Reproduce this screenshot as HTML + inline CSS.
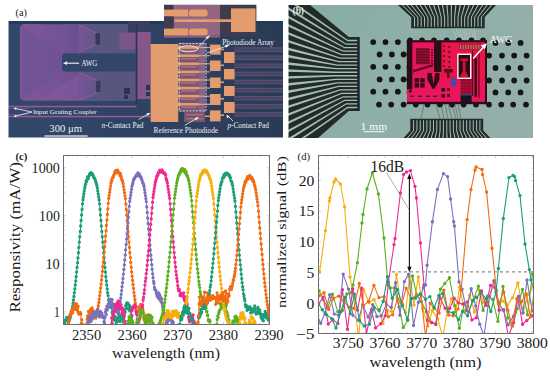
<!DOCTYPE html><html><head><meta charset="utf-8"><style>html,body{margin:0;padding:0;background:#fff;overflow:hidden;}svg{display:block;}</style></head><body><svg width="550" height="376" viewBox="0 0 550 376"><defs><clipPath id="ca"><path d="M8.5,21 H164 V4.7 H256.4 V21 H283 V137.5 H8.5 Z"/></clipPath><linearGradient id="awg" x1="0" y1="0" x2="1" y2="0"><stop offset="0" stop-color="#7e5598"/><stop offset="0.3" stop-color="#7a5497"/><stop offset="0.7" stop-color="#735293"/><stop offset="1" stop-color="#6a5090"/></linearGradient><linearGradient id="navy" x1="0" y1="0" x2="1" y2="0"><stop offset="0" stop-color="#30476b"/><stop offset="0.5" stop-color="#2f4264"/><stop offset="1" stop-color="#2b3a54"/></linearGradient></defs><defs><filter id="soft" x="-2%" y="-2%" width="104%" height="104%"><feGaussianBlur stdDeviation="0.45"/></filter></defs><g clip-path="url(#ca)"><g filter="url(#soft)"><rect x="0" y="0" width="290" height="140" fill="url(#navy)"/><rect x="8.5" y="21" width="275" height="3" fill="#243a5c"/><rect x="164" y="4.7" width="93" height="31" fill="#3d3e50"/><rect x="173.6" y="4.7" width="46.4" height="31" fill="#946682"/><rect x="62" y="24" width="74" height="77" fill="#58557f"/><defs><linearGradient id="horn" x1="0" y1="0" x2="1" y2="0"><stop offset="0" stop-color="#76549a"/><stop offset="1" stop-color="#635884"/></linearGradient></defs><path d="M20,29 Q20,24 25,24 L79,24.4 L79,52.7 L66,53.6 Q62.1,53.6 62.1,57.5 L62.1,67.7 Q62.1,71.6 66,71.6 L79,72.5 L79,100.8 L25,100.8 Q20,100.8 20,96 Z" fill="url(#awg)"/><path d="M78.5,24.4 L96.4,33 L96.4,44.7 L78.5,52.7 Z M78.5,72.5 L97,80.5 L97,92.8 L78.5,100.8 Z" fill="url(#horn)"/><path d="M22,26 L62,53.6 L62,71.6 L22,99 Z" fill="#6c5192" opacity="0.6"/><path d="M40,100 L78,100 L78,75 Z" fill="#8a5aa0" opacity="0.5"/><path d="M95.5,33 L100,33 L100,44.7 L95.5,44.7 Z" fill="#3a3556"/><path d="M96,80.5 L100.5,80.5 L100.5,92 L96,92 Z" fill="#40385c"/><path d="M79,24.4 L96.4,33 M79,52.7 L96.4,44.7 M79,72.5 L97.8,80.5 M79,100.8 L97,92.8" stroke="#a05a98" stroke-width="0.9" fill="none"/><rect x="119.5" y="32.4" width="31" height="17" fill="#7d5486"/><rect x="128" y="21" width="22" height="11.4" fill="#384162"/><rect x="137.2" y="32" width="13.4" height="67" fill="#84568a"/><rect x="135.7" y="24" width="1.6" height="80" fill="#2c3556"/><rect x="124" y="88" width="6" height="6" fill="#2c3556"/><rect x="124" y="95" width="4" height="4" fill="#2c3556"/><rect x="146" y="85" width="4" height="5" fill="#2c3556"/><rect x="146" y="92" width="4" height="4" fill="#2c3556"/><path d="M65.6,53.6 L136,53.6 L136,71.6 L65.6,71.6 Q62.1,71.6 62.1,68 L62.1,57 Q62.1,53.6 65.6,53.6 Z" fill="#31456a"/><rect x="8.5" y="105.8" width="128" height="1.5" fill="#9a5a9a"/><rect x="8.5" y="108.2" width="20" height="0.8" fill="#7a5090"/><rect x="8.5" y="114.2" width="20" height="0.8" fill="#7a5090"/><rect x="8.5" y="115.8" width="142" height="1.5" fill="#9a5a9a"/><rect x="150.6" y="44" width="27.6" height="78" fill="#e29c6e"/><rect x="179" y="43.4" width="26" height="68" fill="#7a5478"/><rect x="199" y="43.4" width="6" height="68" fill="#8c6282"/><rect x="178" y="46.3" width="21" height="2.6" fill="#e29c6e"/><rect x="181" y="49.9" width="15" height="1.3" fill="#b07a70"/><rect x="199" y="47.1" width="11" height="1" fill="#d8b0a0"/><rect x="178" y="54.4" width="21" height="2.6" fill="#e29c6e"/><rect x="181" y="58.0" width="15" height="1.3" fill="#b07a70"/><rect x="199" y="55.2" width="11" height="1" fill="#d8b0a0"/><rect x="178" y="62.5" width="21" height="2.6" fill="#e29c6e"/><rect x="181" y="66.1" width="15" height="1.3" fill="#b07a70"/><rect x="199" y="63.3" width="11" height="1" fill="#d8b0a0"/><rect x="178" y="70.6" width="21" height="2.6" fill="#e29c6e"/><rect x="181" y="74.2" width="15" height="1.3" fill="#b07a70"/><rect x="199" y="71.4" width="11" height="1" fill="#d8b0a0"/><rect x="178" y="78.7" width="21" height="2.6" fill="#e29c6e"/><rect x="181" y="82.3" width="15" height="1.3" fill="#b07a70"/><rect x="199" y="79.5" width="11" height="1" fill="#d8b0a0"/><rect x="178" y="86.8" width="21" height="2.6" fill="#e29c6e"/><rect x="181" y="90.4" width="15" height="1.3" fill="#b07a70"/><rect x="199" y="87.6" width="11" height="1" fill="#d8b0a0"/><rect x="178" y="94.9" width="21" height="2.6" fill="#e29c6e"/><rect x="181" y="98.5" width="15" height="1.3" fill="#b07a70"/><rect x="199" y="95.7" width="11" height="1" fill="#d8b0a0"/><rect x="178" y="103.0" width="21" height="2.6" fill="#e29c6e"/><rect x="181" y="106.6" width="15" height="1.3" fill="#b07a70"/><rect x="199" y="103.8" width="11" height="1" fill="#d8b0a0"/><rect x="184" y="112" width="21" height="10" fill="#7a5272"/><rect x="186" y="114" width="17" height="1.4" fill="#a87470"/><rect x="186" y="118" width="17" height="1.4" fill="#a87470"/><rect x="205" y="115.5" width="5" height="1.5" fill="#e29c6e"/><rect x="234" y="48.0" width="50" height="3.2" fill="#3c4866"/><rect x="234" y="47.4" width="50" height="0.9" fill="#6e4e72"/><rect x="234" y="50.9" width="50" height="0.9" fill="#6e4e72"/><rect x="234" y="56.1" width="50" height="3.2" fill="#3c4866"/><rect x="234" y="55.5" width="50" height="0.9" fill="#6e4e72"/><rect x="234" y="59.0" width="50" height="0.9" fill="#6e4e72"/><rect x="234" y="64.2" width="50" height="3.2" fill="#3c4866"/><rect x="234" y="63.6" width="50" height="0.9" fill="#6e4e72"/><rect x="234" y="67.1" width="50" height="0.9" fill="#6e4e72"/><rect x="234" y="72.3" width="50" height="3.2" fill="#3c4866"/><rect x="234" y="71.7" width="50" height="0.9" fill="#6e4e72"/><rect x="234" y="75.2" width="50" height="0.9" fill="#6e4e72"/><rect x="234" y="80.4" width="50" height="3.2" fill="#3c4866"/><rect x="234" y="79.8" width="50" height="0.9" fill="#6e4e72"/><rect x="234" y="83.3" width="50" height="0.9" fill="#6e4e72"/><rect x="234" y="88.5" width="50" height="3.2" fill="#3c4866"/><rect x="234" y="87.9" width="50" height="0.9" fill="#6e4e72"/><rect x="234" y="91.4" width="50" height="0.9" fill="#6e4e72"/><rect x="234" y="96.6" width="50" height="3.2" fill="#3c4866"/><rect x="234" y="96.0" width="50" height="0.9" fill="#6e4e72"/><rect x="234" y="99.5" width="50" height="0.9" fill="#6e4e72"/><rect x="234" y="104.7" width="50" height="3.2" fill="#3c4866"/><rect x="234" y="104.1" width="50" height="0.9" fill="#6e4e72"/><rect x="234" y="107.6" width="50" height="0.9" fill="#6e4e72"/><rect x="234" y="112.8" width="50" height="3.2" fill="#3c4866"/><rect x="234" y="112.2" width="50" height="0.9" fill="#6e4e72"/><rect x="234" y="115.7" width="50" height="0.9" fill="#6e4e72"/><rect x="210" y="48.6" width="14" height="1.6" fill="#e29c6e"/><rect x="210" y="44.6" width="10.6" height="10.0" fill="#e29c6e"/><rect x="210" y="64.5" width="14" height="1.6" fill="#e29c6e"/><rect x="210" y="60.5" width="10.6" height="10.5" fill="#e29c6e"/><rect x="210" y="81.5" width="14" height="1.6" fill="#e29c6e"/><rect x="210" y="77.5" width="10.6" height="10.5" fill="#e29c6e"/><rect x="210" y="98.0" width="14" height="1.6" fill="#e29c6e"/><rect x="210" y="94" width="10.6" height="11.0" fill="#e29c6e"/><rect x="210" y="114.4" width="14" height="1.6" fill="#e29c6e"/><rect x="210" y="110.4" width="10.6" height="11.0" fill="#e29c6e"/><rect x="224" y="52" width="10.6" height="11.0" fill="#e29c6e"/><rect x="224" y="69" width="10.6" height="10.4" fill="#e29c6e"/><rect x="224" y="86" width="10.6" height="10.0" fill="#e29c6e"/><rect x="224" y="102" width="10.6" height="11.0" fill="#e29c6e"/><rect x="164" y="9.6" width="24.2" height="6.9" fill="#e29c6e"/><rect x="189" y="9.6" width="18.6" height="6.9" rx="2.5" fill="#e29c6e"/><rect x="174.5" y="19.3" width="56.5" height="2.7" fill="#e29c6e"/><rect x="231" y="8.4" width="24.5" height="23.6" fill="#e29c6e"/><rect x="164" y="28.4" width="24.2" height="7.2" fill="#e29c6e"/><rect x="189" y="28.4" width="18.6" height="7.2" rx="2.5" fill="#e29c6e"/><rect x="164" y="16.5" width="9.6" height="11.9" fill="#3d3e50"/><rect x="164" y="35.6" width="56" height="2" fill="#8e5f82"/><rect x="179.2" y="43.4" width="26.8" height="67.6" fill="none" stroke="#e4e4ee" stroke-width="0.9" stroke-dasharray="2.2,1.1"/><ellipse cx="188.5" cy="48.8" rx="9.5" ry="3" fill="none" stroke="#f0f0f0" stroke-width="0.9"/></g></g><text x="81.4" y="65.5" font-size="7.6" font-family="Liberation Serif" fill="#f2f2f2" textLength="15.9" lengthAdjust="spacingAndGlyphs" >AWG</text><path d="M66,63.2 L79.1,63.2" stroke="#f2f2f2" stroke-width="1.1"/><path d="M63,63.2 L67,61.3 L67,65.1 Z" fill="#f2f2f2"/><text x="32.9" y="114.4" font-size="6.8" font-family="Liberation Serif" fill="#f2f2f2" textLength="63.8" lengthAdjust="spacingAndGlyphs" >Input Grating Coupler</text><path d="M32,112 L15.5,108.6 M32,112 L15.5,116" stroke="#f2f2f2" stroke-width="0.8" fill="none"/><path d="M13.5,108.2 L16.5,107.3 L16,110 Z M13.5,116.4 L16,114.6 L16.5,117.3 Z" fill="#f2f2f2"/><text x="49.3" y="132.4" font-size="10.2" font-family="Liberation Serif" fill="#f2f2f2" textLength="32.7" lengthAdjust="spacingAndGlyphs" >300 μm</text><rect x="44.4" y="135.4" width="43.3" height="1.2" fill="#f2f2f2"/><text x="101.6" y="128.2" font-size="7.6" font-family="Liberation Serif" fill="#f2f2f2" textLength="41.9" lengthAdjust="spacingAndGlyphs" ><tspan font-style="italic">n</tspan>-Contact Pad</text><text x="153.6" y="133" font-size="7.6" font-family="Liberation Serif" fill="#f2f2f2" textLength="64.4" lengthAdjust="spacingAndGlyphs" >Reference Photodiode</text><text x="227.4" y="128" font-size="7.6" font-family="Liberation Serif" fill="#f2f2f2" textLength="41.6" lengthAdjust="spacingAndGlyphs" ><tspan font-style="italic">p</tspan>-Contact Pad</text><text x="222.3" y="45" font-size="7.6" font-family="Liberation Serif" fill="#f2f2f2" textLength="51.7" lengthAdjust="spacingAndGlyphs" >Photodiode Array</text><path d="M199,46.5 L208,37 M207,53 L227,45.8 M138.7,119.5 L149,113.6 M184.8,125.4 L197.5,117.8 M233,121 L228,116" stroke="#f2f2f2" stroke-width="0.8" fill="none"/><path d="M210,35 L205.5,37.3 L207.8,39.2 Z M229.5,45 L224.8,45 L226,47.8 Z M150.6,112.8 L146.2,113.6 L147.8,116 Z M199,117 L194.7,118 L196.2,120.4 Z M226.5,114.5 L227,118.5 L229.5,116.6 Z" fill="#f2f2f2"/><text x="15.5" y="16.4" font-size="10.5" font-family="Liberation Serif" fill="#1a1a1a" textLength="11.4" lengthAdjust="spacingAndGlyphs">(a)</text><defs><clipPath id="cb"><rect x="288.5" y="5" width="244.5" height="133"/></clipPath><linearGradient id="bgb" x1="0" y1="0" x2="1" y2="0.3"><stop offset="0" stop-color="#86aca4"/><stop offset="0.5" stop-color="#8fafa9"/><stop offset="1" stop-color="#94aeaa"/></linearGradient><linearGradient id="chipg" x1="0" y1="0" x2="1" y2="1"><stop offset="0" stop-color="#e0184e"/><stop offset="0.6" stop-color="#e41a52"/><stop offset="1" stop-color="#c8144a"/></linearGradient></defs><g clip-path="url(#cb)"><g filter="url(#soft)"><rect x="288.5" y="5" width="244.5" height="133" fill="url(#bgb)"/><path d="M280,5 L310,5 L348.8,37 L359.5,37 L359.5,111 L348.8,111 L318,138 L280,138 Z" fill="#232a2b"/><path d="M280.00,-7.31 L347.52,39.87 L357.50,39.87 L357.50,41.17 L347.52,41.17 L280.00,-4.51Z" fill="#a2c0b0"/><path d="M280.00,2.01 L346.05,43.40 L357.50,43.40 L357.50,44.70 L346.05,44.70 L280.00,4.81Z" fill="#a2c0b0"/><path d="M280.00,11.12 L344.57,46.92 L357.50,46.92 L357.50,48.22 L344.57,48.22 L280.00,13.92Z" fill="#a2c0b0"/><path d="M280.00,20.01 L343.10,50.45 L357.50,50.45 L357.50,51.75 L343.10,51.75 L280.00,22.81Z" fill="#a2c0b0"/><path d="M280.00,28.69 L341.62,53.97 L357.50,53.97 L357.50,55.27 L341.62,55.27 L280.00,31.49Z" fill="#a2c0b0"/><path d="M280.00,37.15 L340.14,57.49 L357.50,57.49 L357.50,58.79 L340.14,58.79 L280.00,39.95Z" fill="#a2c0b0"/><path d="M280.00,45.40 L338.67,61.02 L357.50,61.02 L357.50,62.32 L338.67,62.32 L280.00,48.20Z" fill="#a2c0b0"/><path d="M280.00,53.44 L337.19,64.54 L357.50,64.54 L357.50,65.84 L337.19,65.84 L280.00,56.24Z" fill="#a2c0b0"/><path d="M280.00,61.27 L335.71,68.06 L357.50,68.06 L357.50,69.36 L335.71,69.36 L280.00,64.07Z" fill="#a2c0b0"/><path d="M280.00,68.88 L334.24,71.59 L357.50,71.59 L357.50,72.89 L334.24,72.89 L280.00,71.68Z" fill="#a2c0b0"/><path d="M280.00,76.32 L334.24,75.11 L357.50,75.11 L357.50,76.41 L334.24,76.41 L280.00,79.12Z" fill="#a2c0b0"/><path d="M280.00,83.93 L335.71,78.64 L357.50,78.64 L357.50,79.94 L335.71,79.94 L280.00,86.73Z" fill="#a2c0b0"/><path d="M280.00,91.76 L337.19,82.16 L357.50,82.16 L357.50,83.46 L337.19,83.46 L280.00,94.56Z" fill="#a2c0b0"/><path d="M280.00,99.80 L338.67,85.68 L357.50,85.68 L357.50,86.98 L338.67,86.98 L280.00,102.60Z" fill="#a2c0b0"/><path d="M280.00,108.05 L340.14,89.21 L357.50,89.21 L357.50,90.51 L340.14,90.51 L280.00,110.85Z" fill="#a2c0b0"/><path d="M280.00,116.51 L341.62,92.73 L357.50,92.73 L357.50,94.03 L341.62,94.03 L280.00,119.31Z" fill="#a2c0b0"/><path d="M280.00,125.19 L343.10,96.25 L357.50,96.25 L357.50,97.55 L343.10,97.55 L280.00,127.99Z" fill="#a2c0b0"/><path d="M280.00,134.08 L344.57,99.78 L357.50,99.78 L357.50,101.08 L344.57,101.08 L280.00,136.88Z" fill="#a2c0b0"/><path d="M280.00,143.19 L346.05,103.30 L357.50,103.30 L357.50,104.60 L346.05,104.60 L280.00,145.99Z" fill="#a2c0b0"/><path d="M280.00,152.51 L347.52,106.83 L357.50,106.83 L357.50,108.13 L347.52,108.13 L280.00,155.31Z" fill="#a2c0b0"/><rect x="357.5" y="37" width="2" height="74" fill="#1a2238"/><path d="M397.9,5 L496,5 L484.7,17.3 L484.7,28.2 L411.2,28.2 L411.2,17.3 Z" fill="#232a2b"/><path d="M401.76,5 L414.04,17.3 L414.04,26.8 L415.04,26.8 L415.04,17.3 L402.96,5 Z" fill="#a2c0b0"/><path d="M406.22,5 L417.38,17.3 L417.38,26.8 L418.38,26.8 L418.38,17.3 L407.42,5 Z" fill="#a2c0b0"/><path d="M410.68,5 L420.72,17.3 L420.72,26.8 L421.72,26.8 L421.72,17.3 L411.88,5 Z" fill="#a2c0b0"/><path d="M415.14,5 L424.06,17.3 L424.06,26.8 L425.06,26.8 L425.06,17.3 L416.34,5 Z" fill="#a2c0b0"/><path d="M419.60,5 L427.40,17.3 L427.40,26.8 L428.40,26.8 L428.40,17.3 L420.80,5 Z" fill="#a2c0b0"/><path d="M424.05,5 L430.75,17.3 L430.75,26.8 L431.75,26.8 L431.75,17.3 L425.25,5 Z" fill="#a2c0b0"/><path d="M428.51,5 L434.09,17.3 L434.09,26.8 L435.09,26.8 L435.09,17.3 L429.71,5 Z" fill="#a2c0b0"/><path d="M432.97,5 L437.43,17.3 L437.43,26.8 L438.43,26.8 L438.43,17.3 L434.17,5 Z" fill="#a2c0b0"/><path d="M437.43,5 L440.77,17.3 L440.77,26.8 L441.77,26.8 L441.77,17.3 L438.63,5 Z" fill="#a2c0b0"/><path d="M441.89,5 L444.11,17.3 L444.11,26.8 L445.11,26.8 L445.11,17.3 L443.09,5 Z" fill="#a2c0b0"/><path d="M446.35,5 L447.45,17.3 L447.45,26.8 L448.45,26.8 L448.45,17.3 L447.55,5 Z" fill="#a2c0b0"/><path d="M450.81,5 L450.79,17.3 L450.79,26.8 L451.79,26.8 L451.79,17.3 L452.01,5 Z" fill="#a2c0b0"/><path d="M455.27,5 L454.13,17.3 L454.13,26.8 L455.13,26.8 L455.13,17.3 L456.47,5 Z" fill="#a2c0b0"/><path d="M459.73,5 L457.47,17.3 L457.47,26.8 L458.47,26.8 L458.47,17.3 L460.93,5 Z" fill="#a2c0b0"/><path d="M464.19,5 L460.81,17.3 L460.81,26.8 L461.81,26.8 L461.81,17.3 L465.39,5 Z" fill="#a2c0b0"/><path d="M468.65,5 L464.15,17.3 L464.15,26.8 L465.15,26.8 L465.15,17.3 L469.85,5 Z" fill="#a2c0b0"/><path d="M473.10,5 L467.50,17.3 L467.50,26.8 L468.50,26.8 L468.50,17.3 L474.30,5 Z" fill="#a2c0b0"/><path d="M477.56,5 L470.84,17.3 L470.84,26.8 L471.84,26.8 L471.84,17.3 L478.76,5 Z" fill="#a2c0b0"/><path d="M482.02,5 L474.18,17.3 L474.18,26.8 L475.18,26.8 L475.18,17.3 L483.22,5 Z" fill="#a2c0b0"/><path d="M486.48,5 L477.52,17.3 L477.52,26.8 L478.52,26.8 L478.52,17.3 L487.68,5 Z" fill="#a2c0b0"/><path d="M490.94,5 L480.86,17.3 L480.86,26.8 L481.86,26.8 L481.86,17.3 L492.14,5 Z" fill="#a2c0b0"/><path d="M410.3,118.7 L483.2,118.7 L483.2,130.5 L492.3,140 L401.7,140 L410.3,130.5 Z" fill="#232a2b"/><path d="M413.11,120.2 L413.11,130.5 L405.22,140 L406.42,140 L414.11,130.5 L414.11,120.2 Z" fill="#a2c0b0"/><path d="M416.43,120.2 L416.43,130.5 L409.34,140 L410.54,140 L417.43,130.5 L417.43,120.2 Z" fill="#a2c0b0"/><path d="M419.74,120.2 L419.74,130.5 L413.45,140 L414.65,140 L420.74,130.5 L420.74,120.2 Z" fill="#a2c0b0"/><path d="M423.05,120.2 L423.05,130.5 L417.57,140 L418.77,140 L424.05,130.5 L424.05,120.2 Z" fill="#a2c0b0"/><path d="M426.37,120.2 L426.37,130.5 L421.69,140 L422.89,140 L427.37,130.5 L427.37,120.2 Z" fill="#a2c0b0"/><path d="M429.68,120.2 L429.68,130.5 L425.81,140 L427.01,140 L430.68,130.5 L430.68,120.2 Z" fill="#a2c0b0"/><path d="M433.00,120.2 L433.00,130.5 L429.93,140 L431.13,140 L434.00,130.5 L434.00,120.2 Z" fill="#a2c0b0"/><path d="M436.31,120.2 L436.31,130.5 L434.05,140 L435.25,140 L437.31,130.5 L437.31,120.2 Z" fill="#a2c0b0"/><path d="M439.62,120.2 L439.62,130.5 L438.16,140 L439.36,140 L440.62,130.5 L440.62,120.2 Z" fill="#a2c0b0"/><path d="M442.94,120.2 L442.94,130.5 L442.28,140 L443.48,140 L443.94,130.5 L443.94,120.2 Z" fill="#a2c0b0"/><path d="M446.25,120.2 L446.25,130.5 L446.40,140 L447.60,140 L447.25,130.5 L447.25,120.2 Z" fill="#a2c0b0"/><path d="M449.56,120.2 L449.56,130.5 L450.52,140 L451.72,140 L450.56,130.5 L450.56,120.2 Z" fill="#a2c0b0"/><path d="M452.88,120.2 L452.88,130.5 L454.64,140 L455.84,140 L453.88,130.5 L453.88,120.2 Z" fill="#a2c0b0"/><path d="M456.19,120.2 L456.19,130.5 L458.75,140 L459.95,140 L457.19,130.5 L457.19,120.2 Z" fill="#a2c0b0"/><path d="M459.50,120.2 L459.50,130.5 L462.87,140 L464.07,140 L460.50,130.5 L460.50,120.2 Z" fill="#a2c0b0"/><path d="M462.82,120.2 L462.82,130.5 L466.99,140 L468.19,140 L463.82,130.5 L463.82,120.2 Z" fill="#a2c0b0"/><path d="M466.13,120.2 L466.13,130.5 L471.11,140 L472.31,140 L467.13,130.5 L467.13,120.2 Z" fill="#a2c0b0"/><path d="M469.45,120.2 L469.45,130.5 L475.23,140 L476.43,140 L470.45,130.5 L470.45,120.2 Z" fill="#a2c0b0"/><path d="M472.76,120.2 L472.76,130.5 L479.35,140 L480.55,140 L473.76,130.5 L473.76,120.2 Z" fill="#a2c0b0"/><path d="M476.07,120.2 L476.07,130.5 L483.46,140 L484.66,140 L477.07,130.5 L477.07,120.2 Z" fill="#a2c0b0"/><path d="M479.39,120.2 L479.39,130.5 L487.58,140 L488.78,140 L480.39,130.5 L480.39,120.2 Z" fill="#a2c0b0"/><path d="M452,28.2 L458,40 M456,28.2 L461,40 M459,28.2 L463,40 M462,28.2 L466,40 M465,28.2 L468,40 M468,28.2 L471,40 M471,28.2 L474,40 M474,28.2 L476,40 " stroke="#c8d0cc" stroke-width="0.5" fill="none"/><path d="M424,104 L421,118.7 M436,104 L440,118.7 M441,104 L444,118.7 M445,104 L448,118.7 M448,104 L452,118.7 M452,104 L456,118.7 M455,104 L458,118.7 M458,104 L461,118.7 " stroke="#4a5552" stroke-width="0.5" fill="none"/><path d="M370.3,42.1a2.9,2.9 0 1,0 5.8,0a2.9,2.9 0 1,0 -5.8,0M382.6,42.1a2.9,2.9 0 1,0 5.8,0a2.9,2.9 0 1,0 -5.8,0M395.0,42.1a2.9,2.9 0 1,0 5.8,0a2.9,2.9 0 1,0 -5.8,0M376.7,54.5a2.9,2.9 0 1,0 5.8,0a2.9,2.9 0 1,0 -5.8,0M389.0,54.5a2.9,2.9 0 1,0 5.8,0a2.9,2.9 0 1,0 -5.8,0M400.7,54.5a2.9,2.9 0 1,0 5.8,0a2.9,2.9 0 1,0 -5.8,0M370.3,66.8a2.9,2.9 0 1,0 5.8,0a2.9,2.9 0 1,0 -5.8,0M382.6,66.8a2.9,2.9 0 1,0 5.8,0a2.9,2.9 0 1,0 -5.8,0M395.0,66.8a2.9,2.9 0 1,0 5.8,0a2.9,2.9 0 1,0 -5.8,0M376.7,79.4a2.9,2.9 0 1,0 5.8,0a2.9,2.9 0 1,0 -5.8,0M389.0,79.4a2.9,2.9 0 1,0 5.8,0a2.9,2.9 0 1,0 -5.8,0M400.7,79.4a2.9,2.9 0 1,0 5.8,0a2.9,2.9 0 1,0 -5.8,0M370.3,91.7a2.9,2.9 0 1,0 5.8,0a2.9,2.9 0 1,0 -5.8,0M382.6,91.7a2.9,2.9 0 1,0 5.8,0a2.9,2.9 0 1,0 -5.8,0M395.0,91.7a2.9,2.9 0 1,0 5.8,0a2.9,2.9 0 1,0 -5.8,0M480.7,42.9a2.9,2.9 0 1,0 5.8,0a2.9,2.9 0 1,0 -5.8,0M492.6,42.9a2.9,2.9 0 1,0 5.8,0a2.9,2.9 0 1,0 -5.8,0M505.3,42.9a2.9,2.9 0 1,0 5.8,0a2.9,2.9 0 1,0 -5.8,0M517.7,42.9a2.9,2.9 0 1,0 5.8,0a2.9,2.9 0 1,0 -5.8,0M486.2,55.6a2.9,2.9 0 1,0 5.8,0a2.9,2.9 0 1,0 -5.8,0M499.1,55.6a2.9,2.9 0 1,0 5.8,0a2.9,2.9 0 1,0 -5.8,0M511.3,55.6a2.9,2.9 0 1,0 5.8,0a2.9,2.9 0 1,0 -5.8,0M523.7,55.6a2.9,2.9 0 1,0 5.8,0a2.9,2.9 0 1,0 -5.8,0M480.7,68a2.9,2.9 0 1,0 5.8,0a2.9,2.9 0 1,0 -5.8,0M492.6,68a2.9,2.9 0 1,0 5.8,0a2.9,2.9 0 1,0 -5.8,0M505.3,68a2.9,2.9 0 1,0 5.8,0a2.9,2.9 0 1,0 -5.8,0M517.7,68a2.9,2.9 0 1,0 5.8,0a2.9,2.9 0 1,0 -5.8,0M486.2,80.5a2.9,2.9 0 1,0 5.8,0a2.9,2.9 0 1,0 -5.8,0M499.1,80.5a2.9,2.9 0 1,0 5.8,0a2.9,2.9 0 1,0 -5.8,0M511.3,80.5a2.9,2.9 0 1,0 5.8,0a2.9,2.9 0 1,0 -5.8,0M523.7,80.5a2.9,2.9 0 1,0 5.8,0a2.9,2.9 0 1,0 -5.8,0M480.7,92.4a2.9,2.9 0 1,0 5.8,0a2.9,2.9 0 1,0 -5.8,0M492.6,92.4a2.9,2.9 0 1,0 5.8,0a2.9,2.9 0 1,0 -5.8,0M505.3,92.4a2.9,2.9 0 1,0 5.8,0a2.9,2.9 0 1,0 -5.8,0M517.7,92.4a2.9,2.9 0 1,0 5.8,0a2.9,2.9 0 1,0 -5.8,0M376.1,104.6a2.9,2.9 0 1,0 5.8,0a2.9,2.9 0 1,0 -5.8,0M388.3,104.6a2.9,2.9 0 1,0 5.8,0a2.9,2.9 0 1,0 -5.8,0M400.7,104.6a2.9,2.9 0 1,0 5.8,0a2.9,2.9 0 1,0 -5.8,0M412.9,104.6a2.9,2.9 0 1,0 5.8,0a2.9,2.9 0 1,0 -5.8,0M424.6,104.6a2.9,2.9 0 1,0 5.8,0a2.9,2.9 0 1,0 -5.8,0M437.1,104.6a2.9,2.9 0 1,0 5.8,0a2.9,2.9 0 1,0 -5.8,0M449.1,104.6a2.9,2.9 0 1,0 5.8,0a2.9,2.9 0 1,0 -5.8,0M460.7,104.6a2.9,2.9 0 1,0 5.8,0a2.9,2.9 0 1,0 -5.8,0M473.1,104.6a2.9,2.9 0 1,0 5.8,0a2.9,2.9 0 1,0 -5.8,0M486.1,104.6a2.9,2.9 0 1,0 5.8,0a2.9,2.9 0 1,0 -5.8,0M498.4,104.6a2.9,2.9 0 1,0 5.8,0a2.9,2.9 0 1,0 -5.8,0M510.3,104.6a2.9,2.9 0 1,0 5.8,0a2.9,2.9 0 1,0 -5.8,0M523.1,104.6a2.9,2.9 0 1,0 5.8,0a2.9,2.9 0 1,0 -5.8,0M407.1,40.5a2.9,2.9 0 1,0 5.8,0a2.9,2.9 0 1,0 -5.8,0M419.1,40.5a2.9,2.9 0 1,0 5.8,0a2.9,2.9 0 1,0 -5.8,0M431.1,40.5a2.9,2.9 0 1,0 5.8,0a2.9,2.9 0 1,0 -5.8,0M443.8,40.5a2.9,2.9 0 1,0 5.8,0a2.9,2.9 0 1,0 -5.8,0M456.1,40.5a2.9,2.9 0 1,0 5.8,0a2.9,2.9 0 1,0 -5.8,0M468.6,40.5a2.9,2.9 0 1,0 5.8,0a2.9,2.9 0 1,0 -5.8,0M480.1,40.5a2.9,2.9 0 1,0 5.8,0a2.9,2.9 0 1,0 -5.8,0M406.6,54a2.9,2.9 0 1,0 5.8,0a2.9,2.9 0 1,0 -5.8,0M406.6,67a2.9,2.9 0 1,0 5.8,0a2.9,2.9 0 1,0 -5.8,0M406.6,79.5a2.9,2.9 0 1,0 5.8,0a2.9,2.9 0 1,0 -5.8,0M406.6,92a2.9,2.9 0 1,0 5.8,0a2.9,2.9 0 1,0 -5.8,0" fill="#141818"/><rect x="407" y="40.5" width="79.5" height="63.5" fill="#e8165c"/><rect x="441" y="41" width="45" height="40" fill="#e8124c"/><rect x="406.8" y="40.3" width="5.5" height="49" fill="#2a0812"/><rect x="406.8" y="40.3" width="80" height="2" fill="#2a0812"/><rect x="406.8" y="101.8" width="80" height="2.4" fill="#2a0812"/><rect x="485" y="40.3" width="2" height="63.9" fill="#2a0812"/><rect x="415.9" y="48.4" width="13.6" height="16" fill="#a01034"/><rect x="415.9" y="48.6" width="13.6" height="1.3" fill="#5a0a22"/><rect x="415.9" y="51.3" width="13.6" height="1.3" fill="#5a0a22"/><rect x="415.9" y="54.0" width="13.6" height="1.3" fill="#5a0a22"/><rect x="415.9" y="56.7" width="13.6" height="1.3" fill="#5a0a22"/><rect x="415.9" y="59.4" width="13.6" height="1.3" fill="#5a0a22"/><rect x="415.9" y="62.1" width="13.6" height="1.3" fill="#5a0a22"/><rect x="431.2" y="49.5" width="1.6" height="1.4" fill="#2a0812"/><rect x="431.2" y="52.1" width="1.6" height="1.4" fill="#2a0812"/><rect x="431.2" y="54.7" width="1.6" height="1.4" fill="#2a0812"/><rect x="431.2" y="57.3" width="1.6" height="1.4" fill="#2a0812"/><rect x="431.2" y="59.9" width="1.6" height="1.4" fill="#2a0812"/><rect x="431.2" y="62.5" width="1.6" height="1.4" fill="#2a0812"/><rect x="434" y="41.6" width="7.4" height="30.4" fill="#2a0812"/><path d="M413,70 L433,64 L433,66.5 L413,72.5 Z" fill="#5a0a22"/><path d="M427.5,72.9 L431.5,72.9 L433.6,84 L435.3,72.9 L439.4,72.9 L439.4,80 L434.5,88.7 L432.5,88.7 L427.5,80 Z" fill="#2a0812"/><rect x="414.6" y="78.1" width="4.4" height="4.3" fill="#2a0812"/><rect x="414.6" y="83.2" width="4.4" height="4.3" fill="#2a0812"/><rect x="420.2" y="78.1" width="4.4" height="4.3" fill="#2a0812"/><rect x="420.2" y="83.2" width="4.4" height="4.3" fill="#2a0812"/><rect x="410" y="95.6" width="4" height="1.3" fill="#3a1040"/><rect x="418" y="95.6" width="4" height="1.3" fill="#3a1040"/><rect x="426" y="95.6" width="4" height="1.3" fill="#3a1040"/><rect x="433" y="95.6" width="4" height="1.3" fill="#3a1040"/><rect x="409" y="90" width="2.5" height="2.5" fill="#2a0812"/><rect x="443" y="45" width="1.6" height="2" fill="#5a0a22"/><rect x="448.5" y="46" width="1.6" height="2" fill="#5a0a22"/><rect x="443" y="50" width="1.6" height="2" fill="#5a0a22"/><rect x="448.5" y="51" width="1.6" height="2" fill="#5a0a22"/><rect x="443" y="55" width="1.6" height="2" fill="#5a0a22"/><rect x="448.5" y="56" width="1.6" height="2" fill="#5a0a22"/><rect x="443" y="60" width="1.6" height="2" fill="#5a0a22"/><rect x="448.5" y="61" width="1.6" height="2" fill="#5a0a22"/><rect x="443" y="65" width="1.6" height="2" fill="#5a0a22"/><rect x="448.5" y="66" width="1.6" height="2" fill="#5a0a22"/><rect x="444" y="69" width="9" height="3.5" fill="#5a0a22"/><rect x="447" y="72" width="2.5" height="6" fill="#5a0a22"/><rect x="441.5" y="88" width="3.5" height="3.5" fill="#2a0812"/><rect x="441.5" y="94" width="3.5" height="3.5" fill="#2a0812"/><rect x="447" y="88" width="3" height="3" fill="#5a0a22"/><rect x="447" y="94" width="3" height="3" fill="#5a0a22"/><path d="M453.6,77.2 C457.5,77.2 457.5,86.8 453.6,86.8 C449.7,86.8 449.7,77.2 453.6,77.2 Z" fill="#4c48a8"/><rect x="458" y="54.5" width="12.3" height="23.5" fill="#2a0812"/><path d="M460.5,58.5 H468 V61 H465.5 V71 L468.5,77 H459.8 L462.8,71 V61 H460.5 Z" fill="#d81038"/><rect x="460.6" y="78.5" width="11" height="16" fill="#a81034"/><rect x="460.6" y="79.5" width="11" height="1" fill="#801028"/><rect x="460.6" y="82.5" width="11" height="1" fill="#801028"/><rect x="460.6" y="85.5" width="11" height="1" fill="#801028"/><rect x="460.6" y="88.5" width="11" height="1" fill="#801028"/><rect x="460.6" y="91.5" width="11" height="1" fill="#801028"/><rect x="460.6" y="94.4" width="11" height="8.2" fill="#121424"/><rect x="460.6" y="94.4" width="11" height="1" fill="#3a5a80"/><rect x="472.2" y="50" width="0.9" height="46" fill="#2a0812"/><rect x="474.5" y="58" width="2.4" height="38.8" fill="#2a0812"/><rect x="478.2" y="48" width="1.6" height="50" fill="#8a0a2a"/><rect x="459" y="42.5" width="22" height="8" fill="#b0203e"/><rect x="460.0" y="45" width="1.2" height="4" fill="#c89070" opacity="0.7"/><rect x="462.6" y="45" width="1.2" height="4" fill="#c89070" opacity="0.7"/><rect x="465.2" y="45" width="1.2" height="4" fill="#c89070" opacity="0.7"/><rect x="467.8" y="45" width="1.2" height="4" fill="#c89070" opacity="0.7"/><rect x="470.4" y="45" width="1.2" height="4" fill="#c89070" opacity="0.7"/><rect x="473.0" y="45" width="1.2" height="4" fill="#c89070" opacity="0.7"/><rect x="475.6" y="45" width="1.2" height="4" fill="#c89070" opacity="0.7"/><rect x="478.2" y="45" width="1.2" height="4" fill="#c89070" opacity="0.7"/><rect x="457.9" y="54.3" width="12.8" height="23.9" fill="none" stroke="#f8f8f8" stroke-width="1.4"/><path d="M473.2,58.5 L484,46.5" stroke="#fff" stroke-width="1.5"/><path d="M487,43.3 L480.6,45.4 L484.8,49.2 Z" fill="#fff"/></g></g><text x="489.8" y="42.7" font-size="9.5" font-family="Liberation Serif" fill="#fafafa" textLength="22.5" lengthAdjust="spacingAndGlyphs">AWG</text><text x="360.6" y="130.4" font-size="11" font-family="Liberation Serif" fill="#fafafa" textLength="26.5" lengthAdjust="spacingAndGlyphs">1 mm</text><rect x="364" y="131.2" width="20.4" height="1" fill="#fafafa"/><text x="292.5" y="14" font-size="10.5" font-weight="bold" font-family="Liberation Serif" fill="#e4eaea" textLength="11.5" lengthAdjust="spacingAndGlyphs">(b)</text><rect x="63.5" y="155.5" width="206.0" height="169.0" fill="#fff"/><path d="M68.4,155.5 v1.6 M68.4,324.5 v-1.6 M77.5,155.5 v1.6 M77.5,324.5 v-1.6 M86.6,155.5 v2.6 M86.6,324.5 v-2.6 M95.7,155.5 v1.6 M95.7,324.5 v-1.6 M104.8,155.5 v1.6 M104.8,324.5 v-1.6 M114.0,155.5 v1.6 M114.0,324.5 v-1.6 M123.1,155.5 v1.6 M123.1,324.5 v-1.6 M132.2,155.5 v2.6 M132.2,324.5 v-2.6 M141.3,155.5 v1.6 M141.3,324.5 v-1.6 M150.4,155.5 v1.6 M150.4,324.5 v-1.6 M159.6,155.5 v1.6 M159.6,324.5 v-1.6 M168.7,155.5 v1.6 M168.7,324.5 v-1.6 M177.8,155.5 v2.6 M177.8,324.5 v-2.6 M186.9,155.5 v1.6 M186.9,324.5 v-1.6 M196.0,155.5 v1.6 M196.0,324.5 v-1.6 M205.2,155.5 v1.6 M205.2,324.5 v-1.6 M214.3,155.5 v1.6 M214.3,324.5 v-1.6 M223.4,155.5 v2.6 M223.4,324.5 v-2.6 M232.5,155.5 v1.6 M232.5,324.5 v-1.6 M241.6,155.5 v1.6 M241.6,324.5 v-1.6 M250.8,155.5 v1.6 M250.8,324.5 v-1.6 M259.9,155.5 v1.6 M259.9,324.5 v-1.6 M269.0,155.5 v2.6 M269.0,324.5 v-2.6 M63.5,322.4 h1.6 M269.5,322.4 h-1.6 M63.5,319.2 h1.6 M269.5,319.2 h-1.6 M63.5,316.5 h1.6 M269.5,316.5 h-1.6 M63.5,314.0 h1.6 M269.5,314.0 h-1.6 M63.5,311.8 h2.6 M269.5,311.8 h-2.6 M63.5,297.4 h1.6 M269.5,297.4 h-1.6 M63.5,288.9 h1.6 M269.5,288.9 h-1.6 M63.5,282.9 h1.6 M269.5,282.9 h-1.6 M63.5,278.2 h1.6 M269.5,278.2 h-1.6 M63.5,274.4 h1.6 M269.5,274.4 h-1.6 M63.5,271.2 h1.6 M269.5,271.2 h-1.6 M63.5,268.5 h1.6 M269.5,268.5 h-1.6 M63.5,266.0 h1.6 M269.5,266.0 h-1.6 M63.5,263.8 h2.6 M269.5,263.8 h-2.6 M63.5,249.4 h1.6 M269.5,249.4 h-1.6 M63.5,240.9 h1.6 M269.5,240.9 h-1.6 M63.5,234.9 h1.6 M269.5,234.9 h-1.6 M63.5,230.2 h1.6 M269.5,230.2 h-1.6 M63.5,226.4 h1.6 M269.5,226.4 h-1.6 M63.5,223.2 h1.6 M269.5,223.2 h-1.6 M63.5,220.5 h1.6 M269.5,220.5 h-1.6 M63.5,218.0 h1.6 M269.5,218.0 h-1.6 M63.5,215.8 h2.6 M269.5,215.8 h-2.6 M63.5,201.4 h1.6 M269.5,201.4 h-1.6 M63.5,192.9 h1.6 M269.5,192.9 h-1.6 M63.5,186.9 h1.6 M269.5,186.9 h-1.6 M63.5,182.2 h1.6 M269.5,182.2 h-1.6 M63.5,178.4 h1.6 M269.5,178.4 h-1.6 M63.5,175.2 h1.6 M269.5,175.2 h-1.6 M63.5,172.5 h1.6 M269.5,172.5 h-1.6 M63.5,170.0 h1.6 M269.5,170.0 h-1.6 M63.5,167.8 h2.6 M269.5,167.8 h-2.6" stroke="#b0b0b0" stroke-width="0.6" fill="none"/><defs><clipPath id="cc"><rect x="63.5" y="155.5" width="206.0" height="168.4"/></clipPath></defs><g clip-path="url(#cc)"><path d="M64.0,322.8 L64.5,322.4 L64.9,324.1 L65.4,320.0 L65.8,319.9 L66.3,320.2 L66.7,317.3 L67.2,319.6 L67.6,320.5 L68.1,321.7 L68.5,317.7 L69.0,319.2 L69.4,320.2 L69.9,318.8 L70.3,317.3 L70.8,315.6 L71.2,313.7 L71.7,311.6 L72.1,309.3 L72.6,306.4 L73.0,303.2 L73.5,299.9 L73.9,296.4 L74.4,292.7 L74.8,288.9 L75.3,284.9 L75.7,280.9 L76.2,276.7 L76.6,272.1 L77.1,267.4 L77.5,262.7 L78.0,257.9 L78.4,252.7 L78.9,247.4 L79.3,242.1 L79.8,236.8 L80.2,231.4 L80.7,226.0 L81.1,220.5 L81.6,214.9 L82.0,209.4 L82.5,203.8 L82.9,200.0 L83.4,197.0 L83.8,194.0 L84.3,191.0 L84.7,188.0 L85.2,185.5 L85.6,183.9 L86.1,181.1 L86.5,181.7 L87.0,179.7 L87.4,176.9 L87.9,178.9 L88.3,178.1 L88.8,176.4 L89.2,175.7 L89.7,174.0 L90.1,173.2 L90.6,174.4 L91.0,172.7 L91.5,173.4 L91.9,173.9 L92.4,173.6 L92.8,175.2 L93.3,175.7 L93.7,177.7 L94.2,177.6 L94.6,178.7 L95.1,179.2 L95.5,181.2 L96.0,182.2 L96.4,183.9 L96.9,185.5 L97.3,188.0 L97.8,191.0 L98.2,194.0 L98.7,197.0 L99.1,200.0 L99.6,203.8 L100.0,209.4 L100.5,214.9 L100.9,220.5 L101.4,226.0 L101.8,231.4 L102.3,236.8 L102.7,242.1 L103.2,247.4 L103.6,252.7 L104.1,257.9 L104.5,262.7 L105.0,267.4 L105.4,272.1 L105.9,276.7 L106.3,280.9 L106.8,284.9 L107.2,288.9 L107.7,292.7 L108.1,295.6 L108.6,299.9 L109.0,302.7 L109.5,304.7 L109.9,306.3 L110.4,306.0 L110.8,306.6 L111.3,307.8 L111.7,307.6 L112.2,312.5 L112.6,311.5 L113.1,315.4 L113.5,313.9 L114.0,319.1 L114.4,320.1 L114.9,316.3 L115.3,319.8 L115.8,326.9 L116.2,324.6 L116.7,326.7 L117.1,321.2 L117.6,317.6 L118.0,320.9 L118.5,321.2 L118.9,316.6 L119.4,314.7 L119.8,316.5 L120.3,321.6 L120.7,320.3 L121.2,315.8 L121.6,317.6 L122.1,317.6 L122.5,318.6 L123.0,325.7 L123.4,317.5 L123.9,317.7 L124.3,314.1 L124.8,309.8 L125.2,312.1 L125.7,305.7 L126.1,308.4 L126.6,303.2 L127.0,304.9 L127.5,302.8 L127.9,303.2 L128.4,309.0 L128.8,308.2 L129.3,305.1 L129.7,310.9 L130.2,307.0 L130.6,310.3 L131.1,316.1 L131.5,316.8 L132.0,315.3 L132.4,325.4 L132.9,322.6 L133.3,326.7 L133.8,330.0 L134.2,330.0 L134.7,330.0" stroke="#1b9e77" stroke-width="1.1" fill="none"/><path d="M62.4,322.8a1.65,1.65 0 1,0 3.3,0a1.65,1.65 0 1,0 -3.3,0M62.8,322.4a1.65,1.65 0 1,0 3.3,0a1.65,1.65 0 1,0 -3.3,0M63.3,324.1a1.65,1.65 0 1,0 3.3,0a1.65,1.65 0 1,0 -3.3,0M63.7,320.0a1.65,1.65 0 1,0 3.3,0a1.65,1.65 0 1,0 -3.3,0M64.2,319.9a1.65,1.65 0 1,0 3.3,0a1.65,1.65 0 1,0 -3.3,0M64.6,320.2a1.65,1.65 0 1,0 3.3,0a1.65,1.65 0 1,0 -3.3,0M65.1,317.3a1.65,1.65 0 1,0 3.3,0a1.65,1.65 0 1,0 -3.3,0M65.5,319.6a1.65,1.65 0 1,0 3.3,0a1.65,1.65 0 1,0 -3.3,0M66.0,320.5a1.65,1.65 0 1,0 3.3,0a1.65,1.65 0 1,0 -3.3,0M66.4,321.7a1.65,1.65 0 1,0 3.3,0a1.65,1.65 0 1,0 -3.3,0M66.9,317.7a1.65,1.65 0 1,0 3.3,0a1.65,1.65 0 1,0 -3.3,0M67.3,319.2a1.65,1.65 0 1,0 3.3,0a1.65,1.65 0 1,0 -3.3,0M67.8,320.2a1.65,1.65 0 1,0 3.3,0a1.65,1.65 0 1,0 -3.3,0M68.2,318.8a1.65,1.65 0 1,0 3.3,0a1.65,1.65 0 1,0 -3.3,0M68.7,317.3a1.65,1.65 0 1,0 3.3,0a1.65,1.65 0 1,0 -3.3,0M69.1,315.6a1.65,1.65 0 1,0 3.3,0a1.65,1.65 0 1,0 -3.3,0M69.6,313.7a1.65,1.65 0 1,0 3.3,0a1.65,1.65 0 1,0 -3.3,0M70.0,311.6a1.65,1.65 0 1,0 3.3,0a1.65,1.65 0 1,0 -3.3,0M70.5,309.3a1.65,1.65 0 1,0 3.3,0a1.65,1.65 0 1,0 -3.3,0M70.9,306.4a1.65,1.65 0 1,0 3.3,0a1.65,1.65 0 1,0 -3.3,0M71.4,303.2a1.65,1.65 0 1,0 3.3,0a1.65,1.65 0 1,0 -3.3,0M71.8,299.9a1.65,1.65 0 1,0 3.3,0a1.65,1.65 0 1,0 -3.3,0M72.3,296.4a1.65,1.65 0 1,0 3.3,0a1.65,1.65 0 1,0 -3.3,0M72.7,292.7a1.65,1.65 0 1,0 3.3,0a1.65,1.65 0 1,0 -3.3,0M73.2,288.9a1.65,1.65 0 1,0 3.3,0a1.65,1.65 0 1,0 -3.3,0M73.6,284.9a1.65,1.65 0 1,0 3.3,0a1.65,1.65 0 1,0 -3.3,0M74.1,280.9a1.65,1.65 0 1,0 3.3,0a1.65,1.65 0 1,0 -3.3,0M74.5,276.7a1.65,1.65 0 1,0 3.3,0a1.65,1.65 0 1,0 -3.3,0M75.0,272.1a1.65,1.65 0 1,0 3.3,0a1.65,1.65 0 1,0 -3.3,0M75.4,267.4a1.65,1.65 0 1,0 3.3,0a1.65,1.65 0 1,0 -3.3,0M75.9,262.7a1.65,1.65 0 1,0 3.3,0a1.65,1.65 0 1,0 -3.3,0M76.3,257.9a1.65,1.65 0 1,0 3.3,0a1.65,1.65 0 1,0 -3.3,0M76.8,252.7a1.65,1.65 0 1,0 3.3,0a1.65,1.65 0 1,0 -3.3,0M77.2,247.4a1.65,1.65 0 1,0 3.3,0a1.65,1.65 0 1,0 -3.3,0M77.7,242.1a1.65,1.65 0 1,0 3.3,0a1.65,1.65 0 1,0 -3.3,0M78.1,236.8a1.65,1.65 0 1,0 3.3,0a1.65,1.65 0 1,0 -3.3,0M78.6,231.4a1.65,1.65 0 1,0 3.3,0a1.65,1.65 0 1,0 -3.3,0M79.0,226.0a1.65,1.65 0 1,0 3.3,0a1.65,1.65 0 1,0 -3.3,0M79.5,220.5a1.65,1.65 0 1,0 3.3,0a1.65,1.65 0 1,0 -3.3,0M79.9,214.9a1.65,1.65 0 1,0 3.3,0a1.65,1.65 0 1,0 -3.3,0M80.4,209.4a1.65,1.65 0 1,0 3.3,0a1.65,1.65 0 1,0 -3.3,0M80.8,203.8a1.65,1.65 0 1,0 3.3,0a1.65,1.65 0 1,0 -3.3,0M81.3,200.0a1.65,1.65 0 1,0 3.3,0a1.65,1.65 0 1,0 -3.3,0M81.7,197.0a1.65,1.65 0 1,0 3.3,0a1.65,1.65 0 1,0 -3.3,0M82.2,194.0a1.65,1.65 0 1,0 3.3,0a1.65,1.65 0 1,0 -3.3,0M82.6,191.0a1.65,1.65 0 1,0 3.3,0a1.65,1.65 0 1,0 -3.3,0M83.1,188.0a1.65,1.65 0 1,0 3.3,0a1.65,1.65 0 1,0 -3.3,0M83.5,185.5a1.65,1.65 0 1,0 3.3,0a1.65,1.65 0 1,0 -3.3,0M84.0,183.9a1.65,1.65 0 1,0 3.3,0a1.65,1.65 0 1,0 -3.3,0M84.4,181.1a1.65,1.65 0 1,0 3.3,0a1.65,1.65 0 1,0 -3.3,0M84.9,181.7a1.65,1.65 0 1,0 3.3,0a1.65,1.65 0 1,0 -3.3,0M85.3,179.7a1.65,1.65 0 1,0 3.3,0a1.65,1.65 0 1,0 -3.3,0M85.8,176.9a1.65,1.65 0 1,0 3.3,0a1.65,1.65 0 1,0 -3.3,0M86.2,178.9a1.65,1.65 0 1,0 3.3,0a1.65,1.65 0 1,0 -3.3,0M86.7,178.1a1.65,1.65 0 1,0 3.3,0a1.65,1.65 0 1,0 -3.3,0M87.1,176.4a1.65,1.65 0 1,0 3.3,0a1.65,1.65 0 1,0 -3.3,0M87.6,175.7a1.65,1.65 0 1,0 3.3,0a1.65,1.65 0 1,0 -3.3,0M88.0,174.0a1.65,1.65 0 1,0 3.3,0a1.65,1.65 0 1,0 -3.3,0M88.5,173.2a1.65,1.65 0 1,0 3.3,0a1.65,1.65 0 1,0 -3.3,0M88.9,174.4a1.65,1.65 0 1,0 3.3,0a1.65,1.65 0 1,0 -3.3,0M89.4,172.7a1.65,1.65 0 1,0 3.3,0a1.65,1.65 0 1,0 -3.3,0M89.8,173.4a1.65,1.65 0 1,0 3.3,0a1.65,1.65 0 1,0 -3.3,0M90.3,173.9a1.65,1.65 0 1,0 3.3,0a1.65,1.65 0 1,0 -3.3,0M90.7,173.6a1.65,1.65 0 1,0 3.3,0a1.65,1.65 0 1,0 -3.3,0M91.2,175.2a1.65,1.65 0 1,0 3.3,0a1.65,1.65 0 1,0 -3.3,0M91.6,175.7a1.65,1.65 0 1,0 3.3,0a1.65,1.65 0 1,0 -3.3,0M92.1,177.7a1.65,1.65 0 1,0 3.3,0a1.65,1.65 0 1,0 -3.3,0M92.5,177.6a1.65,1.65 0 1,0 3.3,0a1.65,1.65 0 1,0 -3.3,0M93.0,178.7a1.65,1.65 0 1,0 3.3,0a1.65,1.65 0 1,0 -3.3,0M93.4,179.2a1.65,1.65 0 1,0 3.3,0a1.65,1.65 0 1,0 -3.3,0M93.9,181.2a1.65,1.65 0 1,0 3.3,0a1.65,1.65 0 1,0 -3.3,0M94.3,182.2a1.65,1.65 0 1,0 3.3,0a1.65,1.65 0 1,0 -3.3,0M94.8,183.9a1.65,1.65 0 1,0 3.3,0a1.65,1.65 0 1,0 -3.3,0M95.2,185.5a1.65,1.65 0 1,0 3.3,0a1.65,1.65 0 1,0 -3.3,0M95.7,188.0a1.65,1.65 0 1,0 3.3,0a1.65,1.65 0 1,0 -3.3,0M96.1,191.0a1.65,1.65 0 1,0 3.3,0a1.65,1.65 0 1,0 -3.3,0M96.6,194.0a1.65,1.65 0 1,0 3.3,0a1.65,1.65 0 1,0 -3.3,0M97.0,197.0a1.65,1.65 0 1,0 3.3,0a1.65,1.65 0 1,0 -3.3,0M97.5,200.0a1.65,1.65 0 1,0 3.3,0a1.65,1.65 0 1,0 -3.3,0M97.9,203.8a1.65,1.65 0 1,0 3.3,0a1.65,1.65 0 1,0 -3.3,0M98.4,209.4a1.65,1.65 0 1,0 3.3,0a1.65,1.65 0 1,0 -3.3,0M98.8,214.9a1.65,1.65 0 1,0 3.3,0a1.65,1.65 0 1,0 -3.3,0M99.3,220.5a1.65,1.65 0 1,0 3.3,0a1.65,1.65 0 1,0 -3.3,0M99.7,226.0a1.65,1.65 0 1,0 3.3,0a1.65,1.65 0 1,0 -3.3,0M100.2,231.4a1.65,1.65 0 1,0 3.3,0a1.65,1.65 0 1,0 -3.3,0M100.6,236.8a1.65,1.65 0 1,0 3.3,0a1.65,1.65 0 1,0 -3.3,0M101.1,242.1a1.65,1.65 0 1,0 3.3,0a1.65,1.65 0 1,0 -3.3,0M101.5,247.4a1.65,1.65 0 1,0 3.3,0a1.65,1.65 0 1,0 -3.3,0M102.0,252.7a1.65,1.65 0 1,0 3.3,0a1.65,1.65 0 1,0 -3.3,0M102.4,257.9a1.65,1.65 0 1,0 3.3,0a1.65,1.65 0 1,0 -3.3,0M102.9,262.7a1.65,1.65 0 1,0 3.3,0a1.65,1.65 0 1,0 -3.3,0M103.3,267.4a1.65,1.65 0 1,0 3.3,0a1.65,1.65 0 1,0 -3.3,0M103.8,272.1a1.65,1.65 0 1,0 3.3,0a1.65,1.65 0 1,0 -3.3,0M104.2,276.7a1.65,1.65 0 1,0 3.3,0a1.65,1.65 0 1,0 -3.3,0M104.7,280.9a1.65,1.65 0 1,0 3.3,0a1.65,1.65 0 1,0 -3.3,0M105.1,284.9a1.65,1.65 0 1,0 3.3,0a1.65,1.65 0 1,0 -3.3,0M105.6,288.9a1.65,1.65 0 1,0 3.3,0a1.65,1.65 0 1,0 -3.3,0M106.0,292.7a1.65,1.65 0 1,0 3.3,0a1.65,1.65 0 1,0 -3.3,0M106.5,295.6a1.65,1.65 0 1,0 3.3,0a1.65,1.65 0 1,0 -3.3,0M106.9,299.9a1.65,1.65 0 1,0 3.3,0a1.65,1.65 0 1,0 -3.3,0M107.4,302.7a1.65,1.65 0 1,0 3.3,0a1.65,1.65 0 1,0 -3.3,0M107.8,304.7a1.65,1.65 0 1,0 3.3,0a1.65,1.65 0 1,0 -3.3,0M108.3,306.3a1.65,1.65 0 1,0 3.3,0a1.65,1.65 0 1,0 -3.3,0M108.7,306.0a1.65,1.65 0 1,0 3.3,0a1.65,1.65 0 1,0 -3.3,0M109.2,306.6a1.65,1.65 0 1,0 3.3,0a1.65,1.65 0 1,0 -3.3,0M109.6,307.8a1.65,1.65 0 1,0 3.3,0a1.65,1.65 0 1,0 -3.3,0M110.1,307.6a1.65,1.65 0 1,0 3.3,0a1.65,1.65 0 1,0 -3.3,0M110.5,312.5a1.65,1.65 0 1,0 3.3,0a1.65,1.65 0 1,0 -3.3,0M111.0,311.5a1.65,1.65 0 1,0 3.3,0a1.65,1.65 0 1,0 -3.3,0M111.4,315.4a1.65,1.65 0 1,0 3.3,0a1.65,1.65 0 1,0 -3.3,0M111.9,313.9a1.65,1.65 0 1,0 3.3,0a1.65,1.65 0 1,0 -3.3,0M112.3,319.1a1.65,1.65 0 1,0 3.3,0a1.65,1.65 0 1,0 -3.3,0M112.8,320.1a1.65,1.65 0 1,0 3.3,0a1.65,1.65 0 1,0 -3.3,0M113.2,316.3a1.65,1.65 0 1,0 3.3,0a1.65,1.65 0 1,0 -3.3,0M113.7,319.8a1.65,1.65 0 1,0 3.3,0a1.65,1.65 0 1,0 -3.3,0M114.1,326.9a1.65,1.65 0 1,0 3.3,0a1.65,1.65 0 1,0 -3.3,0M114.6,324.6a1.65,1.65 0 1,0 3.3,0a1.65,1.65 0 1,0 -3.3,0M115.0,326.7a1.65,1.65 0 1,0 3.3,0a1.65,1.65 0 1,0 -3.3,0M115.5,321.2a1.65,1.65 0 1,0 3.3,0a1.65,1.65 0 1,0 -3.3,0M115.9,317.6a1.65,1.65 0 1,0 3.3,0a1.65,1.65 0 1,0 -3.3,0M116.4,320.9a1.65,1.65 0 1,0 3.3,0a1.65,1.65 0 1,0 -3.3,0M116.8,321.2a1.65,1.65 0 1,0 3.3,0a1.65,1.65 0 1,0 -3.3,0M117.3,316.6a1.65,1.65 0 1,0 3.3,0a1.65,1.65 0 1,0 -3.3,0M117.7,314.7a1.65,1.65 0 1,0 3.3,0a1.65,1.65 0 1,0 -3.3,0M118.2,316.5a1.65,1.65 0 1,0 3.3,0a1.65,1.65 0 1,0 -3.3,0M118.6,321.6a1.65,1.65 0 1,0 3.3,0a1.65,1.65 0 1,0 -3.3,0M119.1,320.3a1.65,1.65 0 1,0 3.3,0a1.65,1.65 0 1,0 -3.3,0M119.5,315.8a1.65,1.65 0 1,0 3.3,0a1.65,1.65 0 1,0 -3.3,0M120.0,317.6a1.65,1.65 0 1,0 3.3,0a1.65,1.65 0 1,0 -3.3,0M120.4,317.6a1.65,1.65 0 1,0 3.3,0a1.65,1.65 0 1,0 -3.3,0M120.9,318.6a1.65,1.65 0 1,0 3.3,0a1.65,1.65 0 1,0 -3.3,0M121.3,325.7a1.65,1.65 0 1,0 3.3,0a1.65,1.65 0 1,0 -3.3,0M121.8,317.5a1.65,1.65 0 1,0 3.3,0a1.65,1.65 0 1,0 -3.3,0M122.2,317.7a1.65,1.65 0 1,0 3.3,0a1.65,1.65 0 1,0 -3.3,0M122.7,314.1a1.65,1.65 0 1,0 3.3,0a1.65,1.65 0 1,0 -3.3,0M123.1,309.8a1.65,1.65 0 1,0 3.3,0a1.65,1.65 0 1,0 -3.3,0M123.6,312.1a1.65,1.65 0 1,0 3.3,0a1.65,1.65 0 1,0 -3.3,0M124.0,305.7a1.65,1.65 0 1,0 3.3,0a1.65,1.65 0 1,0 -3.3,0M124.5,308.4a1.65,1.65 0 1,0 3.3,0a1.65,1.65 0 1,0 -3.3,0M124.9,303.2a1.65,1.65 0 1,0 3.3,0a1.65,1.65 0 1,0 -3.3,0M125.4,304.9a1.65,1.65 0 1,0 3.3,0a1.65,1.65 0 1,0 -3.3,0M125.8,302.8a1.65,1.65 0 1,0 3.3,0a1.65,1.65 0 1,0 -3.3,0M126.3,303.2a1.65,1.65 0 1,0 3.3,0a1.65,1.65 0 1,0 -3.3,0M126.7,309.0a1.65,1.65 0 1,0 3.3,0a1.65,1.65 0 1,0 -3.3,0M127.2,308.2a1.65,1.65 0 1,0 3.3,0a1.65,1.65 0 1,0 -3.3,0M127.6,305.1a1.65,1.65 0 1,0 3.3,0a1.65,1.65 0 1,0 -3.3,0M128.1,310.9a1.65,1.65 0 1,0 3.3,0a1.65,1.65 0 1,0 -3.3,0M128.5,307.0a1.65,1.65 0 1,0 3.3,0a1.65,1.65 0 1,0 -3.3,0M129.0,310.3a1.65,1.65 0 1,0 3.3,0a1.65,1.65 0 1,0 -3.3,0M129.4,316.1a1.65,1.65 0 1,0 3.3,0a1.65,1.65 0 1,0 -3.3,0M129.9,316.8a1.65,1.65 0 1,0 3.3,0a1.65,1.65 0 1,0 -3.3,0M130.3,315.3a1.65,1.65 0 1,0 3.3,0a1.65,1.65 0 1,0 -3.3,0M130.8,325.4a1.65,1.65 0 1,0 3.3,0a1.65,1.65 0 1,0 -3.3,0M131.2,322.6a1.65,1.65 0 1,0 3.3,0a1.65,1.65 0 1,0 -3.3,0M131.7,326.7a1.65,1.65 0 1,0 3.3,0a1.65,1.65 0 1,0 -3.3,0" fill="#1b9e77"/><path d="M65.5,330.0 L66.0,330.0 L66.4,330.0 L66.9,330.0 L67.3,330.0 L67.8,329.2 L68.2,328.7 L68.7,322.7 L69.1,320.1 L69.6,316.2 L70.0,314.3 L70.5,316.4 L70.9,312.0 L71.4,313.3 L71.8,310.1 L72.3,309.6 L72.7,312.6 L73.2,307.9 L73.6,307.9 L74.1,309.7 L74.5,303.8 L75.0,303.3 L75.4,309.3 L75.9,308.6 L76.3,304.3 L76.8,304.2 L77.2,309.2 L77.7,311.5 L78.1,306.5 L78.6,313.5 L79.0,314.2 L79.5,313.3 L79.9,313.4 L80.4,312.5 L80.8,313.9 L81.3,323.3 L81.7,319.6 L82.2,325.7 L82.6,324.6 L83.1,329.2 L83.5,330.0 L84.0,330.0 L84.4,330.0 L84.9,330.0 L85.3,329.9 L85.8,329.2 L86.2,328.6 L86.7,324.0 L87.1,319.1 L87.6,315.9 L88.0,318.3 L88.5,311.5 L88.9,311.4 L89.4,312.9 L89.8,314.4 L90.3,312.0 L90.7,309.1 L91.2,313.8 L91.6,308.7 L92.1,307.9 L92.5,310.5 L93.0,312.6 L93.4,311.0 L93.9,313.0 L94.3,315.4 L94.8,317.6 L95.2,316.1 L95.7,318.2 L96.1,316.6 L96.6,314.8 L97.0,312.9 L97.5,310.8 L97.9,308.6 L98.4,305.7 L98.8,302.5 L99.3,299.1 L99.7,295.6 L100.2,291.9 L100.6,288.0 L101.1,284.1 L101.5,280.0 L102.0,275.9 L102.4,271.3 L102.9,266.6 L103.3,261.9 L103.8,257.1 L104.2,252.1 L104.7,246.8 L105.1,241.5 L105.6,236.2 L106.0,230.8 L106.5,225.5 L106.9,219.9 L107.4,214.4 L107.8,208.8 L108.3,203.3 L108.7,198.3 L109.2,195.3 L109.6,192.3 L110.1,189.3 L110.5,186.3 L111.0,183.3 L111.4,181.6 L111.9,180.0 L112.3,178.0 L112.8,178.0 L113.2,177.1 L113.7,175.3 L114.1,174.6 L114.6,173.5 L115.0,171.4 L115.5,170.8 L115.9,170.4 L116.4,172.7 L116.8,171.7 L117.3,172.6 L117.7,170.1 L118.2,172.3 L118.6,172.1 L119.1,173.3 L119.5,172.8 L120.0,175.6 L120.4,173.7 L120.9,175.9 L121.3,177.7 L121.8,179.8 L122.2,180.2 L122.7,181.8 L123.1,183.6 L123.6,186.6 L124.0,189.6 L124.5,192.6 L124.9,195.6 L125.4,198.6 L125.8,203.9 L126.3,209.5 L126.7,215.0 L127.2,220.6 L127.6,226.1 L128.1,231.4 L128.5,236.8 L129.0,242.1 L129.4,247.4 L129.9,252.7 L130.3,257.6 L130.8,262.4 L131.2,267.2 L131.7,271.8 L132.1,276.3 L132.6,280.5 L133.0,284.5 L133.5,288.4 L133.9,292.3 L134.4,296.0 L134.8,299.5 L135.3,302.9 L135.7,306.1 L136.2,308.8 L136.6,311.0 L137.1,312.6 L137.5,312.1 L138.0,311.7 L138.4,311.3 L138.9,306.8 L139.3,307.9 L139.8,308.5 L140.2,307.8 L140.7,304.4 L141.1,307.3 L141.6,308.5 L142.0,307.4 L142.5,309.3 L142.9,309.5 L143.3,313.6 L143.8,317.0 L144.2,316.5 L144.7,320.6 L145.1,322.1 L145.6,320.3 L146.0,318.3 L146.5,315.2 L146.9,317.8 L147.4,316.7 L147.8,316.0 L148.3,320.0 L148.7,315.0 L149.2,321.7 L149.6,317.7 L150.1,324.3 L150.5,325.6 L151.0,326.3 L151.4,330.0 L151.9,330.0 L152.3,330.0" stroke="#f26a12" stroke-width="1.1" fill="none"/><path d="M67.0,322.7a1.65,1.65 0 1,0 3.3,0a1.65,1.65 0 1,0 -3.3,0M67.5,320.1a1.65,1.65 0 1,0 3.3,0a1.65,1.65 0 1,0 -3.3,0M67.9,316.2a1.65,1.65 0 1,0 3.3,0a1.65,1.65 0 1,0 -3.3,0M68.4,314.3a1.65,1.65 0 1,0 3.3,0a1.65,1.65 0 1,0 -3.3,0M68.8,316.4a1.65,1.65 0 1,0 3.3,0a1.65,1.65 0 1,0 -3.3,0M69.3,312.0a1.65,1.65 0 1,0 3.3,0a1.65,1.65 0 1,0 -3.3,0M69.7,313.3a1.65,1.65 0 1,0 3.3,0a1.65,1.65 0 1,0 -3.3,0M70.2,310.1a1.65,1.65 0 1,0 3.3,0a1.65,1.65 0 1,0 -3.3,0M70.6,309.6a1.65,1.65 0 1,0 3.3,0a1.65,1.65 0 1,0 -3.3,0M71.1,312.6a1.65,1.65 0 1,0 3.3,0a1.65,1.65 0 1,0 -3.3,0M71.5,307.9a1.65,1.65 0 1,0 3.3,0a1.65,1.65 0 1,0 -3.3,0M72.0,307.9a1.65,1.65 0 1,0 3.3,0a1.65,1.65 0 1,0 -3.3,0M72.4,309.7a1.65,1.65 0 1,0 3.3,0a1.65,1.65 0 1,0 -3.3,0M72.9,303.8a1.65,1.65 0 1,0 3.3,0a1.65,1.65 0 1,0 -3.3,0M73.3,303.3a1.65,1.65 0 1,0 3.3,0a1.65,1.65 0 1,0 -3.3,0M73.8,309.3a1.65,1.65 0 1,0 3.3,0a1.65,1.65 0 1,0 -3.3,0M74.2,308.6a1.65,1.65 0 1,0 3.3,0a1.65,1.65 0 1,0 -3.3,0M74.7,304.3a1.65,1.65 0 1,0 3.3,0a1.65,1.65 0 1,0 -3.3,0M75.1,304.2a1.65,1.65 0 1,0 3.3,0a1.65,1.65 0 1,0 -3.3,0M75.6,309.2a1.65,1.65 0 1,0 3.3,0a1.65,1.65 0 1,0 -3.3,0M76.0,311.5a1.65,1.65 0 1,0 3.3,0a1.65,1.65 0 1,0 -3.3,0M76.5,306.5a1.65,1.65 0 1,0 3.3,0a1.65,1.65 0 1,0 -3.3,0M76.9,313.5a1.65,1.65 0 1,0 3.3,0a1.65,1.65 0 1,0 -3.3,0M77.4,314.2a1.65,1.65 0 1,0 3.3,0a1.65,1.65 0 1,0 -3.3,0M77.8,313.3a1.65,1.65 0 1,0 3.3,0a1.65,1.65 0 1,0 -3.3,0M78.3,313.4a1.65,1.65 0 1,0 3.3,0a1.65,1.65 0 1,0 -3.3,0M78.7,312.5a1.65,1.65 0 1,0 3.3,0a1.65,1.65 0 1,0 -3.3,0M79.2,313.9a1.65,1.65 0 1,0 3.3,0a1.65,1.65 0 1,0 -3.3,0M79.6,323.3a1.65,1.65 0 1,0 3.3,0a1.65,1.65 0 1,0 -3.3,0M80.1,319.6a1.65,1.65 0 1,0 3.3,0a1.65,1.65 0 1,0 -3.3,0M80.5,325.7a1.65,1.65 0 1,0 3.3,0a1.65,1.65 0 1,0 -3.3,0M81.0,324.6a1.65,1.65 0 1,0 3.3,0a1.65,1.65 0 1,0 -3.3,0M85.0,324.0a1.65,1.65 0 1,0 3.3,0a1.65,1.65 0 1,0 -3.3,0M85.5,319.1a1.65,1.65 0 1,0 3.3,0a1.65,1.65 0 1,0 -3.3,0M85.9,315.9a1.65,1.65 0 1,0 3.3,0a1.65,1.65 0 1,0 -3.3,0M86.4,318.3a1.65,1.65 0 1,0 3.3,0a1.65,1.65 0 1,0 -3.3,0M86.8,311.5a1.65,1.65 0 1,0 3.3,0a1.65,1.65 0 1,0 -3.3,0M87.3,311.4a1.65,1.65 0 1,0 3.3,0a1.65,1.65 0 1,0 -3.3,0M87.7,312.9a1.65,1.65 0 1,0 3.3,0a1.65,1.65 0 1,0 -3.3,0M88.2,314.4a1.65,1.65 0 1,0 3.3,0a1.65,1.65 0 1,0 -3.3,0M88.6,312.0a1.65,1.65 0 1,0 3.3,0a1.65,1.65 0 1,0 -3.3,0M89.1,309.1a1.65,1.65 0 1,0 3.3,0a1.65,1.65 0 1,0 -3.3,0M89.5,313.8a1.65,1.65 0 1,0 3.3,0a1.65,1.65 0 1,0 -3.3,0M90.0,308.7a1.65,1.65 0 1,0 3.3,0a1.65,1.65 0 1,0 -3.3,0M90.4,307.9a1.65,1.65 0 1,0 3.3,0a1.65,1.65 0 1,0 -3.3,0M90.9,310.5a1.65,1.65 0 1,0 3.3,0a1.65,1.65 0 1,0 -3.3,0M91.3,312.6a1.65,1.65 0 1,0 3.3,0a1.65,1.65 0 1,0 -3.3,0M91.8,311.0a1.65,1.65 0 1,0 3.3,0a1.65,1.65 0 1,0 -3.3,0M92.2,313.0a1.65,1.65 0 1,0 3.3,0a1.65,1.65 0 1,0 -3.3,0M92.7,315.4a1.65,1.65 0 1,0 3.3,0a1.65,1.65 0 1,0 -3.3,0M93.1,317.6a1.65,1.65 0 1,0 3.3,0a1.65,1.65 0 1,0 -3.3,0M93.6,316.1a1.65,1.65 0 1,0 3.3,0a1.65,1.65 0 1,0 -3.3,0M94.0,318.2a1.65,1.65 0 1,0 3.3,0a1.65,1.65 0 1,0 -3.3,0M94.5,316.6a1.65,1.65 0 1,0 3.3,0a1.65,1.65 0 1,0 -3.3,0M94.9,314.8a1.65,1.65 0 1,0 3.3,0a1.65,1.65 0 1,0 -3.3,0M95.4,312.9a1.65,1.65 0 1,0 3.3,0a1.65,1.65 0 1,0 -3.3,0M95.8,310.8a1.65,1.65 0 1,0 3.3,0a1.65,1.65 0 1,0 -3.3,0M96.3,308.6a1.65,1.65 0 1,0 3.3,0a1.65,1.65 0 1,0 -3.3,0M96.7,305.7a1.65,1.65 0 1,0 3.3,0a1.65,1.65 0 1,0 -3.3,0M97.2,302.5a1.65,1.65 0 1,0 3.3,0a1.65,1.65 0 1,0 -3.3,0M97.6,299.1a1.65,1.65 0 1,0 3.3,0a1.65,1.65 0 1,0 -3.3,0M98.1,295.6a1.65,1.65 0 1,0 3.3,0a1.65,1.65 0 1,0 -3.3,0M98.5,291.9a1.65,1.65 0 1,0 3.3,0a1.65,1.65 0 1,0 -3.3,0M99.0,288.0a1.65,1.65 0 1,0 3.3,0a1.65,1.65 0 1,0 -3.3,0M99.4,284.1a1.65,1.65 0 1,0 3.3,0a1.65,1.65 0 1,0 -3.3,0M99.9,280.0a1.65,1.65 0 1,0 3.3,0a1.65,1.65 0 1,0 -3.3,0M100.3,275.9a1.65,1.65 0 1,0 3.3,0a1.65,1.65 0 1,0 -3.3,0M100.8,271.3a1.65,1.65 0 1,0 3.3,0a1.65,1.65 0 1,0 -3.3,0M101.2,266.6a1.65,1.65 0 1,0 3.3,0a1.65,1.65 0 1,0 -3.3,0M101.7,261.9a1.65,1.65 0 1,0 3.3,0a1.65,1.65 0 1,0 -3.3,0M102.1,257.1a1.65,1.65 0 1,0 3.3,0a1.65,1.65 0 1,0 -3.3,0M102.6,252.1a1.65,1.65 0 1,0 3.3,0a1.65,1.65 0 1,0 -3.3,0M103.0,246.8a1.65,1.65 0 1,0 3.3,0a1.65,1.65 0 1,0 -3.3,0M103.5,241.5a1.65,1.65 0 1,0 3.3,0a1.65,1.65 0 1,0 -3.3,0M103.9,236.2a1.65,1.65 0 1,0 3.3,0a1.65,1.65 0 1,0 -3.3,0M104.4,230.8a1.65,1.65 0 1,0 3.3,0a1.65,1.65 0 1,0 -3.3,0M104.8,225.5a1.65,1.65 0 1,0 3.3,0a1.65,1.65 0 1,0 -3.3,0M105.3,219.9a1.65,1.65 0 1,0 3.3,0a1.65,1.65 0 1,0 -3.3,0M105.7,214.4a1.65,1.65 0 1,0 3.3,0a1.65,1.65 0 1,0 -3.3,0M106.2,208.8a1.65,1.65 0 1,0 3.3,0a1.65,1.65 0 1,0 -3.3,0M106.6,203.3a1.65,1.65 0 1,0 3.3,0a1.65,1.65 0 1,0 -3.3,0M107.1,198.3a1.65,1.65 0 1,0 3.3,0a1.65,1.65 0 1,0 -3.3,0M107.5,195.3a1.65,1.65 0 1,0 3.3,0a1.65,1.65 0 1,0 -3.3,0M108.0,192.3a1.65,1.65 0 1,0 3.3,0a1.65,1.65 0 1,0 -3.3,0M108.4,189.3a1.65,1.65 0 1,0 3.3,0a1.65,1.65 0 1,0 -3.3,0M108.9,186.3a1.65,1.65 0 1,0 3.3,0a1.65,1.65 0 1,0 -3.3,0M109.3,183.3a1.65,1.65 0 1,0 3.3,0a1.65,1.65 0 1,0 -3.3,0M109.8,181.6a1.65,1.65 0 1,0 3.3,0a1.65,1.65 0 1,0 -3.3,0M110.2,180.0a1.65,1.65 0 1,0 3.3,0a1.65,1.65 0 1,0 -3.3,0M110.7,178.0a1.65,1.65 0 1,0 3.3,0a1.65,1.65 0 1,0 -3.3,0M111.1,178.0a1.65,1.65 0 1,0 3.3,0a1.65,1.65 0 1,0 -3.3,0M111.6,177.1a1.65,1.65 0 1,0 3.3,0a1.65,1.65 0 1,0 -3.3,0M112.0,175.3a1.65,1.65 0 1,0 3.3,0a1.65,1.65 0 1,0 -3.3,0M112.5,174.6a1.65,1.65 0 1,0 3.3,0a1.65,1.65 0 1,0 -3.3,0M112.9,173.5a1.65,1.65 0 1,0 3.3,0a1.65,1.65 0 1,0 -3.3,0M113.4,171.4a1.65,1.65 0 1,0 3.3,0a1.65,1.65 0 1,0 -3.3,0M113.8,170.8a1.65,1.65 0 1,0 3.3,0a1.65,1.65 0 1,0 -3.3,0M114.3,170.4a1.65,1.65 0 1,0 3.3,0a1.65,1.65 0 1,0 -3.3,0M114.7,172.7a1.65,1.65 0 1,0 3.3,0a1.65,1.65 0 1,0 -3.3,0M115.2,171.7a1.65,1.65 0 1,0 3.3,0a1.65,1.65 0 1,0 -3.3,0M115.6,172.6a1.65,1.65 0 1,0 3.3,0a1.65,1.65 0 1,0 -3.3,0M116.1,170.1a1.65,1.65 0 1,0 3.3,0a1.65,1.65 0 1,0 -3.3,0M116.5,172.3a1.65,1.65 0 1,0 3.3,0a1.65,1.65 0 1,0 -3.3,0M117.0,172.1a1.65,1.65 0 1,0 3.3,0a1.65,1.65 0 1,0 -3.3,0M117.4,173.3a1.65,1.65 0 1,0 3.3,0a1.65,1.65 0 1,0 -3.3,0M117.9,172.8a1.65,1.65 0 1,0 3.3,0a1.65,1.65 0 1,0 -3.3,0M118.3,175.6a1.65,1.65 0 1,0 3.3,0a1.65,1.65 0 1,0 -3.3,0M118.8,173.7a1.65,1.65 0 1,0 3.3,0a1.65,1.65 0 1,0 -3.3,0M119.2,175.9a1.65,1.65 0 1,0 3.3,0a1.65,1.65 0 1,0 -3.3,0M119.7,177.7a1.65,1.65 0 1,0 3.3,0a1.65,1.65 0 1,0 -3.3,0M120.1,179.8a1.65,1.65 0 1,0 3.3,0a1.65,1.65 0 1,0 -3.3,0M120.6,180.2a1.65,1.65 0 1,0 3.3,0a1.65,1.65 0 1,0 -3.3,0M121.0,181.8a1.65,1.65 0 1,0 3.3,0a1.65,1.65 0 1,0 -3.3,0M121.5,183.6a1.65,1.65 0 1,0 3.3,0a1.65,1.65 0 1,0 -3.3,0M121.9,186.6a1.65,1.65 0 1,0 3.3,0a1.65,1.65 0 1,0 -3.3,0M122.4,189.6a1.65,1.65 0 1,0 3.3,0a1.65,1.65 0 1,0 -3.3,0M122.8,192.6a1.65,1.65 0 1,0 3.3,0a1.65,1.65 0 1,0 -3.3,0M123.3,195.6a1.65,1.65 0 1,0 3.3,0a1.65,1.65 0 1,0 -3.3,0M123.7,198.6a1.65,1.65 0 1,0 3.3,0a1.65,1.65 0 1,0 -3.3,0M124.2,203.9a1.65,1.65 0 1,0 3.3,0a1.65,1.65 0 1,0 -3.3,0M124.6,209.5a1.65,1.65 0 1,0 3.3,0a1.65,1.65 0 1,0 -3.3,0M125.1,215.0a1.65,1.65 0 1,0 3.3,0a1.65,1.65 0 1,0 -3.3,0M125.5,220.6a1.65,1.65 0 1,0 3.3,0a1.65,1.65 0 1,0 -3.3,0M126.0,226.1a1.65,1.65 0 1,0 3.3,0a1.65,1.65 0 1,0 -3.3,0M126.4,231.4a1.65,1.65 0 1,0 3.3,0a1.65,1.65 0 1,0 -3.3,0M126.9,236.8a1.65,1.65 0 1,0 3.3,0a1.65,1.65 0 1,0 -3.3,0M127.3,242.1a1.65,1.65 0 1,0 3.3,0a1.65,1.65 0 1,0 -3.3,0M127.8,247.4a1.65,1.65 0 1,0 3.3,0a1.65,1.65 0 1,0 -3.3,0M128.2,252.7a1.65,1.65 0 1,0 3.3,0a1.65,1.65 0 1,0 -3.3,0M128.7,257.6a1.65,1.65 0 1,0 3.3,0a1.65,1.65 0 1,0 -3.3,0M129.1,262.4a1.65,1.65 0 1,0 3.3,0a1.65,1.65 0 1,0 -3.3,0M129.6,267.2a1.65,1.65 0 1,0 3.3,0a1.65,1.65 0 1,0 -3.3,0M130.0,271.8a1.65,1.65 0 1,0 3.3,0a1.65,1.65 0 1,0 -3.3,0M130.5,276.3a1.65,1.65 0 1,0 3.3,0a1.65,1.65 0 1,0 -3.3,0M130.9,280.5a1.65,1.65 0 1,0 3.3,0a1.65,1.65 0 1,0 -3.3,0M131.4,284.5a1.65,1.65 0 1,0 3.3,0a1.65,1.65 0 1,0 -3.3,0M131.8,288.4a1.65,1.65 0 1,0 3.3,0a1.65,1.65 0 1,0 -3.3,0M132.3,292.3a1.65,1.65 0 1,0 3.3,0a1.65,1.65 0 1,0 -3.3,0M132.7,296.0a1.65,1.65 0 1,0 3.3,0a1.65,1.65 0 1,0 -3.3,0M133.2,299.5a1.65,1.65 0 1,0 3.3,0a1.65,1.65 0 1,0 -3.3,0M133.6,302.9a1.65,1.65 0 1,0 3.3,0a1.65,1.65 0 1,0 -3.3,0M134.1,306.1a1.65,1.65 0 1,0 3.3,0a1.65,1.65 0 1,0 -3.3,0M134.5,308.8a1.65,1.65 0 1,0 3.3,0a1.65,1.65 0 1,0 -3.3,0M135.0,311.0a1.65,1.65 0 1,0 3.3,0a1.65,1.65 0 1,0 -3.3,0M135.4,312.6a1.65,1.65 0 1,0 3.3,0a1.65,1.65 0 1,0 -3.3,0M135.9,312.1a1.65,1.65 0 1,0 3.3,0a1.65,1.65 0 1,0 -3.3,0M136.3,311.7a1.65,1.65 0 1,0 3.3,0a1.65,1.65 0 1,0 -3.3,0M136.8,311.3a1.65,1.65 0 1,0 3.3,0a1.65,1.65 0 1,0 -3.3,0M137.2,306.8a1.65,1.65 0 1,0 3.3,0a1.65,1.65 0 1,0 -3.3,0M137.7,307.9a1.65,1.65 0 1,0 3.3,0a1.65,1.65 0 1,0 -3.3,0M138.1,308.5a1.65,1.65 0 1,0 3.3,0a1.65,1.65 0 1,0 -3.3,0M138.6,307.8a1.65,1.65 0 1,0 3.3,0a1.65,1.65 0 1,0 -3.3,0M139.0,304.4a1.65,1.65 0 1,0 3.3,0a1.65,1.65 0 1,0 -3.3,0M139.5,307.3a1.65,1.65 0 1,0 3.3,0a1.65,1.65 0 1,0 -3.3,0M139.9,308.5a1.65,1.65 0 1,0 3.3,0a1.65,1.65 0 1,0 -3.3,0M140.4,307.4a1.65,1.65 0 1,0 3.3,0a1.65,1.65 0 1,0 -3.3,0M140.8,309.3a1.65,1.65 0 1,0 3.3,0a1.65,1.65 0 1,0 -3.3,0M141.2,309.5a1.65,1.65 0 1,0 3.3,0a1.65,1.65 0 1,0 -3.3,0M141.7,313.6a1.65,1.65 0 1,0 3.3,0a1.65,1.65 0 1,0 -3.3,0M142.1,317.0a1.65,1.65 0 1,0 3.3,0a1.65,1.65 0 1,0 -3.3,0M142.6,316.5a1.65,1.65 0 1,0 3.3,0a1.65,1.65 0 1,0 -3.3,0M143.0,320.6a1.65,1.65 0 1,0 3.3,0a1.65,1.65 0 1,0 -3.3,0M143.5,322.1a1.65,1.65 0 1,0 3.3,0a1.65,1.65 0 1,0 -3.3,0M143.9,320.3a1.65,1.65 0 1,0 3.3,0a1.65,1.65 0 1,0 -3.3,0M144.4,318.3a1.65,1.65 0 1,0 3.3,0a1.65,1.65 0 1,0 -3.3,0M144.8,315.2a1.65,1.65 0 1,0 3.3,0a1.65,1.65 0 1,0 -3.3,0M145.3,317.8a1.65,1.65 0 1,0 3.3,0a1.65,1.65 0 1,0 -3.3,0M145.7,316.7a1.65,1.65 0 1,0 3.3,0a1.65,1.65 0 1,0 -3.3,0M146.2,316.0a1.65,1.65 0 1,0 3.3,0a1.65,1.65 0 1,0 -3.3,0M146.6,320.0a1.65,1.65 0 1,0 3.3,0a1.65,1.65 0 1,0 -3.3,0M147.1,315.0a1.65,1.65 0 1,0 3.3,0a1.65,1.65 0 1,0 -3.3,0M147.5,321.7a1.65,1.65 0 1,0 3.3,0a1.65,1.65 0 1,0 -3.3,0M148.0,317.7a1.65,1.65 0 1,0 3.3,0a1.65,1.65 0 1,0 -3.3,0M148.4,324.3a1.65,1.65 0 1,0 3.3,0a1.65,1.65 0 1,0 -3.3,0M148.9,325.6a1.65,1.65 0 1,0 3.3,0a1.65,1.65 0 1,0 -3.3,0M149.3,326.3a1.65,1.65 0 1,0 3.3,0a1.65,1.65 0 1,0 -3.3,0" fill="#f26a12"/><path d="M82.9,330.0 L83.3,330.0 L83.8,330.0 L84.2,330.0 L84.7,330.0 L85.2,330.0 L85.6,330.0 L86.1,329.8 L86.5,330.0 L87.0,327.2 L87.4,326.9 L87.9,328.1 L88.3,321.7 L88.8,318.7 L89.2,320.0 L89.7,322.0 L90.1,317.3 L90.6,316.2 L91.0,321.3 L91.5,318.6 L91.9,316.2 L92.4,319.1 L92.8,314.1 L93.3,316.2 L93.7,312.0 L94.2,313.5 L94.6,316.1 L95.1,316.7 L95.5,316.2 L96.0,312.0 L96.4,313.5 L96.9,311.3 L97.3,309.8 L97.8,312.7 L98.2,315.5 L98.7,315.7 L99.1,314.8 L99.6,317.0 L100.0,311.9 L100.5,311.4 L100.9,314.1 L101.4,313.1 L101.8,313.1 L102.3,315.3 L102.7,317.6 L103.2,317.3 L103.6,316.6 L104.1,321.6 L104.5,323.6 L105.0,317.4 L105.4,312.1 L105.9,309.7 L106.3,314.6 L106.8,306.3 L107.2,310.1 L107.7,307.7 L108.1,304.4 L108.6,307.3 L109.0,300.4 L109.5,300.7 L109.9,302.8 L110.4,299.1 L110.8,305.3 L111.3,300.7 L111.7,300.1 L112.2,299.7 L112.6,304.7 L113.1,303.9 L113.5,306.1 L114.0,307.2 L114.4,309.2 L114.9,311.2 L115.3,310.4 L115.8,308.2 L116.2,311.0 L116.7,310.1 L117.1,310.0 L117.6,312.8 L118.0,313.8 L118.5,312.5 L118.9,310.4 L119.4,307.7 L119.8,304.7 L120.3,301.4 L120.7,298.0 L121.2,294.3 L121.6,290.6 L122.1,286.7 L122.5,282.7 L123.0,278.6 L123.4,274.1 L123.9,269.5 L124.3,264.8 L124.8,260.0 L125.2,255.0 L125.7,249.8 L126.1,244.5 L126.6,239.1 L127.0,233.8 L127.5,228.4 L127.9,222.9 L128.4,217.4 L128.8,211.8 L129.3,206.3 L129.7,201.3 L130.2,198.3 L130.6,195.3 L131.1,192.3 L131.5,189.3 L132.0,186.3 L132.4,184.6 L132.9,183.0 L133.3,180.5 L133.8,179.2 L134.2,178.2 L134.7,178.4 L135.1,177.1 L135.6,176.6 L136.0,176.3 L136.5,174.8 L136.9,175.7 L137.4,175.7 L137.8,172.9 L138.3,175.5 L138.7,175.2 L139.2,173.7 L139.6,175.0 L140.0,176.0 L140.5,177.6 L140.9,176.8 L141.4,178.1 L141.8,179.9 L142.3,180.9 L142.7,182.9 L143.2,183.2 L143.6,184.8 L144.1,186.6 L144.5,189.6 L145.0,192.6 L145.4,195.6 L145.9,198.6 L146.3,201.6 L146.8,206.9 L147.2,212.4 L147.7,218.0 L148.1,223.5 L148.6,229.0 L149.0,234.3 L149.5,239.6 L149.9,244.9 L150.4,250.0 L150.8,255.2 L151.3,259.7 L151.7,264.7 L152.2,269.3 L152.6,273.8 L153.1,277.6 L153.5,281.4 L154.0,283.5 L154.4,287.5 L154.9,289.8 L155.3,290.0 L155.8,290.2 L156.2,292.9 L156.7,294.4 L157.1,296.3 L157.6,295.1 L158.0,292.6 L158.5,298.0 L158.9,293.5 L159.4,299.2 L159.8,295.4 L160.3,297.4 L160.7,301.6 L161.2,298.0 L161.6,299.3 L162.1,303.4 L162.5,306.6 L163.0,309.3 L163.4,310.1 L163.9,314.2 L164.3,313.2 L164.8,319.4 L165.2,315.5 L165.7,319.5 L166.1,325.1 L166.6,323.0 L167.0,324.4 L167.5,321.8 L167.9,319.3 L168.4,320.7 L168.8,317.5 L169.3,314.8 L169.7,315.1 L170.2,318.8 L170.6,319.5 L171.1,314.6 L171.5,320.7 L172.0,322.9 L172.4,320.9 L172.9,323.1 L173.3,322.3 L173.8,327.5 L174.2,330.0 L174.7,330.0 L175.1,330.0" stroke="#7b70bd" stroke-width="1.1" fill="none"/><path d="M85.3,327.2a1.65,1.65 0 1,0 3.3,0a1.65,1.65 0 1,0 -3.3,0M85.8,326.9a1.65,1.65 0 1,0 3.3,0a1.65,1.65 0 1,0 -3.3,0M86.7,321.7a1.65,1.65 0 1,0 3.3,0a1.65,1.65 0 1,0 -3.3,0M87.1,318.7a1.65,1.65 0 1,0 3.3,0a1.65,1.65 0 1,0 -3.3,0M87.6,320.0a1.65,1.65 0 1,0 3.3,0a1.65,1.65 0 1,0 -3.3,0M88.0,322.0a1.65,1.65 0 1,0 3.3,0a1.65,1.65 0 1,0 -3.3,0M88.5,317.3a1.65,1.65 0 1,0 3.3,0a1.65,1.65 0 1,0 -3.3,0M88.9,316.2a1.65,1.65 0 1,0 3.3,0a1.65,1.65 0 1,0 -3.3,0M89.4,321.3a1.65,1.65 0 1,0 3.3,0a1.65,1.65 0 1,0 -3.3,0M89.8,318.6a1.65,1.65 0 1,0 3.3,0a1.65,1.65 0 1,0 -3.3,0M90.3,316.2a1.65,1.65 0 1,0 3.3,0a1.65,1.65 0 1,0 -3.3,0M90.7,319.1a1.65,1.65 0 1,0 3.3,0a1.65,1.65 0 1,0 -3.3,0M91.2,314.1a1.65,1.65 0 1,0 3.3,0a1.65,1.65 0 1,0 -3.3,0M91.6,316.2a1.65,1.65 0 1,0 3.3,0a1.65,1.65 0 1,0 -3.3,0M92.1,312.0a1.65,1.65 0 1,0 3.3,0a1.65,1.65 0 1,0 -3.3,0M92.5,313.5a1.65,1.65 0 1,0 3.3,0a1.65,1.65 0 1,0 -3.3,0M93.0,316.1a1.65,1.65 0 1,0 3.3,0a1.65,1.65 0 1,0 -3.3,0M93.4,316.7a1.65,1.65 0 1,0 3.3,0a1.65,1.65 0 1,0 -3.3,0M93.9,316.2a1.65,1.65 0 1,0 3.3,0a1.65,1.65 0 1,0 -3.3,0M94.3,312.0a1.65,1.65 0 1,0 3.3,0a1.65,1.65 0 1,0 -3.3,0M94.8,313.5a1.65,1.65 0 1,0 3.3,0a1.65,1.65 0 1,0 -3.3,0M95.2,311.3a1.65,1.65 0 1,0 3.3,0a1.65,1.65 0 1,0 -3.3,0M95.7,309.8a1.65,1.65 0 1,0 3.3,0a1.65,1.65 0 1,0 -3.3,0M96.1,312.7a1.65,1.65 0 1,0 3.3,0a1.65,1.65 0 1,0 -3.3,0M96.6,315.5a1.65,1.65 0 1,0 3.3,0a1.65,1.65 0 1,0 -3.3,0M97.0,315.7a1.65,1.65 0 1,0 3.3,0a1.65,1.65 0 1,0 -3.3,0M97.5,314.8a1.65,1.65 0 1,0 3.3,0a1.65,1.65 0 1,0 -3.3,0M97.9,317.0a1.65,1.65 0 1,0 3.3,0a1.65,1.65 0 1,0 -3.3,0M98.4,311.9a1.65,1.65 0 1,0 3.3,0a1.65,1.65 0 1,0 -3.3,0M98.8,311.4a1.65,1.65 0 1,0 3.3,0a1.65,1.65 0 1,0 -3.3,0M99.3,314.1a1.65,1.65 0 1,0 3.3,0a1.65,1.65 0 1,0 -3.3,0M99.7,313.1a1.65,1.65 0 1,0 3.3,0a1.65,1.65 0 1,0 -3.3,0M100.2,313.1a1.65,1.65 0 1,0 3.3,0a1.65,1.65 0 1,0 -3.3,0M100.6,315.3a1.65,1.65 0 1,0 3.3,0a1.65,1.65 0 1,0 -3.3,0M101.1,317.6a1.65,1.65 0 1,0 3.3,0a1.65,1.65 0 1,0 -3.3,0M101.5,317.3a1.65,1.65 0 1,0 3.3,0a1.65,1.65 0 1,0 -3.3,0M102.0,316.6a1.65,1.65 0 1,0 3.3,0a1.65,1.65 0 1,0 -3.3,0M102.4,321.6a1.65,1.65 0 1,0 3.3,0a1.65,1.65 0 1,0 -3.3,0M102.9,323.6a1.65,1.65 0 1,0 3.3,0a1.65,1.65 0 1,0 -3.3,0M103.3,317.4a1.65,1.65 0 1,0 3.3,0a1.65,1.65 0 1,0 -3.3,0M103.8,312.1a1.65,1.65 0 1,0 3.3,0a1.65,1.65 0 1,0 -3.3,0M104.2,309.7a1.65,1.65 0 1,0 3.3,0a1.65,1.65 0 1,0 -3.3,0M104.7,314.6a1.65,1.65 0 1,0 3.3,0a1.65,1.65 0 1,0 -3.3,0M105.1,306.3a1.65,1.65 0 1,0 3.3,0a1.65,1.65 0 1,0 -3.3,0M105.6,310.1a1.65,1.65 0 1,0 3.3,0a1.65,1.65 0 1,0 -3.3,0M106.0,307.7a1.65,1.65 0 1,0 3.3,0a1.65,1.65 0 1,0 -3.3,0M106.5,304.4a1.65,1.65 0 1,0 3.3,0a1.65,1.65 0 1,0 -3.3,0M106.9,307.3a1.65,1.65 0 1,0 3.3,0a1.65,1.65 0 1,0 -3.3,0M107.4,300.4a1.65,1.65 0 1,0 3.3,0a1.65,1.65 0 1,0 -3.3,0M107.8,300.7a1.65,1.65 0 1,0 3.3,0a1.65,1.65 0 1,0 -3.3,0M108.3,302.8a1.65,1.65 0 1,0 3.3,0a1.65,1.65 0 1,0 -3.3,0M108.7,299.1a1.65,1.65 0 1,0 3.3,0a1.65,1.65 0 1,0 -3.3,0M109.2,305.3a1.65,1.65 0 1,0 3.3,0a1.65,1.65 0 1,0 -3.3,0M109.6,300.7a1.65,1.65 0 1,0 3.3,0a1.65,1.65 0 1,0 -3.3,0M110.1,300.1a1.65,1.65 0 1,0 3.3,0a1.65,1.65 0 1,0 -3.3,0M110.5,299.7a1.65,1.65 0 1,0 3.3,0a1.65,1.65 0 1,0 -3.3,0M111.0,304.7a1.65,1.65 0 1,0 3.3,0a1.65,1.65 0 1,0 -3.3,0M111.4,303.9a1.65,1.65 0 1,0 3.3,0a1.65,1.65 0 1,0 -3.3,0M111.9,306.1a1.65,1.65 0 1,0 3.3,0a1.65,1.65 0 1,0 -3.3,0M112.3,307.2a1.65,1.65 0 1,0 3.3,0a1.65,1.65 0 1,0 -3.3,0M112.8,309.2a1.65,1.65 0 1,0 3.3,0a1.65,1.65 0 1,0 -3.3,0M113.2,311.2a1.65,1.65 0 1,0 3.3,0a1.65,1.65 0 1,0 -3.3,0M113.7,310.4a1.65,1.65 0 1,0 3.3,0a1.65,1.65 0 1,0 -3.3,0M114.1,308.2a1.65,1.65 0 1,0 3.3,0a1.65,1.65 0 1,0 -3.3,0M114.6,311.0a1.65,1.65 0 1,0 3.3,0a1.65,1.65 0 1,0 -3.3,0M115.0,310.1a1.65,1.65 0 1,0 3.3,0a1.65,1.65 0 1,0 -3.3,0M115.5,310.0a1.65,1.65 0 1,0 3.3,0a1.65,1.65 0 1,0 -3.3,0M115.9,312.8a1.65,1.65 0 1,0 3.3,0a1.65,1.65 0 1,0 -3.3,0M116.4,313.8a1.65,1.65 0 1,0 3.3,0a1.65,1.65 0 1,0 -3.3,0M116.8,312.5a1.65,1.65 0 1,0 3.3,0a1.65,1.65 0 1,0 -3.3,0M117.3,310.4a1.65,1.65 0 1,0 3.3,0a1.65,1.65 0 1,0 -3.3,0M117.7,307.7a1.65,1.65 0 1,0 3.3,0a1.65,1.65 0 1,0 -3.3,0M118.2,304.7a1.65,1.65 0 1,0 3.3,0a1.65,1.65 0 1,0 -3.3,0M118.6,301.4a1.65,1.65 0 1,0 3.3,0a1.65,1.65 0 1,0 -3.3,0M119.1,298.0a1.65,1.65 0 1,0 3.3,0a1.65,1.65 0 1,0 -3.3,0M119.5,294.3a1.65,1.65 0 1,0 3.3,0a1.65,1.65 0 1,0 -3.3,0M120.0,290.6a1.65,1.65 0 1,0 3.3,0a1.65,1.65 0 1,0 -3.3,0M120.4,286.7a1.65,1.65 0 1,0 3.3,0a1.65,1.65 0 1,0 -3.3,0M120.9,282.7a1.65,1.65 0 1,0 3.3,0a1.65,1.65 0 1,0 -3.3,0M121.3,278.6a1.65,1.65 0 1,0 3.3,0a1.65,1.65 0 1,0 -3.3,0M121.8,274.1a1.65,1.65 0 1,0 3.3,0a1.65,1.65 0 1,0 -3.3,0M122.2,269.5a1.65,1.65 0 1,0 3.3,0a1.65,1.65 0 1,0 -3.3,0M122.7,264.8a1.65,1.65 0 1,0 3.3,0a1.65,1.65 0 1,0 -3.3,0M123.1,260.0a1.65,1.65 0 1,0 3.3,0a1.65,1.65 0 1,0 -3.3,0M123.6,255.0a1.65,1.65 0 1,0 3.3,0a1.65,1.65 0 1,0 -3.3,0M124.0,249.8a1.65,1.65 0 1,0 3.3,0a1.65,1.65 0 1,0 -3.3,0M124.5,244.5a1.65,1.65 0 1,0 3.3,0a1.65,1.65 0 1,0 -3.3,0M124.9,239.1a1.65,1.65 0 1,0 3.3,0a1.65,1.65 0 1,0 -3.3,0M125.4,233.8a1.65,1.65 0 1,0 3.3,0a1.65,1.65 0 1,0 -3.3,0M125.8,228.4a1.65,1.65 0 1,0 3.3,0a1.65,1.65 0 1,0 -3.3,0M126.3,222.9a1.65,1.65 0 1,0 3.3,0a1.65,1.65 0 1,0 -3.3,0M126.7,217.4a1.65,1.65 0 1,0 3.3,0a1.65,1.65 0 1,0 -3.3,0M127.2,211.8a1.65,1.65 0 1,0 3.3,0a1.65,1.65 0 1,0 -3.3,0M127.6,206.3a1.65,1.65 0 1,0 3.3,0a1.65,1.65 0 1,0 -3.3,0M128.1,201.3a1.65,1.65 0 1,0 3.3,0a1.65,1.65 0 1,0 -3.3,0M128.5,198.3a1.65,1.65 0 1,0 3.3,0a1.65,1.65 0 1,0 -3.3,0M129.0,195.3a1.65,1.65 0 1,0 3.3,0a1.65,1.65 0 1,0 -3.3,0M129.4,192.3a1.65,1.65 0 1,0 3.3,0a1.65,1.65 0 1,0 -3.3,0M129.9,189.3a1.65,1.65 0 1,0 3.3,0a1.65,1.65 0 1,0 -3.3,0M130.3,186.3a1.65,1.65 0 1,0 3.3,0a1.65,1.65 0 1,0 -3.3,0M130.8,184.6a1.65,1.65 0 1,0 3.3,0a1.65,1.65 0 1,0 -3.3,0M131.2,183.0a1.65,1.65 0 1,0 3.3,0a1.65,1.65 0 1,0 -3.3,0M131.7,180.5a1.65,1.65 0 1,0 3.3,0a1.65,1.65 0 1,0 -3.3,0M132.1,179.2a1.65,1.65 0 1,0 3.3,0a1.65,1.65 0 1,0 -3.3,0M132.6,178.2a1.65,1.65 0 1,0 3.3,0a1.65,1.65 0 1,0 -3.3,0M133.0,178.4a1.65,1.65 0 1,0 3.3,0a1.65,1.65 0 1,0 -3.3,0M133.5,177.1a1.65,1.65 0 1,0 3.3,0a1.65,1.65 0 1,0 -3.3,0M133.9,176.6a1.65,1.65 0 1,0 3.3,0a1.65,1.65 0 1,0 -3.3,0M134.4,176.3a1.65,1.65 0 1,0 3.3,0a1.65,1.65 0 1,0 -3.3,0M134.8,174.8a1.65,1.65 0 1,0 3.3,0a1.65,1.65 0 1,0 -3.3,0M135.3,175.7a1.65,1.65 0 1,0 3.3,0a1.65,1.65 0 1,0 -3.3,0M135.7,175.7a1.65,1.65 0 1,0 3.3,0a1.65,1.65 0 1,0 -3.3,0M136.2,172.9a1.65,1.65 0 1,0 3.3,0a1.65,1.65 0 1,0 -3.3,0M136.6,175.5a1.65,1.65 0 1,0 3.3,0a1.65,1.65 0 1,0 -3.3,0M137.1,175.2a1.65,1.65 0 1,0 3.3,0a1.65,1.65 0 1,0 -3.3,0M137.5,173.7a1.65,1.65 0 1,0 3.3,0a1.65,1.65 0 1,0 -3.3,0M137.9,175.0a1.65,1.65 0 1,0 3.3,0a1.65,1.65 0 1,0 -3.3,0M138.4,176.0a1.65,1.65 0 1,0 3.3,0a1.65,1.65 0 1,0 -3.3,0M138.8,177.6a1.65,1.65 0 1,0 3.3,0a1.65,1.65 0 1,0 -3.3,0M139.3,176.8a1.65,1.65 0 1,0 3.3,0a1.65,1.65 0 1,0 -3.3,0M139.7,178.1a1.65,1.65 0 1,0 3.3,0a1.65,1.65 0 1,0 -3.3,0M140.2,179.9a1.65,1.65 0 1,0 3.3,0a1.65,1.65 0 1,0 -3.3,0M140.6,180.9a1.65,1.65 0 1,0 3.3,0a1.65,1.65 0 1,0 -3.3,0M141.1,182.9a1.65,1.65 0 1,0 3.3,0a1.65,1.65 0 1,0 -3.3,0M141.5,183.2a1.65,1.65 0 1,0 3.3,0a1.65,1.65 0 1,0 -3.3,0M142.0,184.8a1.65,1.65 0 1,0 3.3,0a1.65,1.65 0 1,0 -3.3,0M142.4,186.6a1.65,1.65 0 1,0 3.3,0a1.65,1.65 0 1,0 -3.3,0M142.9,189.6a1.65,1.65 0 1,0 3.3,0a1.65,1.65 0 1,0 -3.3,0M143.3,192.6a1.65,1.65 0 1,0 3.3,0a1.65,1.65 0 1,0 -3.3,0M143.8,195.6a1.65,1.65 0 1,0 3.3,0a1.65,1.65 0 1,0 -3.3,0M144.2,198.6a1.65,1.65 0 1,0 3.3,0a1.65,1.65 0 1,0 -3.3,0M144.7,201.6a1.65,1.65 0 1,0 3.3,0a1.65,1.65 0 1,0 -3.3,0M145.1,206.9a1.65,1.65 0 1,0 3.3,0a1.65,1.65 0 1,0 -3.3,0M145.6,212.4a1.65,1.65 0 1,0 3.3,0a1.65,1.65 0 1,0 -3.3,0M146.0,218.0a1.65,1.65 0 1,0 3.3,0a1.65,1.65 0 1,0 -3.3,0M146.5,223.5a1.65,1.65 0 1,0 3.3,0a1.65,1.65 0 1,0 -3.3,0M146.9,229.0a1.65,1.65 0 1,0 3.3,0a1.65,1.65 0 1,0 -3.3,0M147.4,234.3a1.65,1.65 0 1,0 3.3,0a1.65,1.65 0 1,0 -3.3,0M147.8,239.6a1.65,1.65 0 1,0 3.3,0a1.65,1.65 0 1,0 -3.3,0M148.3,244.9a1.65,1.65 0 1,0 3.3,0a1.65,1.65 0 1,0 -3.3,0M148.7,250.0a1.65,1.65 0 1,0 3.3,0a1.65,1.65 0 1,0 -3.3,0M149.2,255.2a1.65,1.65 0 1,0 3.3,0a1.65,1.65 0 1,0 -3.3,0M149.6,259.7a1.65,1.65 0 1,0 3.3,0a1.65,1.65 0 1,0 -3.3,0M150.1,264.7a1.65,1.65 0 1,0 3.3,0a1.65,1.65 0 1,0 -3.3,0M150.5,269.3a1.65,1.65 0 1,0 3.3,0a1.65,1.65 0 1,0 -3.3,0M151.0,273.8a1.65,1.65 0 1,0 3.3,0a1.65,1.65 0 1,0 -3.3,0M151.4,277.6a1.65,1.65 0 1,0 3.3,0a1.65,1.65 0 1,0 -3.3,0M151.9,281.4a1.65,1.65 0 1,0 3.3,0a1.65,1.65 0 1,0 -3.3,0M152.3,283.5a1.65,1.65 0 1,0 3.3,0a1.65,1.65 0 1,0 -3.3,0M152.8,287.5a1.65,1.65 0 1,0 3.3,0a1.65,1.65 0 1,0 -3.3,0M153.2,289.8a1.65,1.65 0 1,0 3.3,0a1.65,1.65 0 1,0 -3.3,0M153.7,290.0a1.65,1.65 0 1,0 3.3,0a1.65,1.65 0 1,0 -3.3,0M154.1,290.2a1.65,1.65 0 1,0 3.3,0a1.65,1.65 0 1,0 -3.3,0M154.6,292.9a1.65,1.65 0 1,0 3.3,0a1.65,1.65 0 1,0 -3.3,0M155.0,294.4a1.65,1.65 0 1,0 3.3,0a1.65,1.65 0 1,0 -3.3,0M155.5,296.3a1.65,1.65 0 1,0 3.3,0a1.65,1.65 0 1,0 -3.3,0M155.9,295.1a1.65,1.65 0 1,0 3.3,0a1.65,1.65 0 1,0 -3.3,0M156.4,292.6a1.65,1.65 0 1,0 3.3,0a1.65,1.65 0 1,0 -3.3,0M156.8,298.0a1.65,1.65 0 1,0 3.3,0a1.65,1.65 0 1,0 -3.3,0M157.3,293.5a1.65,1.65 0 1,0 3.3,0a1.65,1.65 0 1,0 -3.3,0M157.7,299.2a1.65,1.65 0 1,0 3.3,0a1.65,1.65 0 1,0 -3.3,0M158.2,295.4a1.65,1.65 0 1,0 3.3,0a1.65,1.65 0 1,0 -3.3,0M158.6,297.4a1.65,1.65 0 1,0 3.3,0a1.65,1.65 0 1,0 -3.3,0M159.1,301.6a1.65,1.65 0 1,0 3.3,0a1.65,1.65 0 1,0 -3.3,0M159.5,298.0a1.65,1.65 0 1,0 3.3,0a1.65,1.65 0 1,0 -3.3,0M160.0,299.3a1.65,1.65 0 1,0 3.3,0a1.65,1.65 0 1,0 -3.3,0M160.4,303.4a1.65,1.65 0 1,0 3.3,0a1.65,1.65 0 1,0 -3.3,0M160.9,306.6a1.65,1.65 0 1,0 3.3,0a1.65,1.65 0 1,0 -3.3,0M161.3,309.3a1.65,1.65 0 1,0 3.3,0a1.65,1.65 0 1,0 -3.3,0M161.8,310.1a1.65,1.65 0 1,0 3.3,0a1.65,1.65 0 1,0 -3.3,0M162.2,314.2a1.65,1.65 0 1,0 3.3,0a1.65,1.65 0 1,0 -3.3,0M162.7,313.2a1.65,1.65 0 1,0 3.3,0a1.65,1.65 0 1,0 -3.3,0M163.1,319.4a1.65,1.65 0 1,0 3.3,0a1.65,1.65 0 1,0 -3.3,0M163.6,315.5a1.65,1.65 0 1,0 3.3,0a1.65,1.65 0 1,0 -3.3,0M164.0,319.5a1.65,1.65 0 1,0 3.3,0a1.65,1.65 0 1,0 -3.3,0M164.5,325.1a1.65,1.65 0 1,0 3.3,0a1.65,1.65 0 1,0 -3.3,0M164.9,323.0a1.65,1.65 0 1,0 3.3,0a1.65,1.65 0 1,0 -3.3,0M165.4,324.4a1.65,1.65 0 1,0 3.3,0a1.65,1.65 0 1,0 -3.3,0M165.8,321.8a1.65,1.65 0 1,0 3.3,0a1.65,1.65 0 1,0 -3.3,0M166.3,319.3a1.65,1.65 0 1,0 3.3,0a1.65,1.65 0 1,0 -3.3,0M166.7,320.7a1.65,1.65 0 1,0 3.3,0a1.65,1.65 0 1,0 -3.3,0M167.2,317.5a1.65,1.65 0 1,0 3.3,0a1.65,1.65 0 1,0 -3.3,0M167.6,314.8a1.65,1.65 0 1,0 3.3,0a1.65,1.65 0 1,0 -3.3,0M168.1,315.1a1.65,1.65 0 1,0 3.3,0a1.65,1.65 0 1,0 -3.3,0M168.5,318.8a1.65,1.65 0 1,0 3.3,0a1.65,1.65 0 1,0 -3.3,0M169.0,319.5a1.65,1.65 0 1,0 3.3,0a1.65,1.65 0 1,0 -3.3,0M169.4,314.6a1.65,1.65 0 1,0 3.3,0a1.65,1.65 0 1,0 -3.3,0M169.9,320.7a1.65,1.65 0 1,0 3.3,0a1.65,1.65 0 1,0 -3.3,0M170.3,322.9a1.65,1.65 0 1,0 3.3,0a1.65,1.65 0 1,0 -3.3,0M170.8,320.9a1.65,1.65 0 1,0 3.3,0a1.65,1.65 0 1,0 -3.3,0M171.2,323.1a1.65,1.65 0 1,0 3.3,0a1.65,1.65 0 1,0 -3.3,0M171.7,322.3a1.65,1.65 0 1,0 3.3,0a1.65,1.65 0 1,0 -3.3,0" fill="#7b70bd"/><path d="M108.0,330.0 L108.5,330.0 L108.9,330.0 L109.4,330.0 L109.8,330.0 L110.3,329.7 L110.7,326.9 L111.2,325.1 L111.6,318.0 L112.1,323.2 L112.5,317.4 L113.0,314.5 L113.4,315.9 L113.9,312.3 L114.3,310.2 L114.8,310.5 L115.2,304.3 L115.7,307.0 L116.1,305.2 L116.6,308.8 L117.0,308.0 L117.5,302.4 L117.9,303.8 L118.4,301.0 L118.8,303.6 L119.3,306.9 L119.7,308.0 L120.2,305.2 L120.6,304.7 L121.1,304.6 L121.5,309.1 L122.0,312.9 L122.4,307.9 L122.9,314.7 L123.3,310.3 L123.8,313.6 L124.2,315.9 L124.7,321.8 L125.1,321.3 L125.6,324.1 L126.0,328.9 L126.5,330.0 L126.9,330.0 L127.4,330.0 L127.8,330.0 L128.3,330.0 L128.7,330.0 L129.2,330.0 L129.6,329.9 L130.1,323.3 L130.5,324.1 L131.0,315.5 L131.4,315.4 L131.9,310.6 L132.3,308.0 L132.8,308.9 L133.2,307.0 L133.7,305.8 L134.1,305.9 L134.6,307.1 L135.0,304.9 L135.5,306.4 L135.9,311.3 L136.4,313.3 L136.8,314.8 L137.3,319.5 L137.7,320.5 L138.2,322.4 L138.6,321.7 L139.1,320.6 L139.5,319.2 L140.0,317.8 L140.4,316.2 L140.9,314.4 L141.3,312.4 L141.8,310.3 L142.2,308.0 L142.7,305.4 L143.1,300.0 L143.6,297.3 L144.0,293.5 L144.5,289.9 L144.9,285.1 L145.4,281.3 L145.8,278.2 L146.3,273.6 L146.7,269.8 L147.2,265.2 L147.6,260.3 L148.1,255.7 L148.5,250.9 L149.0,245.6 L149.4,240.4 L149.9,235.1 L150.3,229.7 L150.8,224.4 L151.2,218.9 L151.7,213.3 L152.1,207.8 L152.6,202.2 L153.0,197.4 L153.5,194.4 L153.9,191.4 L154.4,188.4 L154.8,185.4 L155.3,182.4 L155.7,180.8 L156.2,179.3 L156.6,176.5 L157.1,177.1 L157.5,174.7 L158.0,175.0 L158.4,172.3 L158.9,172.3 L159.3,172.4 L159.8,170.1 L160.2,170.3 L160.7,171.4 L161.1,171.7 L161.6,172.0 L162.0,169.8 L162.5,171.3 L162.9,172.4 L163.4,172.1 L163.8,173.4 L164.3,172.7 L164.7,173.1 L165.2,174.0 L165.6,175.2 L166.1,178.3 L166.5,179.7 L167.0,181.3 L167.4,183.3 L167.9,186.3 L168.3,189.3 L168.8,192.3 L169.2,195.3 L169.7,198.3 L170.1,203.8 L170.6,209.4 L171.0,214.9 L171.5,220.5 L171.9,225.9 L172.4,231.3 L172.8,236.6 L173.3,242.0 L173.7,247.3 L174.2,252.6 L174.6,257.5 L175.1,262.3 L175.5,266.9 L176.0,271.3 L176.4,275.0 L176.9,278.4 L177.3,281.5 L177.8,285.6 L178.2,288.6 L178.7,290.7 L179.1,289.4 L179.6,290.3 L180.0,295.5 L180.5,293.7 L180.9,295.7 L181.4,293.3 L181.8,294.5 L182.3,295.1 L182.7,294.8 L183.2,296.5 L183.6,292.8 L184.1,298.5 L184.5,300.4 L185.0,296.6 L185.4,299.8 L185.9,303.3 L186.3,302.4 L186.8,302.5 L187.2,304.3 L187.7,309.2 L188.1,307.8 L188.6,317.2 L189.0,319.4 L189.5,321.6 L189.9,321.9 L190.4,318.8 L190.8,316.1 L191.3,317.1 L191.7,316.0 L192.2,319.8 L192.6,318.7 L193.1,315.0 L193.5,321.1 L194.0,321.0 L194.4,322.8 L194.9,325.0 L195.3,323.9 L195.8,330.0 L196.2,330.0 L196.7,330.0 L197.1,330.0" stroke="#ee2a8e" stroke-width="1.1" fill="none"/><path d="M109.1,326.9a1.65,1.65 0 1,0 3.3,0a1.65,1.65 0 1,0 -3.3,0M109.5,325.1a1.65,1.65 0 1,0 3.3,0a1.65,1.65 0 1,0 -3.3,0M110.0,318.0a1.65,1.65 0 1,0 3.3,0a1.65,1.65 0 1,0 -3.3,0M110.4,323.2a1.65,1.65 0 1,0 3.3,0a1.65,1.65 0 1,0 -3.3,0M110.9,317.4a1.65,1.65 0 1,0 3.3,0a1.65,1.65 0 1,0 -3.3,0M111.3,314.5a1.65,1.65 0 1,0 3.3,0a1.65,1.65 0 1,0 -3.3,0M111.8,315.9a1.65,1.65 0 1,0 3.3,0a1.65,1.65 0 1,0 -3.3,0M112.2,312.3a1.65,1.65 0 1,0 3.3,0a1.65,1.65 0 1,0 -3.3,0M112.7,310.2a1.65,1.65 0 1,0 3.3,0a1.65,1.65 0 1,0 -3.3,0M113.1,310.5a1.65,1.65 0 1,0 3.3,0a1.65,1.65 0 1,0 -3.3,0M113.6,304.3a1.65,1.65 0 1,0 3.3,0a1.65,1.65 0 1,0 -3.3,0M114.0,307.0a1.65,1.65 0 1,0 3.3,0a1.65,1.65 0 1,0 -3.3,0M114.5,305.2a1.65,1.65 0 1,0 3.3,0a1.65,1.65 0 1,0 -3.3,0M114.9,308.8a1.65,1.65 0 1,0 3.3,0a1.65,1.65 0 1,0 -3.3,0M115.4,308.0a1.65,1.65 0 1,0 3.3,0a1.65,1.65 0 1,0 -3.3,0M115.8,302.4a1.65,1.65 0 1,0 3.3,0a1.65,1.65 0 1,0 -3.3,0M116.3,303.8a1.65,1.65 0 1,0 3.3,0a1.65,1.65 0 1,0 -3.3,0M116.7,301.0a1.65,1.65 0 1,0 3.3,0a1.65,1.65 0 1,0 -3.3,0M117.2,303.6a1.65,1.65 0 1,0 3.3,0a1.65,1.65 0 1,0 -3.3,0M117.6,306.9a1.65,1.65 0 1,0 3.3,0a1.65,1.65 0 1,0 -3.3,0M118.1,308.0a1.65,1.65 0 1,0 3.3,0a1.65,1.65 0 1,0 -3.3,0M118.5,305.2a1.65,1.65 0 1,0 3.3,0a1.65,1.65 0 1,0 -3.3,0M119.0,304.7a1.65,1.65 0 1,0 3.3,0a1.65,1.65 0 1,0 -3.3,0M119.4,304.6a1.65,1.65 0 1,0 3.3,0a1.65,1.65 0 1,0 -3.3,0M119.9,309.1a1.65,1.65 0 1,0 3.3,0a1.65,1.65 0 1,0 -3.3,0M120.3,312.9a1.65,1.65 0 1,0 3.3,0a1.65,1.65 0 1,0 -3.3,0M120.8,307.9a1.65,1.65 0 1,0 3.3,0a1.65,1.65 0 1,0 -3.3,0M121.2,314.7a1.65,1.65 0 1,0 3.3,0a1.65,1.65 0 1,0 -3.3,0M121.7,310.3a1.65,1.65 0 1,0 3.3,0a1.65,1.65 0 1,0 -3.3,0M122.1,313.6a1.65,1.65 0 1,0 3.3,0a1.65,1.65 0 1,0 -3.3,0M122.6,315.9a1.65,1.65 0 1,0 3.3,0a1.65,1.65 0 1,0 -3.3,0M123.0,321.8a1.65,1.65 0 1,0 3.3,0a1.65,1.65 0 1,0 -3.3,0M123.5,321.3a1.65,1.65 0 1,0 3.3,0a1.65,1.65 0 1,0 -3.3,0M123.9,324.1a1.65,1.65 0 1,0 3.3,0a1.65,1.65 0 1,0 -3.3,0M128.4,323.3a1.65,1.65 0 1,0 3.3,0a1.65,1.65 0 1,0 -3.3,0M128.9,324.1a1.65,1.65 0 1,0 3.3,0a1.65,1.65 0 1,0 -3.3,0M129.3,315.5a1.65,1.65 0 1,0 3.3,0a1.65,1.65 0 1,0 -3.3,0M129.8,315.4a1.65,1.65 0 1,0 3.3,0a1.65,1.65 0 1,0 -3.3,0M130.2,310.6a1.65,1.65 0 1,0 3.3,0a1.65,1.65 0 1,0 -3.3,0M130.7,308.0a1.65,1.65 0 1,0 3.3,0a1.65,1.65 0 1,0 -3.3,0M131.1,308.9a1.65,1.65 0 1,0 3.3,0a1.65,1.65 0 1,0 -3.3,0M131.6,307.0a1.65,1.65 0 1,0 3.3,0a1.65,1.65 0 1,0 -3.3,0M132.0,305.8a1.65,1.65 0 1,0 3.3,0a1.65,1.65 0 1,0 -3.3,0M132.5,305.9a1.65,1.65 0 1,0 3.3,0a1.65,1.65 0 1,0 -3.3,0M132.9,307.1a1.65,1.65 0 1,0 3.3,0a1.65,1.65 0 1,0 -3.3,0M133.4,304.9a1.65,1.65 0 1,0 3.3,0a1.65,1.65 0 1,0 -3.3,0M133.8,306.4a1.65,1.65 0 1,0 3.3,0a1.65,1.65 0 1,0 -3.3,0M134.3,311.3a1.65,1.65 0 1,0 3.3,0a1.65,1.65 0 1,0 -3.3,0M134.7,313.3a1.65,1.65 0 1,0 3.3,0a1.65,1.65 0 1,0 -3.3,0M135.2,314.8a1.65,1.65 0 1,0 3.3,0a1.65,1.65 0 1,0 -3.3,0M135.6,319.5a1.65,1.65 0 1,0 3.3,0a1.65,1.65 0 1,0 -3.3,0M136.1,320.5a1.65,1.65 0 1,0 3.3,0a1.65,1.65 0 1,0 -3.3,0M136.5,322.4a1.65,1.65 0 1,0 3.3,0a1.65,1.65 0 1,0 -3.3,0M137.0,321.7a1.65,1.65 0 1,0 3.3,0a1.65,1.65 0 1,0 -3.3,0M137.4,320.6a1.65,1.65 0 1,0 3.3,0a1.65,1.65 0 1,0 -3.3,0M137.9,319.2a1.65,1.65 0 1,0 3.3,0a1.65,1.65 0 1,0 -3.3,0M138.3,317.8a1.65,1.65 0 1,0 3.3,0a1.65,1.65 0 1,0 -3.3,0M138.8,316.2a1.65,1.65 0 1,0 3.3,0a1.65,1.65 0 1,0 -3.3,0M139.2,314.4a1.65,1.65 0 1,0 3.3,0a1.65,1.65 0 1,0 -3.3,0M139.7,312.4a1.65,1.65 0 1,0 3.3,0a1.65,1.65 0 1,0 -3.3,0M140.1,310.3a1.65,1.65 0 1,0 3.3,0a1.65,1.65 0 1,0 -3.3,0M140.6,308.0a1.65,1.65 0 1,0 3.3,0a1.65,1.65 0 1,0 -3.3,0M141.0,305.4a1.65,1.65 0 1,0 3.3,0a1.65,1.65 0 1,0 -3.3,0M141.5,300.0a1.65,1.65 0 1,0 3.3,0a1.65,1.65 0 1,0 -3.3,0M141.9,297.3a1.65,1.65 0 1,0 3.3,0a1.65,1.65 0 1,0 -3.3,0M142.4,293.5a1.65,1.65 0 1,0 3.3,0a1.65,1.65 0 1,0 -3.3,0M142.8,289.9a1.65,1.65 0 1,0 3.3,0a1.65,1.65 0 1,0 -3.3,0M143.3,285.1a1.65,1.65 0 1,0 3.3,0a1.65,1.65 0 1,0 -3.3,0M143.7,281.3a1.65,1.65 0 1,0 3.3,0a1.65,1.65 0 1,0 -3.3,0M144.2,278.2a1.65,1.65 0 1,0 3.3,0a1.65,1.65 0 1,0 -3.3,0M144.6,273.6a1.65,1.65 0 1,0 3.3,0a1.65,1.65 0 1,0 -3.3,0M145.1,269.8a1.65,1.65 0 1,0 3.3,0a1.65,1.65 0 1,0 -3.3,0M145.5,265.2a1.65,1.65 0 1,0 3.3,0a1.65,1.65 0 1,0 -3.3,0M146.0,260.3a1.65,1.65 0 1,0 3.3,0a1.65,1.65 0 1,0 -3.3,0M146.4,255.7a1.65,1.65 0 1,0 3.3,0a1.65,1.65 0 1,0 -3.3,0M146.9,250.9a1.65,1.65 0 1,0 3.3,0a1.65,1.65 0 1,0 -3.3,0M147.3,245.6a1.65,1.65 0 1,0 3.3,0a1.65,1.65 0 1,0 -3.3,0M147.8,240.4a1.65,1.65 0 1,0 3.3,0a1.65,1.65 0 1,0 -3.3,0M148.2,235.1a1.65,1.65 0 1,0 3.3,0a1.65,1.65 0 1,0 -3.3,0M148.7,229.7a1.65,1.65 0 1,0 3.3,0a1.65,1.65 0 1,0 -3.3,0M149.1,224.4a1.65,1.65 0 1,0 3.3,0a1.65,1.65 0 1,0 -3.3,0M149.6,218.9a1.65,1.65 0 1,0 3.3,0a1.65,1.65 0 1,0 -3.3,0M150.0,213.3a1.65,1.65 0 1,0 3.3,0a1.65,1.65 0 1,0 -3.3,0M150.5,207.8a1.65,1.65 0 1,0 3.3,0a1.65,1.65 0 1,0 -3.3,0M150.9,202.2a1.65,1.65 0 1,0 3.3,0a1.65,1.65 0 1,0 -3.3,0M151.4,197.4a1.65,1.65 0 1,0 3.3,0a1.65,1.65 0 1,0 -3.3,0M151.8,194.4a1.65,1.65 0 1,0 3.3,0a1.65,1.65 0 1,0 -3.3,0M152.3,191.4a1.65,1.65 0 1,0 3.3,0a1.65,1.65 0 1,0 -3.3,0M152.7,188.4a1.65,1.65 0 1,0 3.3,0a1.65,1.65 0 1,0 -3.3,0M153.2,185.4a1.65,1.65 0 1,0 3.3,0a1.65,1.65 0 1,0 -3.3,0M153.6,182.4a1.65,1.65 0 1,0 3.3,0a1.65,1.65 0 1,0 -3.3,0M154.1,180.8a1.65,1.65 0 1,0 3.3,0a1.65,1.65 0 1,0 -3.3,0M154.5,179.3a1.65,1.65 0 1,0 3.3,0a1.65,1.65 0 1,0 -3.3,0M155.0,176.5a1.65,1.65 0 1,0 3.3,0a1.65,1.65 0 1,0 -3.3,0M155.4,177.1a1.65,1.65 0 1,0 3.3,0a1.65,1.65 0 1,0 -3.3,0M155.9,174.7a1.65,1.65 0 1,0 3.3,0a1.65,1.65 0 1,0 -3.3,0M156.3,175.0a1.65,1.65 0 1,0 3.3,0a1.65,1.65 0 1,0 -3.3,0M156.8,172.3a1.65,1.65 0 1,0 3.3,0a1.65,1.65 0 1,0 -3.3,0M157.2,172.3a1.65,1.65 0 1,0 3.3,0a1.65,1.65 0 1,0 -3.3,0M157.7,172.4a1.65,1.65 0 1,0 3.3,0a1.65,1.65 0 1,0 -3.3,0M158.1,170.1a1.65,1.65 0 1,0 3.3,0a1.65,1.65 0 1,0 -3.3,0M158.6,170.3a1.65,1.65 0 1,0 3.3,0a1.65,1.65 0 1,0 -3.3,0M159.0,171.4a1.65,1.65 0 1,0 3.3,0a1.65,1.65 0 1,0 -3.3,0M159.5,171.7a1.65,1.65 0 1,0 3.3,0a1.65,1.65 0 1,0 -3.3,0M159.9,172.0a1.65,1.65 0 1,0 3.3,0a1.65,1.65 0 1,0 -3.3,0M160.4,169.8a1.65,1.65 0 1,0 3.3,0a1.65,1.65 0 1,0 -3.3,0M160.8,171.3a1.65,1.65 0 1,0 3.3,0a1.65,1.65 0 1,0 -3.3,0M161.3,172.4a1.65,1.65 0 1,0 3.3,0a1.65,1.65 0 1,0 -3.3,0M161.7,172.1a1.65,1.65 0 1,0 3.3,0a1.65,1.65 0 1,0 -3.3,0M162.2,173.4a1.65,1.65 0 1,0 3.3,0a1.65,1.65 0 1,0 -3.3,0M162.6,172.7a1.65,1.65 0 1,0 3.3,0a1.65,1.65 0 1,0 -3.3,0M163.1,173.1a1.65,1.65 0 1,0 3.3,0a1.65,1.65 0 1,0 -3.3,0M163.5,174.0a1.65,1.65 0 1,0 3.3,0a1.65,1.65 0 1,0 -3.3,0M164.0,175.2a1.65,1.65 0 1,0 3.3,0a1.65,1.65 0 1,0 -3.3,0M164.4,178.3a1.65,1.65 0 1,0 3.3,0a1.65,1.65 0 1,0 -3.3,0M164.9,179.7a1.65,1.65 0 1,0 3.3,0a1.65,1.65 0 1,0 -3.3,0M165.3,181.3a1.65,1.65 0 1,0 3.3,0a1.65,1.65 0 1,0 -3.3,0M165.8,183.3a1.65,1.65 0 1,0 3.3,0a1.65,1.65 0 1,0 -3.3,0M166.2,186.3a1.65,1.65 0 1,0 3.3,0a1.65,1.65 0 1,0 -3.3,0M166.7,189.3a1.65,1.65 0 1,0 3.3,0a1.65,1.65 0 1,0 -3.3,0M167.1,192.3a1.65,1.65 0 1,0 3.3,0a1.65,1.65 0 1,0 -3.3,0M167.6,195.3a1.65,1.65 0 1,0 3.3,0a1.65,1.65 0 1,0 -3.3,0M168.0,198.3a1.65,1.65 0 1,0 3.3,0a1.65,1.65 0 1,0 -3.3,0M168.5,203.8a1.65,1.65 0 1,0 3.3,0a1.65,1.65 0 1,0 -3.3,0M168.9,209.4a1.65,1.65 0 1,0 3.3,0a1.65,1.65 0 1,0 -3.3,0M169.4,214.9a1.65,1.65 0 1,0 3.3,0a1.65,1.65 0 1,0 -3.3,0M169.8,220.5a1.65,1.65 0 1,0 3.3,0a1.65,1.65 0 1,0 -3.3,0M170.3,225.9a1.65,1.65 0 1,0 3.3,0a1.65,1.65 0 1,0 -3.3,0M170.7,231.3a1.65,1.65 0 1,0 3.3,0a1.65,1.65 0 1,0 -3.3,0M171.2,236.6a1.65,1.65 0 1,0 3.3,0a1.65,1.65 0 1,0 -3.3,0M171.6,242.0a1.65,1.65 0 1,0 3.3,0a1.65,1.65 0 1,0 -3.3,0M172.1,247.3a1.65,1.65 0 1,0 3.3,0a1.65,1.65 0 1,0 -3.3,0M172.5,252.6a1.65,1.65 0 1,0 3.3,0a1.65,1.65 0 1,0 -3.3,0M173.0,257.5a1.65,1.65 0 1,0 3.3,0a1.65,1.65 0 1,0 -3.3,0M173.4,262.3a1.65,1.65 0 1,0 3.3,0a1.65,1.65 0 1,0 -3.3,0M173.9,266.9a1.65,1.65 0 1,0 3.3,0a1.65,1.65 0 1,0 -3.3,0M174.3,271.3a1.65,1.65 0 1,0 3.3,0a1.65,1.65 0 1,0 -3.3,0M174.8,275.0a1.65,1.65 0 1,0 3.3,0a1.65,1.65 0 1,0 -3.3,0M175.2,278.4a1.65,1.65 0 1,0 3.3,0a1.65,1.65 0 1,0 -3.3,0M175.7,281.5a1.65,1.65 0 1,0 3.3,0a1.65,1.65 0 1,0 -3.3,0M176.1,285.6a1.65,1.65 0 1,0 3.3,0a1.65,1.65 0 1,0 -3.3,0M176.6,288.6a1.65,1.65 0 1,0 3.3,0a1.65,1.65 0 1,0 -3.3,0M177.0,290.7a1.65,1.65 0 1,0 3.3,0a1.65,1.65 0 1,0 -3.3,0M177.5,289.4a1.65,1.65 0 1,0 3.3,0a1.65,1.65 0 1,0 -3.3,0M177.9,290.3a1.65,1.65 0 1,0 3.3,0a1.65,1.65 0 1,0 -3.3,0M178.4,295.5a1.65,1.65 0 1,0 3.3,0a1.65,1.65 0 1,0 -3.3,0M178.8,293.7a1.65,1.65 0 1,0 3.3,0a1.65,1.65 0 1,0 -3.3,0M179.3,295.7a1.65,1.65 0 1,0 3.3,0a1.65,1.65 0 1,0 -3.3,0M179.7,293.3a1.65,1.65 0 1,0 3.3,0a1.65,1.65 0 1,0 -3.3,0M180.2,294.5a1.65,1.65 0 1,0 3.3,0a1.65,1.65 0 1,0 -3.3,0M180.6,295.1a1.65,1.65 0 1,0 3.3,0a1.65,1.65 0 1,0 -3.3,0M181.1,294.8a1.65,1.65 0 1,0 3.3,0a1.65,1.65 0 1,0 -3.3,0M181.5,296.5a1.65,1.65 0 1,0 3.3,0a1.65,1.65 0 1,0 -3.3,0M182.0,292.8a1.65,1.65 0 1,0 3.3,0a1.65,1.65 0 1,0 -3.3,0M182.4,298.5a1.65,1.65 0 1,0 3.3,0a1.65,1.65 0 1,0 -3.3,0M182.9,300.4a1.65,1.65 0 1,0 3.3,0a1.65,1.65 0 1,0 -3.3,0M183.3,296.6a1.65,1.65 0 1,0 3.3,0a1.65,1.65 0 1,0 -3.3,0M183.8,299.8a1.65,1.65 0 1,0 3.3,0a1.65,1.65 0 1,0 -3.3,0M184.2,303.3a1.65,1.65 0 1,0 3.3,0a1.65,1.65 0 1,0 -3.3,0M184.7,302.4a1.65,1.65 0 1,0 3.3,0a1.65,1.65 0 1,0 -3.3,0M185.1,302.5a1.65,1.65 0 1,0 3.3,0a1.65,1.65 0 1,0 -3.3,0M185.6,304.3a1.65,1.65 0 1,0 3.3,0a1.65,1.65 0 1,0 -3.3,0M186.0,309.2a1.65,1.65 0 1,0 3.3,0a1.65,1.65 0 1,0 -3.3,0M186.5,307.8a1.65,1.65 0 1,0 3.3,0a1.65,1.65 0 1,0 -3.3,0M186.9,317.2a1.65,1.65 0 1,0 3.3,0a1.65,1.65 0 1,0 -3.3,0M187.4,319.4a1.65,1.65 0 1,0 3.3,0a1.65,1.65 0 1,0 -3.3,0M187.8,321.6a1.65,1.65 0 1,0 3.3,0a1.65,1.65 0 1,0 -3.3,0M188.3,321.9a1.65,1.65 0 1,0 3.3,0a1.65,1.65 0 1,0 -3.3,0M188.7,318.8a1.65,1.65 0 1,0 3.3,0a1.65,1.65 0 1,0 -3.3,0M189.2,316.1a1.65,1.65 0 1,0 3.3,0a1.65,1.65 0 1,0 -3.3,0M189.6,317.1a1.65,1.65 0 1,0 3.3,0a1.65,1.65 0 1,0 -3.3,0M190.1,316.0a1.65,1.65 0 1,0 3.3,0a1.65,1.65 0 1,0 -3.3,0M190.5,319.8a1.65,1.65 0 1,0 3.3,0a1.65,1.65 0 1,0 -3.3,0M191.0,318.7a1.65,1.65 0 1,0 3.3,0a1.65,1.65 0 1,0 -3.3,0M191.4,315.0a1.65,1.65 0 1,0 3.3,0a1.65,1.65 0 1,0 -3.3,0M191.9,321.1a1.65,1.65 0 1,0 3.3,0a1.65,1.65 0 1,0 -3.3,0M192.3,321.0a1.65,1.65 0 1,0 3.3,0a1.65,1.65 0 1,0 -3.3,0M192.8,322.8a1.65,1.65 0 1,0 3.3,0a1.65,1.65 0 1,0 -3.3,0M193.2,325.0a1.65,1.65 0 1,0 3.3,0a1.65,1.65 0 1,0 -3.3,0M193.7,323.9a1.65,1.65 0 1,0 3.3,0a1.65,1.65 0 1,0 -3.3,0" fill="#ee2a8e"/><path d="M124.6,330.0 L125.0,330.0 L125.5,330.0 L126.0,329.1 L126.4,330.0 L126.9,327.1 L127.3,326.2 L127.8,324.9 L128.2,321.0 L128.7,322.8 L129.1,317.0 L129.5,318.8 L130.0,319.8 L130.4,316.2 L130.9,319.3 L131.3,322.1 L131.8,322.8 L132.2,320.7 L132.7,327.6 L133.1,326.8 L133.6,325.9 L134.0,329.1 L134.5,330.0 L134.9,330.0 L135.4,329.9 L135.8,327.1 L136.3,324.8 L136.7,321.9 L137.2,325.1 L137.6,320.7 L138.1,319.9 L138.5,319.2 L139.0,320.0 L139.4,311.5 L139.9,315.6 L140.3,316.0 L140.8,311.9 L141.2,312.8 L141.7,310.0 L142.1,311.3 L142.6,313.1 L143.0,311.4 L143.5,313.2 L143.9,319.3 L144.4,317.4 L144.8,318.2 L145.3,323.2 L145.7,321.5 L146.2,326.5 L146.6,325.4 L147.1,326.1 L147.5,318.6 L148.0,321.4 L148.4,321.7 L148.9,315.2 L149.3,321.7 L149.8,315.3 L150.2,317.8 L150.7,315.7 L151.1,318.8 L151.6,320.5 L152.0,317.2 L152.5,325.6 L152.9,323.0 L153.4,325.7 L153.8,328.3 L154.3,329.5 L154.7,329.3 L155.2,329.1 L155.6,328.8 L156.1,328.4 L156.5,327.8 L157.0,327.1 L157.4,326.6 L157.9,326.0 L158.3,325.4 L158.8,324.7 L159.2,323.9 L159.7,323.0 L160.1,321.9 L160.6,320.7 L161.0,319.5 L161.5,318.0 L161.9,316.5 L162.4,314.7 L162.8,312.7 L163.3,310.6 L163.7,308.4 L164.2,305.7 L164.6,302.5 L165.1,299.1 L165.5,295.6 L166.0,291.9 L166.4,288.0 L166.9,284.1 L167.3,280.0 L167.8,275.9 L168.2,271.5 L168.7,266.8 L169.1,262.0 L169.6,257.3 L170.0,252.4 L170.5,247.1 L170.9,241.8 L171.4,236.5 L171.8,231.1 L172.3,225.8 L172.7,220.3 L173.2,214.8 L173.6,209.2 L174.1,203.6 L174.5,198.1 L175.0,194.8 L175.4,191.8 L175.9,188.8 L176.3,185.8 L176.8,182.8 L177.2,180.6 L177.7,179.0 L178.1,177.1 L178.6,175.2 L179.0,174.9 L179.5,173.8 L179.9,172.2 L180.4,172.7 L180.8,170.6 L181.3,169.3 L181.7,169.7 L182.2,168.7 L182.6,168.7 L183.1,170.3 L183.5,169.6 L184.0,171.4 L184.4,171.3 L184.9,169.6 L185.3,173.1 L185.8,173.7 L186.2,171.9 L186.7,175.2 L187.1,174.8 L187.6,176.5 L188.0,178.2 L188.5,179.7 L188.9,181.3 L189.4,184.1 L189.8,187.1 L190.3,190.1 L190.7,193.1 L191.2,196.1 L191.6,200.6 L192.1,206.1 L192.5,211.7 L193.0,217.2 L193.4,222.8 L193.9,228.1 L194.3,233.5 L194.8,238.8 L195.2,244.2 L195.7,249.5 L196.1,254.6 L196.6,259.4 L197.0,264.1 L197.5,268.9 L197.9,273.0 L198.4,277.1 L198.8,281.3 L199.3,284.6 L199.7,287.6 L200.2,291.7 L200.6,294.2 L201.1,296.2 L201.5,296.6 L202.0,300.5 L202.4,301.1 L202.9,301.0 L203.3,301.2 L203.8,304.8 L204.2,303.4 L204.7,306.3 L205.1,308.6 L205.6,308.3 L206.0,308.1 L206.5,311.4 L206.9,311.6 L207.4,315.4 L207.8,315.1 L208.3,320.0 L208.7,321.3 L209.2,321.7 L209.6,320.1 L210.1,321.3 L210.5,329.5 L211.0,328.9 L211.4,329.4 L211.9,329.6 L212.3,329.7 L212.8,329.8 L213.2,329.8 L213.7,329.9 L214.1,329.9 L214.6,329.9 L215.0,330.0 L215.5,330.0 L215.9,329.8 L216.4,328.8 L216.8,324.4 L217.3,319.4 L217.7,316.1 L218.2,316.9 L218.6,313.7 L219.1,311.9 L219.5,310.5 L220.0,309.9 L220.4,304.0 L220.9,303.4 L221.3,308.3 L221.8,307.1 L222.2,306.3 L222.7,299.4 L223.1,299.5 L223.6,301.4 L224.0,303.0 L224.5,305.2 L224.9,301.9 L225.4,306.4 L225.8,304.0 L226.3,305.6 L226.7,312.0 L227.2,312.9 L227.6,315.7 L228.1,316.0 L228.5,319.5 L229.0,320.1 L229.4,324.2 L229.9,330.0 L230.3,330.0 L230.8,330.0 L231.2,330.0 L231.7,330.0 L232.1,330.0 L232.6,322.3 L233.0,320.8 L233.5,324.6 L233.9,321.8 L234.4,321.9 L234.8,316.6 L235.3,317.7 L235.7,316.1 L236.2,320.5 L236.6,317.2 L237.1,320.0 L237.5,323.5 L238.0,319.3 L238.4,322.4 L238.9,325.6 L239.3,328.8 L239.8,327.0 L240.2,330.0 L240.7,330.0 L241.1,330.0" stroke="#5cb01e" stroke-width="1.1" fill="none"/><path d="M125.2,327.1a1.65,1.65 0 1,0 3.3,0a1.65,1.65 0 1,0 -3.3,0M125.7,326.2a1.65,1.65 0 1,0 3.3,0a1.65,1.65 0 1,0 -3.3,0M126.1,324.9a1.65,1.65 0 1,0 3.3,0a1.65,1.65 0 1,0 -3.3,0M126.6,321.0a1.65,1.65 0 1,0 3.3,0a1.65,1.65 0 1,0 -3.3,0M127.0,322.8a1.65,1.65 0 1,0 3.3,0a1.65,1.65 0 1,0 -3.3,0M127.4,317.0a1.65,1.65 0 1,0 3.3,0a1.65,1.65 0 1,0 -3.3,0M127.9,318.8a1.65,1.65 0 1,0 3.3,0a1.65,1.65 0 1,0 -3.3,0M128.3,319.8a1.65,1.65 0 1,0 3.3,0a1.65,1.65 0 1,0 -3.3,0M128.8,316.2a1.65,1.65 0 1,0 3.3,0a1.65,1.65 0 1,0 -3.3,0M129.2,319.3a1.65,1.65 0 1,0 3.3,0a1.65,1.65 0 1,0 -3.3,0M129.7,322.1a1.65,1.65 0 1,0 3.3,0a1.65,1.65 0 1,0 -3.3,0M130.1,322.8a1.65,1.65 0 1,0 3.3,0a1.65,1.65 0 1,0 -3.3,0M130.6,320.7a1.65,1.65 0 1,0 3.3,0a1.65,1.65 0 1,0 -3.3,0M131.5,326.8a1.65,1.65 0 1,0 3.3,0a1.65,1.65 0 1,0 -3.3,0M131.9,325.9a1.65,1.65 0 1,0 3.3,0a1.65,1.65 0 1,0 -3.3,0M134.2,327.1a1.65,1.65 0 1,0 3.3,0a1.65,1.65 0 1,0 -3.3,0M134.6,324.8a1.65,1.65 0 1,0 3.3,0a1.65,1.65 0 1,0 -3.3,0M135.1,321.9a1.65,1.65 0 1,0 3.3,0a1.65,1.65 0 1,0 -3.3,0M135.5,325.1a1.65,1.65 0 1,0 3.3,0a1.65,1.65 0 1,0 -3.3,0M136.0,320.7a1.65,1.65 0 1,0 3.3,0a1.65,1.65 0 1,0 -3.3,0M136.4,319.9a1.65,1.65 0 1,0 3.3,0a1.65,1.65 0 1,0 -3.3,0M136.9,319.2a1.65,1.65 0 1,0 3.3,0a1.65,1.65 0 1,0 -3.3,0M137.3,320.0a1.65,1.65 0 1,0 3.3,0a1.65,1.65 0 1,0 -3.3,0M137.8,311.5a1.65,1.65 0 1,0 3.3,0a1.65,1.65 0 1,0 -3.3,0M138.2,315.6a1.65,1.65 0 1,0 3.3,0a1.65,1.65 0 1,0 -3.3,0M138.7,316.0a1.65,1.65 0 1,0 3.3,0a1.65,1.65 0 1,0 -3.3,0M139.1,311.9a1.65,1.65 0 1,0 3.3,0a1.65,1.65 0 1,0 -3.3,0M139.6,312.8a1.65,1.65 0 1,0 3.3,0a1.65,1.65 0 1,0 -3.3,0M140.0,310.0a1.65,1.65 0 1,0 3.3,0a1.65,1.65 0 1,0 -3.3,0M140.5,311.3a1.65,1.65 0 1,0 3.3,0a1.65,1.65 0 1,0 -3.3,0M140.9,313.1a1.65,1.65 0 1,0 3.3,0a1.65,1.65 0 1,0 -3.3,0M141.4,311.4a1.65,1.65 0 1,0 3.3,0a1.65,1.65 0 1,0 -3.3,0M141.8,313.2a1.65,1.65 0 1,0 3.3,0a1.65,1.65 0 1,0 -3.3,0M142.3,319.3a1.65,1.65 0 1,0 3.3,0a1.65,1.65 0 1,0 -3.3,0M142.7,317.4a1.65,1.65 0 1,0 3.3,0a1.65,1.65 0 1,0 -3.3,0M143.2,318.2a1.65,1.65 0 1,0 3.3,0a1.65,1.65 0 1,0 -3.3,0M143.6,323.2a1.65,1.65 0 1,0 3.3,0a1.65,1.65 0 1,0 -3.3,0M144.1,321.5a1.65,1.65 0 1,0 3.3,0a1.65,1.65 0 1,0 -3.3,0M144.5,326.5a1.65,1.65 0 1,0 3.3,0a1.65,1.65 0 1,0 -3.3,0M145.0,325.4a1.65,1.65 0 1,0 3.3,0a1.65,1.65 0 1,0 -3.3,0M145.4,326.1a1.65,1.65 0 1,0 3.3,0a1.65,1.65 0 1,0 -3.3,0M145.9,318.6a1.65,1.65 0 1,0 3.3,0a1.65,1.65 0 1,0 -3.3,0M146.3,321.4a1.65,1.65 0 1,0 3.3,0a1.65,1.65 0 1,0 -3.3,0M146.8,321.7a1.65,1.65 0 1,0 3.3,0a1.65,1.65 0 1,0 -3.3,0M147.2,315.2a1.65,1.65 0 1,0 3.3,0a1.65,1.65 0 1,0 -3.3,0M147.7,321.7a1.65,1.65 0 1,0 3.3,0a1.65,1.65 0 1,0 -3.3,0M148.1,315.3a1.65,1.65 0 1,0 3.3,0a1.65,1.65 0 1,0 -3.3,0M148.6,317.8a1.65,1.65 0 1,0 3.3,0a1.65,1.65 0 1,0 -3.3,0M149.0,315.7a1.65,1.65 0 1,0 3.3,0a1.65,1.65 0 1,0 -3.3,0M149.5,318.8a1.65,1.65 0 1,0 3.3,0a1.65,1.65 0 1,0 -3.3,0M149.9,320.5a1.65,1.65 0 1,0 3.3,0a1.65,1.65 0 1,0 -3.3,0M150.4,317.2a1.65,1.65 0 1,0 3.3,0a1.65,1.65 0 1,0 -3.3,0M150.8,325.6a1.65,1.65 0 1,0 3.3,0a1.65,1.65 0 1,0 -3.3,0M151.3,323.0a1.65,1.65 0 1,0 3.3,0a1.65,1.65 0 1,0 -3.3,0M151.7,325.7a1.65,1.65 0 1,0 3.3,0a1.65,1.65 0 1,0 -3.3,0M155.3,327.1a1.65,1.65 0 1,0 3.3,0a1.65,1.65 0 1,0 -3.3,0M155.8,326.6a1.65,1.65 0 1,0 3.3,0a1.65,1.65 0 1,0 -3.3,0M156.2,326.0a1.65,1.65 0 1,0 3.3,0a1.65,1.65 0 1,0 -3.3,0M156.7,325.4a1.65,1.65 0 1,0 3.3,0a1.65,1.65 0 1,0 -3.3,0M157.1,324.7a1.65,1.65 0 1,0 3.3,0a1.65,1.65 0 1,0 -3.3,0M157.6,323.9a1.65,1.65 0 1,0 3.3,0a1.65,1.65 0 1,0 -3.3,0M158.0,323.0a1.65,1.65 0 1,0 3.3,0a1.65,1.65 0 1,0 -3.3,0M158.5,321.9a1.65,1.65 0 1,0 3.3,0a1.65,1.65 0 1,0 -3.3,0M158.9,320.7a1.65,1.65 0 1,0 3.3,0a1.65,1.65 0 1,0 -3.3,0M159.4,319.5a1.65,1.65 0 1,0 3.3,0a1.65,1.65 0 1,0 -3.3,0M159.8,318.0a1.65,1.65 0 1,0 3.3,0a1.65,1.65 0 1,0 -3.3,0M160.3,316.5a1.65,1.65 0 1,0 3.3,0a1.65,1.65 0 1,0 -3.3,0M160.7,314.7a1.65,1.65 0 1,0 3.3,0a1.65,1.65 0 1,0 -3.3,0M161.2,312.7a1.65,1.65 0 1,0 3.3,0a1.65,1.65 0 1,0 -3.3,0M161.6,310.6a1.65,1.65 0 1,0 3.3,0a1.65,1.65 0 1,0 -3.3,0M162.1,308.4a1.65,1.65 0 1,0 3.3,0a1.65,1.65 0 1,0 -3.3,0M162.5,305.7a1.65,1.65 0 1,0 3.3,0a1.65,1.65 0 1,0 -3.3,0M163.0,302.5a1.65,1.65 0 1,0 3.3,0a1.65,1.65 0 1,0 -3.3,0M163.4,299.1a1.65,1.65 0 1,0 3.3,0a1.65,1.65 0 1,0 -3.3,0M163.9,295.6a1.65,1.65 0 1,0 3.3,0a1.65,1.65 0 1,0 -3.3,0M164.3,291.9a1.65,1.65 0 1,0 3.3,0a1.65,1.65 0 1,0 -3.3,0M164.8,288.0a1.65,1.65 0 1,0 3.3,0a1.65,1.65 0 1,0 -3.3,0M165.2,284.1a1.65,1.65 0 1,0 3.3,0a1.65,1.65 0 1,0 -3.3,0M165.7,280.0a1.65,1.65 0 1,0 3.3,0a1.65,1.65 0 1,0 -3.3,0M166.1,275.9a1.65,1.65 0 1,0 3.3,0a1.65,1.65 0 1,0 -3.3,0M166.6,271.5a1.65,1.65 0 1,0 3.3,0a1.65,1.65 0 1,0 -3.3,0M167.0,266.8a1.65,1.65 0 1,0 3.3,0a1.65,1.65 0 1,0 -3.3,0M167.5,262.0a1.65,1.65 0 1,0 3.3,0a1.65,1.65 0 1,0 -3.3,0M167.9,257.3a1.65,1.65 0 1,0 3.3,0a1.65,1.65 0 1,0 -3.3,0M168.4,252.4a1.65,1.65 0 1,0 3.3,0a1.65,1.65 0 1,0 -3.3,0M168.8,247.1a1.65,1.65 0 1,0 3.3,0a1.65,1.65 0 1,0 -3.3,0M169.3,241.8a1.65,1.65 0 1,0 3.3,0a1.65,1.65 0 1,0 -3.3,0M169.7,236.5a1.65,1.65 0 1,0 3.3,0a1.65,1.65 0 1,0 -3.3,0M170.2,231.1a1.65,1.65 0 1,0 3.3,0a1.65,1.65 0 1,0 -3.3,0M170.6,225.8a1.65,1.65 0 1,0 3.3,0a1.65,1.65 0 1,0 -3.3,0M171.1,220.3a1.65,1.65 0 1,0 3.3,0a1.65,1.65 0 1,0 -3.3,0M171.5,214.8a1.65,1.65 0 1,0 3.3,0a1.65,1.65 0 1,0 -3.3,0M172.0,209.2a1.65,1.65 0 1,0 3.3,0a1.65,1.65 0 1,0 -3.3,0M172.4,203.6a1.65,1.65 0 1,0 3.3,0a1.65,1.65 0 1,0 -3.3,0M172.9,198.1a1.65,1.65 0 1,0 3.3,0a1.65,1.65 0 1,0 -3.3,0M173.3,194.8a1.65,1.65 0 1,0 3.3,0a1.65,1.65 0 1,0 -3.3,0M173.8,191.8a1.65,1.65 0 1,0 3.3,0a1.65,1.65 0 1,0 -3.3,0M174.2,188.8a1.65,1.65 0 1,0 3.3,0a1.65,1.65 0 1,0 -3.3,0M174.7,185.8a1.65,1.65 0 1,0 3.3,0a1.65,1.65 0 1,0 -3.3,0M175.1,182.8a1.65,1.65 0 1,0 3.3,0a1.65,1.65 0 1,0 -3.3,0M175.6,180.6a1.65,1.65 0 1,0 3.3,0a1.65,1.65 0 1,0 -3.3,0M176.0,179.0a1.65,1.65 0 1,0 3.3,0a1.65,1.65 0 1,0 -3.3,0M176.5,177.1a1.65,1.65 0 1,0 3.3,0a1.65,1.65 0 1,0 -3.3,0M176.9,175.2a1.65,1.65 0 1,0 3.3,0a1.65,1.65 0 1,0 -3.3,0M177.4,174.9a1.65,1.65 0 1,0 3.3,0a1.65,1.65 0 1,0 -3.3,0M177.8,173.8a1.65,1.65 0 1,0 3.3,0a1.65,1.65 0 1,0 -3.3,0M178.3,172.2a1.65,1.65 0 1,0 3.3,0a1.65,1.65 0 1,0 -3.3,0M178.7,172.7a1.65,1.65 0 1,0 3.3,0a1.65,1.65 0 1,0 -3.3,0M179.2,170.6a1.65,1.65 0 1,0 3.3,0a1.65,1.65 0 1,0 -3.3,0M179.6,169.3a1.65,1.65 0 1,0 3.3,0a1.65,1.65 0 1,0 -3.3,0M180.1,169.7a1.65,1.65 0 1,0 3.3,0a1.65,1.65 0 1,0 -3.3,0M180.5,168.7a1.65,1.65 0 1,0 3.3,0a1.65,1.65 0 1,0 -3.3,0M181.0,168.7a1.65,1.65 0 1,0 3.3,0a1.65,1.65 0 1,0 -3.3,0M181.4,170.3a1.65,1.65 0 1,0 3.3,0a1.65,1.65 0 1,0 -3.3,0M181.9,169.6a1.65,1.65 0 1,0 3.3,0a1.65,1.65 0 1,0 -3.3,0M182.3,171.4a1.65,1.65 0 1,0 3.3,0a1.65,1.65 0 1,0 -3.3,0M182.8,171.3a1.65,1.65 0 1,0 3.3,0a1.65,1.65 0 1,0 -3.3,0M183.2,169.6a1.65,1.65 0 1,0 3.3,0a1.65,1.65 0 1,0 -3.3,0M183.7,173.1a1.65,1.65 0 1,0 3.3,0a1.65,1.65 0 1,0 -3.3,0M184.1,173.7a1.65,1.65 0 1,0 3.3,0a1.65,1.65 0 1,0 -3.3,0M184.6,171.9a1.65,1.65 0 1,0 3.3,0a1.65,1.65 0 1,0 -3.3,0M185.0,175.2a1.65,1.65 0 1,0 3.3,0a1.65,1.65 0 1,0 -3.3,0M185.5,174.8a1.65,1.65 0 1,0 3.3,0a1.65,1.65 0 1,0 -3.3,0M185.9,176.5a1.65,1.65 0 1,0 3.3,0a1.65,1.65 0 1,0 -3.3,0M186.4,178.2a1.65,1.65 0 1,0 3.3,0a1.65,1.65 0 1,0 -3.3,0M186.8,179.7a1.65,1.65 0 1,0 3.3,0a1.65,1.65 0 1,0 -3.3,0M187.3,181.3a1.65,1.65 0 1,0 3.3,0a1.65,1.65 0 1,0 -3.3,0M187.7,184.1a1.65,1.65 0 1,0 3.3,0a1.65,1.65 0 1,0 -3.3,0M188.2,187.1a1.65,1.65 0 1,0 3.3,0a1.65,1.65 0 1,0 -3.3,0M188.6,190.1a1.65,1.65 0 1,0 3.3,0a1.65,1.65 0 1,0 -3.3,0M189.1,193.1a1.65,1.65 0 1,0 3.3,0a1.65,1.65 0 1,0 -3.3,0M189.5,196.1a1.65,1.65 0 1,0 3.3,0a1.65,1.65 0 1,0 -3.3,0M190.0,200.6a1.65,1.65 0 1,0 3.3,0a1.65,1.65 0 1,0 -3.3,0M190.4,206.1a1.65,1.65 0 1,0 3.3,0a1.65,1.65 0 1,0 -3.3,0M190.9,211.7a1.65,1.65 0 1,0 3.3,0a1.65,1.65 0 1,0 -3.3,0M191.3,217.2a1.65,1.65 0 1,0 3.3,0a1.65,1.65 0 1,0 -3.3,0M191.8,222.8a1.65,1.65 0 1,0 3.3,0a1.65,1.65 0 1,0 -3.3,0M192.2,228.1a1.65,1.65 0 1,0 3.3,0a1.65,1.65 0 1,0 -3.3,0M192.7,233.5a1.65,1.65 0 1,0 3.3,0a1.65,1.65 0 1,0 -3.3,0M193.1,238.8a1.65,1.65 0 1,0 3.3,0a1.65,1.65 0 1,0 -3.3,0M193.6,244.2a1.65,1.65 0 1,0 3.3,0a1.65,1.65 0 1,0 -3.3,0M194.0,249.5a1.65,1.65 0 1,0 3.3,0a1.65,1.65 0 1,0 -3.3,0M194.5,254.6a1.65,1.65 0 1,0 3.3,0a1.65,1.65 0 1,0 -3.3,0M194.9,259.4a1.65,1.65 0 1,0 3.3,0a1.65,1.65 0 1,0 -3.3,0M195.4,264.1a1.65,1.65 0 1,0 3.3,0a1.65,1.65 0 1,0 -3.3,0M195.8,268.9a1.65,1.65 0 1,0 3.3,0a1.65,1.65 0 1,0 -3.3,0M196.3,273.0a1.65,1.65 0 1,0 3.3,0a1.65,1.65 0 1,0 -3.3,0M196.7,277.1a1.65,1.65 0 1,0 3.3,0a1.65,1.65 0 1,0 -3.3,0M197.2,281.3a1.65,1.65 0 1,0 3.3,0a1.65,1.65 0 1,0 -3.3,0M197.6,284.6a1.65,1.65 0 1,0 3.3,0a1.65,1.65 0 1,0 -3.3,0M198.1,287.6a1.65,1.65 0 1,0 3.3,0a1.65,1.65 0 1,0 -3.3,0M198.5,291.7a1.65,1.65 0 1,0 3.3,0a1.65,1.65 0 1,0 -3.3,0M199.0,294.2a1.65,1.65 0 1,0 3.3,0a1.65,1.65 0 1,0 -3.3,0M199.4,296.2a1.65,1.65 0 1,0 3.3,0a1.65,1.65 0 1,0 -3.3,0M199.9,296.6a1.65,1.65 0 1,0 3.3,0a1.65,1.65 0 1,0 -3.3,0M200.3,300.5a1.65,1.65 0 1,0 3.3,0a1.65,1.65 0 1,0 -3.3,0M200.8,301.1a1.65,1.65 0 1,0 3.3,0a1.65,1.65 0 1,0 -3.3,0M201.2,301.0a1.65,1.65 0 1,0 3.3,0a1.65,1.65 0 1,0 -3.3,0M201.7,301.2a1.65,1.65 0 1,0 3.3,0a1.65,1.65 0 1,0 -3.3,0M202.1,304.8a1.65,1.65 0 1,0 3.3,0a1.65,1.65 0 1,0 -3.3,0M202.6,303.4a1.65,1.65 0 1,0 3.3,0a1.65,1.65 0 1,0 -3.3,0M203.0,306.3a1.65,1.65 0 1,0 3.3,0a1.65,1.65 0 1,0 -3.3,0M203.5,308.6a1.65,1.65 0 1,0 3.3,0a1.65,1.65 0 1,0 -3.3,0M203.9,308.3a1.65,1.65 0 1,0 3.3,0a1.65,1.65 0 1,0 -3.3,0M204.4,308.1a1.65,1.65 0 1,0 3.3,0a1.65,1.65 0 1,0 -3.3,0M204.8,311.4a1.65,1.65 0 1,0 3.3,0a1.65,1.65 0 1,0 -3.3,0M205.3,311.6a1.65,1.65 0 1,0 3.3,0a1.65,1.65 0 1,0 -3.3,0M205.7,315.4a1.65,1.65 0 1,0 3.3,0a1.65,1.65 0 1,0 -3.3,0M206.2,315.1a1.65,1.65 0 1,0 3.3,0a1.65,1.65 0 1,0 -3.3,0M206.6,320.0a1.65,1.65 0 1,0 3.3,0a1.65,1.65 0 1,0 -3.3,0M207.1,321.3a1.65,1.65 0 1,0 3.3,0a1.65,1.65 0 1,0 -3.3,0M207.5,321.7a1.65,1.65 0 1,0 3.3,0a1.65,1.65 0 1,0 -3.3,0M208.0,320.1a1.65,1.65 0 1,0 3.3,0a1.65,1.65 0 1,0 -3.3,0M208.4,321.3a1.65,1.65 0 1,0 3.3,0a1.65,1.65 0 1,0 -3.3,0M215.2,324.4a1.65,1.65 0 1,0 3.3,0a1.65,1.65 0 1,0 -3.3,0M215.6,319.4a1.65,1.65 0 1,0 3.3,0a1.65,1.65 0 1,0 -3.3,0M216.1,316.1a1.65,1.65 0 1,0 3.3,0a1.65,1.65 0 1,0 -3.3,0M216.5,316.9a1.65,1.65 0 1,0 3.3,0a1.65,1.65 0 1,0 -3.3,0M217.0,313.7a1.65,1.65 0 1,0 3.3,0a1.65,1.65 0 1,0 -3.3,0M217.4,311.9a1.65,1.65 0 1,0 3.3,0a1.65,1.65 0 1,0 -3.3,0M217.9,310.5a1.65,1.65 0 1,0 3.3,0a1.65,1.65 0 1,0 -3.3,0M218.3,309.9a1.65,1.65 0 1,0 3.3,0a1.65,1.65 0 1,0 -3.3,0M218.8,304.0a1.65,1.65 0 1,0 3.3,0a1.65,1.65 0 1,0 -3.3,0M219.2,303.4a1.65,1.65 0 1,0 3.3,0a1.65,1.65 0 1,0 -3.3,0M219.7,308.3a1.65,1.65 0 1,0 3.3,0a1.65,1.65 0 1,0 -3.3,0M220.1,307.1a1.65,1.65 0 1,0 3.3,0a1.65,1.65 0 1,0 -3.3,0M220.6,306.3a1.65,1.65 0 1,0 3.3,0a1.65,1.65 0 1,0 -3.3,0M221.0,299.4a1.65,1.65 0 1,0 3.3,0a1.65,1.65 0 1,0 -3.3,0M221.5,299.5a1.65,1.65 0 1,0 3.3,0a1.65,1.65 0 1,0 -3.3,0M221.9,301.4a1.65,1.65 0 1,0 3.3,0a1.65,1.65 0 1,0 -3.3,0M222.4,303.0a1.65,1.65 0 1,0 3.3,0a1.65,1.65 0 1,0 -3.3,0M222.8,305.2a1.65,1.65 0 1,0 3.3,0a1.65,1.65 0 1,0 -3.3,0M223.3,301.9a1.65,1.65 0 1,0 3.3,0a1.65,1.65 0 1,0 -3.3,0M223.7,306.4a1.65,1.65 0 1,0 3.3,0a1.65,1.65 0 1,0 -3.3,0M224.2,304.0a1.65,1.65 0 1,0 3.3,0a1.65,1.65 0 1,0 -3.3,0M224.6,305.6a1.65,1.65 0 1,0 3.3,0a1.65,1.65 0 1,0 -3.3,0M225.1,312.0a1.65,1.65 0 1,0 3.3,0a1.65,1.65 0 1,0 -3.3,0M225.5,312.9a1.65,1.65 0 1,0 3.3,0a1.65,1.65 0 1,0 -3.3,0M226.0,315.7a1.65,1.65 0 1,0 3.3,0a1.65,1.65 0 1,0 -3.3,0M226.4,316.0a1.65,1.65 0 1,0 3.3,0a1.65,1.65 0 1,0 -3.3,0M226.9,319.5a1.65,1.65 0 1,0 3.3,0a1.65,1.65 0 1,0 -3.3,0M227.3,320.1a1.65,1.65 0 1,0 3.3,0a1.65,1.65 0 1,0 -3.3,0M227.8,324.2a1.65,1.65 0 1,0 3.3,0a1.65,1.65 0 1,0 -3.3,0M230.9,322.3a1.65,1.65 0 1,0 3.3,0a1.65,1.65 0 1,0 -3.3,0M231.4,320.8a1.65,1.65 0 1,0 3.3,0a1.65,1.65 0 1,0 -3.3,0M231.8,324.6a1.65,1.65 0 1,0 3.3,0a1.65,1.65 0 1,0 -3.3,0M232.3,321.8a1.65,1.65 0 1,0 3.3,0a1.65,1.65 0 1,0 -3.3,0M232.7,321.9a1.65,1.65 0 1,0 3.3,0a1.65,1.65 0 1,0 -3.3,0M233.2,316.6a1.65,1.65 0 1,0 3.3,0a1.65,1.65 0 1,0 -3.3,0M233.6,317.7a1.65,1.65 0 1,0 3.3,0a1.65,1.65 0 1,0 -3.3,0M234.1,316.1a1.65,1.65 0 1,0 3.3,0a1.65,1.65 0 1,0 -3.3,0M234.5,320.5a1.65,1.65 0 1,0 3.3,0a1.65,1.65 0 1,0 -3.3,0M235.0,317.2a1.65,1.65 0 1,0 3.3,0a1.65,1.65 0 1,0 -3.3,0M235.4,320.0a1.65,1.65 0 1,0 3.3,0a1.65,1.65 0 1,0 -3.3,0M235.9,323.5a1.65,1.65 0 1,0 3.3,0a1.65,1.65 0 1,0 -3.3,0M236.3,319.3a1.65,1.65 0 1,0 3.3,0a1.65,1.65 0 1,0 -3.3,0M236.8,322.4a1.65,1.65 0 1,0 3.3,0a1.65,1.65 0 1,0 -3.3,0M237.2,325.6a1.65,1.65 0 1,0 3.3,0a1.65,1.65 0 1,0 -3.3,0M238.1,327.0a1.65,1.65 0 1,0 3.3,0a1.65,1.65 0 1,0 -3.3,0" fill="#5cb01e"/><path d="M160.8,330.0 L161.2,330.0 L161.7,330.0 L162.1,330.0 L162.6,327.5 L163.0,323.0 L163.5,327.1 L163.9,318.8 L164.4,317.1 L164.8,319.5 L165.3,317.5 L165.7,318.0 L166.2,314.0 L166.6,317.1 L167.1,311.0 L167.5,311.8 L168.0,315.3 L168.4,310.8 L168.9,312.8 L169.3,316.7 L169.8,317.2 L170.2,314.8 L170.7,314.8 L171.1,316.2 L171.6,318.0 L172.0,314.1 L172.5,311.2 L172.9,315.2 L173.4,313.4 L173.8,315.8 L174.3,315.6 L174.7,315.2 L175.2,311.4 L175.6,314.4 L176.1,310.7 L176.5,311.2 L177.0,312.3 L177.4,317.1 L177.9,317.4 L178.3,313.1 L178.8,314.8 L179.2,315.7 L179.7,316.6 L180.1,317.9 L180.6,318.9 L181.0,317.4 L181.5,317.9 L181.9,317.5 L182.4,314.3 L182.8,314.5 L183.3,311.6 L183.7,308.2 L184.2,310.1 L184.6,309.3 L185.1,305.4 L185.5,303.1 L186.0,303.7 L186.4,301.7 L186.9,299.3 L187.3,296.9 L187.8,292.6 L188.2,289.0 L188.7,284.1 L189.1,281.0 L189.6,277.3 L190.0,272.6 L190.5,268.2 L190.9,264.0 L191.4,259.4 L191.8,254.5 L192.3,249.6 L192.7,244.3 L193.2,239.1 L193.6,233.8 L194.1,228.4 L194.5,223.1 L195.0,217.5 L195.4,212.0 L195.9,206.4 L196.3,200.9 L196.8,196.4 L197.2,193.4 L197.7,190.4 L198.1,187.4 L198.6,184.4 L199.0,181.6 L199.5,180.0 L199.9,178.5 L200.4,176.1 L200.8,174.5 L201.3,175.1 L201.7,173.5 L202.2,173.5 L202.6,171.6 L203.1,170.7 L203.5,172.3 L204.0,171.1 L204.4,170.2 L204.9,170.0 L205.3,170.7 L205.8,171.0 L206.2,172.0 L206.7,170.8 L207.1,172.5 L207.6,172.8 L208.0,174.2 L208.5,174.8 L208.9,175.7 L209.4,177.4 L209.8,179.1 L210.3,179.3 L210.7,180.9 L211.2,183.1 L211.6,186.1 L212.1,189.1 L212.5,192.1 L213.0,195.1 L213.4,198.4 L213.9,203.9 L214.3,209.5 L214.8,215.0 L215.2,220.6 L215.7,226.1 L216.1,231.4 L216.6,236.8 L217.0,242.1 L217.5,247.4 L217.9,252.7 L218.4,257.5 L218.8,262.3 L219.3,267.1 L219.7,271.7 L220.2,276.2 L220.6,280.3 L221.1,284.3 L221.5,288.3 L222.0,292.1 L222.4,295.8 L222.9,299.4 L223.3,302.7 L223.8,305.9 L224.2,308.6 L224.7,310.8 L225.1,312.9 L225.6,314.8 L226.0,316.6 L226.5,318.2 L226.9,319.6 L227.4,320.9 L227.8,322.0 L228.3,323.0 L228.7,324.0 L229.2,324.8 L229.6,325.5 L230.1,326.1 L230.5,326.6 L231.0,327.1 L231.4,327.8 L231.9,328.4 L232.3,328.8 L232.8,329.1 L233.2,329.3 L233.7,329.5 L234.1,329.6 L234.6,329.7 L235.0,329.8 L235.5,329.9 L235.9,329.9 L236.4,329.9 L236.8,329.9 L237.3,330.0 L237.7,330.0 L238.2,328.1 L238.6,324.5 L239.1,323.7 L239.5,322.4 L240.0,317.7 L240.4,316.4 L240.9,313.2 L241.3,317.3 L241.8,319.0 L242.2,314.1 L242.7,312.7 L243.1,313.7 L243.6,316.5 L244.0,316.8 L244.5,324.0 L244.9,318.7 L245.4,323.1 L245.8,324.3 L246.3,330.0 L246.7,330.0 L247.2,330.0 L247.6,330.0 L248.1,329.6 L248.5,328.8 L249.0,322.4 L249.4,320.1 L249.9,322.1 L250.3,322.2 L250.8,324.1 L251.2,316.6 L251.7,316.9 L252.1,317.5 L252.6,317.9 L253.0,318.5 L253.5,323.0 L253.9,322.9 L254.4,321.0 L254.8,322.0 L255.3,324.3 L255.7,325.2 L256.2,329.8 L256.6,330.0 L257.1,330.0" stroke="#f7ae0a" stroke-width="1.1" fill="none"/><path d="M161.4,323.0a1.65,1.65 0 1,0 3.3,0a1.65,1.65 0 1,0 -3.3,0M161.8,327.1a1.65,1.65 0 1,0 3.3,0a1.65,1.65 0 1,0 -3.3,0M162.3,318.8a1.65,1.65 0 1,0 3.3,0a1.65,1.65 0 1,0 -3.3,0M162.7,317.1a1.65,1.65 0 1,0 3.3,0a1.65,1.65 0 1,0 -3.3,0M163.2,319.5a1.65,1.65 0 1,0 3.3,0a1.65,1.65 0 1,0 -3.3,0M163.6,317.5a1.65,1.65 0 1,0 3.3,0a1.65,1.65 0 1,0 -3.3,0M164.1,318.0a1.65,1.65 0 1,0 3.3,0a1.65,1.65 0 1,0 -3.3,0M164.5,314.0a1.65,1.65 0 1,0 3.3,0a1.65,1.65 0 1,0 -3.3,0M165.0,317.1a1.65,1.65 0 1,0 3.3,0a1.65,1.65 0 1,0 -3.3,0M165.4,311.0a1.65,1.65 0 1,0 3.3,0a1.65,1.65 0 1,0 -3.3,0M165.9,311.8a1.65,1.65 0 1,0 3.3,0a1.65,1.65 0 1,0 -3.3,0M166.3,315.3a1.65,1.65 0 1,0 3.3,0a1.65,1.65 0 1,0 -3.3,0M166.8,310.8a1.65,1.65 0 1,0 3.3,0a1.65,1.65 0 1,0 -3.3,0M167.2,312.8a1.65,1.65 0 1,0 3.3,0a1.65,1.65 0 1,0 -3.3,0M167.7,316.7a1.65,1.65 0 1,0 3.3,0a1.65,1.65 0 1,0 -3.3,0M168.1,317.2a1.65,1.65 0 1,0 3.3,0a1.65,1.65 0 1,0 -3.3,0M168.6,314.8a1.65,1.65 0 1,0 3.3,0a1.65,1.65 0 1,0 -3.3,0M169.0,314.8a1.65,1.65 0 1,0 3.3,0a1.65,1.65 0 1,0 -3.3,0M169.5,316.2a1.65,1.65 0 1,0 3.3,0a1.65,1.65 0 1,0 -3.3,0M169.9,318.0a1.65,1.65 0 1,0 3.3,0a1.65,1.65 0 1,0 -3.3,0M170.4,314.1a1.65,1.65 0 1,0 3.3,0a1.65,1.65 0 1,0 -3.3,0M170.8,311.2a1.65,1.65 0 1,0 3.3,0a1.65,1.65 0 1,0 -3.3,0M171.3,315.2a1.65,1.65 0 1,0 3.3,0a1.65,1.65 0 1,0 -3.3,0M171.7,313.4a1.65,1.65 0 1,0 3.3,0a1.65,1.65 0 1,0 -3.3,0M172.2,315.8a1.65,1.65 0 1,0 3.3,0a1.65,1.65 0 1,0 -3.3,0M172.6,315.6a1.65,1.65 0 1,0 3.3,0a1.65,1.65 0 1,0 -3.3,0M173.1,315.2a1.65,1.65 0 1,0 3.3,0a1.65,1.65 0 1,0 -3.3,0M173.5,311.4a1.65,1.65 0 1,0 3.3,0a1.65,1.65 0 1,0 -3.3,0M174.0,314.4a1.65,1.65 0 1,0 3.3,0a1.65,1.65 0 1,0 -3.3,0M174.4,310.7a1.65,1.65 0 1,0 3.3,0a1.65,1.65 0 1,0 -3.3,0M174.9,311.2a1.65,1.65 0 1,0 3.3,0a1.65,1.65 0 1,0 -3.3,0M175.3,312.3a1.65,1.65 0 1,0 3.3,0a1.65,1.65 0 1,0 -3.3,0M175.8,317.1a1.65,1.65 0 1,0 3.3,0a1.65,1.65 0 1,0 -3.3,0M176.2,317.4a1.65,1.65 0 1,0 3.3,0a1.65,1.65 0 1,0 -3.3,0M176.7,313.1a1.65,1.65 0 1,0 3.3,0a1.65,1.65 0 1,0 -3.3,0M177.1,314.8a1.65,1.65 0 1,0 3.3,0a1.65,1.65 0 1,0 -3.3,0M177.6,315.7a1.65,1.65 0 1,0 3.3,0a1.65,1.65 0 1,0 -3.3,0M178.0,316.6a1.65,1.65 0 1,0 3.3,0a1.65,1.65 0 1,0 -3.3,0M178.5,317.9a1.65,1.65 0 1,0 3.3,0a1.65,1.65 0 1,0 -3.3,0M178.9,318.9a1.65,1.65 0 1,0 3.3,0a1.65,1.65 0 1,0 -3.3,0M179.4,317.4a1.65,1.65 0 1,0 3.3,0a1.65,1.65 0 1,0 -3.3,0M179.8,317.9a1.65,1.65 0 1,0 3.3,0a1.65,1.65 0 1,0 -3.3,0M180.3,317.5a1.65,1.65 0 1,0 3.3,0a1.65,1.65 0 1,0 -3.3,0M180.7,314.3a1.65,1.65 0 1,0 3.3,0a1.65,1.65 0 1,0 -3.3,0M181.2,314.5a1.65,1.65 0 1,0 3.3,0a1.65,1.65 0 1,0 -3.3,0M181.6,311.6a1.65,1.65 0 1,0 3.3,0a1.65,1.65 0 1,0 -3.3,0M182.1,308.2a1.65,1.65 0 1,0 3.3,0a1.65,1.65 0 1,0 -3.3,0M182.5,310.1a1.65,1.65 0 1,0 3.3,0a1.65,1.65 0 1,0 -3.3,0M183.0,309.3a1.65,1.65 0 1,0 3.3,0a1.65,1.65 0 1,0 -3.3,0M183.4,305.4a1.65,1.65 0 1,0 3.3,0a1.65,1.65 0 1,0 -3.3,0M183.9,303.1a1.65,1.65 0 1,0 3.3,0a1.65,1.65 0 1,0 -3.3,0M184.3,303.7a1.65,1.65 0 1,0 3.3,0a1.65,1.65 0 1,0 -3.3,0M184.8,301.7a1.65,1.65 0 1,0 3.3,0a1.65,1.65 0 1,0 -3.3,0M185.2,299.3a1.65,1.65 0 1,0 3.3,0a1.65,1.65 0 1,0 -3.3,0M185.7,296.9a1.65,1.65 0 1,0 3.3,0a1.65,1.65 0 1,0 -3.3,0M186.1,292.6a1.65,1.65 0 1,0 3.3,0a1.65,1.65 0 1,0 -3.3,0M186.6,289.0a1.65,1.65 0 1,0 3.3,0a1.65,1.65 0 1,0 -3.3,0M187.0,284.1a1.65,1.65 0 1,0 3.3,0a1.65,1.65 0 1,0 -3.3,0M187.5,281.0a1.65,1.65 0 1,0 3.3,0a1.65,1.65 0 1,0 -3.3,0M187.9,277.3a1.65,1.65 0 1,0 3.3,0a1.65,1.65 0 1,0 -3.3,0M188.4,272.6a1.65,1.65 0 1,0 3.3,0a1.65,1.65 0 1,0 -3.3,0M188.8,268.2a1.65,1.65 0 1,0 3.3,0a1.65,1.65 0 1,0 -3.3,0M189.3,264.0a1.65,1.65 0 1,0 3.3,0a1.65,1.65 0 1,0 -3.3,0M189.7,259.4a1.65,1.65 0 1,0 3.3,0a1.65,1.65 0 1,0 -3.3,0M190.2,254.5a1.65,1.65 0 1,0 3.3,0a1.65,1.65 0 1,0 -3.3,0M190.6,249.6a1.65,1.65 0 1,0 3.3,0a1.65,1.65 0 1,0 -3.3,0M191.1,244.3a1.65,1.65 0 1,0 3.3,0a1.65,1.65 0 1,0 -3.3,0M191.5,239.1a1.65,1.65 0 1,0 3.3,0a1.65,1.65 0 1,0 -3.3,0M192.0,233.8a1.65,1.65 0 1,0 3.3,0a1.65,1.65 0 1,0 -3.3,0M192.4,228.4a1.65,1.65 0 1,0 3.3,0a1.65,1.65 0 1,0 -3.3,0M192.9,223.1a1.65,1.65 0 1,0 3.3,0a1.65,1.65 0 1,0 -3.3,0M193.3,217.5a1.65,1.65 0 1,0 3.3,0a1.65,1.65 0 1,0 -3.3,0M193.8,212.0a1.65,1.65 0 1,0 3.3,0a1.65,1.65 0 1,0 -3.3,0M194.2,206.4a1.65,1.65 0 1,0 3.3,0a1.65,1.65 0 1,0 -3.3,0M194.7,200.9a1.65,1.65 0 1,0 3.3,0a1.65,1.65 0 1,0 -3.3,0M195.1,196.4a1.65,1.65 0 1,0 3.3,0a1.65,1.65 0 1,0 -3.3,0M195.6,193.4a1.65,1.65 0 1,0 3.3,0a1.65,1.65 0 1,0 -3.3,0M196.0,190.4a1.65,1.65 0 1,0 3.3,0a1.65,1.65 0 1,0 -3.3,0M196.5,187.4a1.65,1.65 0 1,0 3.3,0a1.65,1.65 0 1,0 -3.3,0M196.9,184.4a1.65,1.65 0 1,0 3.3,0a1.65,1.65 0 1,0 -3.3,0M197.4,181.6a1.65,1.65 0 1,0 3.3,0a1.65,1.65 0 1,0 -3.3,0M197.8,180.0a1.65,1.65 0 1,0 3.3,0a1.65,1.65 0 1,0 -3.3,0M198.3,178.5a1.65,1.65 0 1,0 3.3,0a1.65,1.65 0 1,0 -3.3,0M198.7,176.1a1.65,1.65 0 1,0 3.3,0a1.65,1.65 0 1,0 -3.3,0M199.2,174.5a1.65,1.65 0 1,0 3.3,0a1.65,1.65 0 1,0 -3.3,0M199.6,175.1a1.65,1.65 0 1,0 3.3,0a1.65,1.65 0 1,0 -3.3,0M200.1,173.5a1.65,1.65 0 1,0 3.3,0a1.65,1.65 0 1,0 -3.3,0M200.5,173.5a1.65,1.65 0 1,0 3.3,0a1.65,1.65 0 1,0 -3.3,0M201.0,171.6a1.65,1.65 0 1,0 3.3,0a1.65,1.65 0 1,0 -3.3,0M201.4,170.7a1.65,1.65 0 1,0 3.3,0a1.65,1.65 0 1,0 -3.3,0M201.9,172.3a1.65,1.65 0 1,0 3.3,0a1.65,1.65 0 1,0 -3.3,0M202.3,171.1a1.65,1.65 0 1,0 3.3,0a1.65,1.65 0 1,0 -3.3,0M202.8,170.2a1.65,1.65 0 1,0 3.3,0a1.65,1.65 0 1,0 -3.3,0M203.2,170.0a1.65,1.65 0 1,0 3.3,0a1.65,1.65 0 1,0 -3.3,0M203.7,170.7a1.65,1.65 0 1,0 3.3,0a1.65,1.65 0 1,0 -3.3,0M204.1,171.0a1.65,1.65 0 1,0 3.3,0a1.65,1.65 0 1,0 -3.3,0M204.6,172.0a1.65,1.65 0 1,0 3.3,0a1.65,1.65 0 1,0 -3.3,0M205.0,170.8a1.65,1.65 0 1,0 3.3,0a1.65,1.65 0 1,0 -3.3,0M205.5,172.5a1.65,1.65 0 1,0 3.3,0a1.65,1.65 0 1,0 -3.3,0M205.9,172.8a1.65,1.65 0 1,0 3.3,0a1.65,1.65 0 1,0 -3.3,0M206.4,174.2a1.65,1.65 0 1,0 3.3,0a1.65,1.65 0 1,0 -3.3,0M206.8,174.8a1.65,1.65 0 1,0 3.3,0a1.65,1.65 0 1,0 -3.3,0M207.3,175.7a1.65,1.65 0 1,0 3.3,0a1.65,1.65 0 1,0 -3.3,0M207.7,177.4a1.65,1.65 0 1,0 3.3,0a1.65,1.65 0 1,0 -3.3,0M208.2,179.1a1.65,1.65 0 1,0 3.3,0a1.65,1.65 0 1,0 -3.3,0M208.6,179.3a1.65,1.65 0 1,0 3.3,0a1.65,1.65 0 1,0 -3.3,0M209.1,180.9a1.65,1.65 0 1,0 3.3,0a1.65,1.65 0 1,0 -3.3,0M209.5,183.1a1.65,1.65 0 1,0 3.3,0a1.65,1.65 0 1,0 -3.3,0M210.0,186.1a1.65,1.65 0 1,0 3.3,0a1.65,1.65 0 1,0 -3.3,0M210.4,189.1a1.65,1.65 0 1,0 3.3,0a1.65,1.65 0 1,0 -3.3,0M210.9,192.1a1.65,1.65 0 1,0 3.3,0a1.65,1.65 0 1,0 -3.3,0M211.3,195.1a1.65,1.65 0 1,0 3.3,0a1.65,1.65 0 1,0 -3.3,0M211.8,198.4a1.65,1.65 0 1,0 3.3,0a1.65,1.65 0 1,0 -3.3,0M212.2,203.9a1.65,1.65 0 1,0 3.3,0a1.65,1.65 0 1,0 -3.3,0M212.7,209.5a1.65,1.65 0 1,0 3.3,0a1.65,1.65 0 1,0 -3.3,0M213.1,215.0a1.65,1.65 0 1,0 3.3,0a1.65,1.65 0 1,0 -3.3,0M213.6,220.6a1.65,1.65 0 1,0 3.3,0a1.65,1.65 0 1,0 -3.3,0M214.0,226.1a1.65,1.65 0 1,0 3.3,0a1.65,1.65 0 1,0 -3.3,0M214.5,231.4a1.65,1.65 0 1,0 3.3,0a1.65,1.65 0 1,0 -3.3,0M214.9,236.8a1.65,1.65 0 1,0 3.3,0a1.65,1.65 0 1,0 -3.3,0M215.4,242.1a1.65,1.65 0 1,0 3.3,0a1.65,1.65 0 1,0 -3.3,0M215.8,247.4a1.65,1.65 0 1,0 3.3,0a1.65,1.65 0 1,0 -3.3,0M216.3,252.7a1.65,1.65 0 1,0 3.3,0a1.65,1.65 0 1,0 -3.3,0M216.7,257.5a1.65,1.65 0 1,0 3.3,0a1.65,1.65 0 1,0 -3.3,0M217.2,262.3a1.65,1.65 0 1,0 3.3,0a1.65,1.65 0 1,0 -3.3,0M217.6,267.1a1.65,1.65 0 1,0 3.3,0a1.65,1.65 0 1,0 -3.3,0M218.1,271.7a1.65,1.65 0 1,0 3.3,0a1.65,1.65 0 1,0 -3.3,0M218.5,276.2a1.65,1.65 0 1,0 3.3,0a1.65,1.65 0 1,0 -3.3,0M219.0,280.3a1.65,1.65 0 1,0 3.3,0a1.65,1.65 0 1,0 -3.3,0M219.4,284.3a1.65,1.65 0 1,0 3.3,0a1.65,1.65 0 1,0 -3.3,0M219.9,288.3a1.65,1.65 0 1,0 3.3,0a1.65,1.65 0 1,0 -3.3,0M220.3,292.1a1.65,1.65 0 1,0 3.3,0a1.65,1.65 0 1,0 -3.3,0M220.8,295.8a1.65,1.65 0 1,0 3.3,0a1.65,1.65 0 1,0 -3.3,0M221.2,299.4a1.65,1.65 0 1,0 3.3,0a1.65,1.65 0 1,0 -3.3,0M221.7,302.7a1.65,1.65 0 1,0 3.3,0a1.65,1.65 0 1,0 -3.3,0M222.1,305.9a1.65,1.65 0 1,0 3.3,0a1.65,1.65 0 1,0 -3.3,0M222.6,308.6a1.65,1.65 0 1,0 3.3,0a1.65,1.65 0 1,0 -3.3,0M223.0,310.8a1.65,1.65 0 1,0 3.3,0a1.65,1.65 0 1,0 -3.3,0M223.5,312.9a1.65,1.65 0 1,0 3.3,0a1.65,1.65 0 1,0 -3.3,0M223.9,314.8a1.65,1.65 0 1,0 3.3,0a1.65,1.65 0 1,0 -3.3,0M224.4,316.6a1.65,1.65 0 1,0 3.3,0a1.65,1.65 0 1,0 -3.3,0M224.8,318.2a1.65,1.65 0 1,0 3.3,0a1.65,1.65 0 1,0 -3.3,0M225.3,319.6a1.65,1.65 0 1,0 3.3,0a1.65,1.65 0 1,0 -3.3,0M225.7,320.9a1.65,1.65 0 1,0 3.3,0a1.65,1.65 0 1,0 -3.3,0M226.2,322.0a1.65,1.65 0 1,0 3.3,0a1.65,1.65 0 1,0 -3.3,0M226.6,323.0a1.65,1.65 0 1,0 3.3,0a1.65,1.65 0 1,0 -3.3,0M227.1,324.0a1.65,1.65 0 1,0 3.3,0a1.65,1.65 0 1,0 -3.3,0M227.5,324.8a1.65,1.65 0 1,0 3.3,0a1.65,1.65 0 1,0 -3.3,0M228.0,325.5a1.65,1.65 0 1,0 3.3,0a1.65,1.65 0 1,0 -3.3,0M228.4,326.1a1.65,1.65 0 1,0 3.3,0a1.65,1.65 0 1,0 -3.3,0M228.9,326.6a1.65,1.65 0 1,0 3.3,0a1.65,1.65 0 1,0 -3.3,0M229.3,327.1a1.65,1.65 0 1,0 3.3,0a1.65,1.65 0 1,0 -3.3,0M237.0,324.5a1.65,1.65 0 1,0 3.3,0a1.65,1.65 0 1,0 -3.3,0M237.4,323.7a1.65,1.65 0 1,0 3.3,0a1.65,1.65 0 1,0 -3.3,0M237.9,322.4a1.65,1.65 0 1,0 3.3,0a1.65,1.65 0 1,0 -3.3,0M238.3,317.7a1.65,1.65 0 1,0 3.3,0a1.65,1.65 0 1,0 -3.3,0M238.8,316.4a1.65,1.65 0 1,0 3.3,0a1.65,1.65 0 1,0 -3.3,0M239.2,313.2a1.65,1.65 0 1,0 3.3,0a1.65,1.65 0 1,0 -3.3,0M239.7,317.3a1.65,1.65 0 1,0 3.3,0a1.65,1.65 0 1,0 -3.3,0M240.1,319.0a1.65,1.65 0 1,0 3.3,0a1.65,1.65 0 1,0 -3.3,0M240.6,314.1a1.65,1.65 0 1,0 3.3,0a1.65,1.65 0 1,0 -3.3,0M241.0,312.7a1.65,1.65 0 1,0 3.3,0a1.65,1.65 0 1,0 -3.3,0M241.5,313.7a1.65,1.65 0 1,0 3.3,0a1.65,1.65 0 1,0 -3.3,0M241.9,316.5a1.65,1.65 0 1,0 3.3,0a1.65,1.65 0 1,0 -3.3,0M242.4,316.8a1.65,1.65 0 1,0 3.3,0a1.65,1.65 0 1,0 -3.3,0M242.8,324.0a1.65,1.65 0 1,0 3.3,0a1.65,1.65 0 1,0 -3.3,0M243.3,318.7a1.65,1.65 0 1,0 3.3,0a1.65,1.65 0 1,0 -3.3,0M243.7,323.1a1.65,1.65 0 1,0 3.3,0a1.65,1.65 0 1,0 -3.3,0M244.2,324.3a1.65,1.65 0 1,0 3.3,0a1.65,1.65 0 1,0 -3.3,0M247.3,322.4a1.65,1.65 0 1,0 3.3,0a1.65,1.65 0 1,0 -3.3,0M247.8,320.1a1.65,1.65 0 1,0 3.3,0a1.65,1.65 0 1,0 -3.3,0M248.2,322.1a1.65,1.65 0 1,0 3.3,0a1.65,1.65 0 1,0 -3.3,0M248.7,322.2a1.65,1.65 0 1,0 3.3,0a1.65,1.65 0 1,0 -3.3,0M249.1,324.1a1.65,1.65 0 1,0 3.3,0a1.65,1.65 0 1,0 -3.3,0M249.6,316.6a1.65,1.65 0 1,0 3.3,0a1.65,1.65 0 1,0 -3.3,0M250.0,316.9a1.65,1.65 0 1,0 3.3,0a1.65,1.65 0 1,0 -3.3,0M250.5,317.5a1.65,1.65 0 1,0 3.3,0a1.65,1.65 0 1,0 -3.3,0M250.9,317.9a1.65,1.65 0 1,0 3.3,0a1.65,1.65 0 1,0 -3.3,0M251.4,318.5a1.65,1.65 0 1,0 3.3,0a1.65,1.65 0 1,0 -3.3,0M251.8,323.0a1.65,1.65 0 1,0 3.3,0a1.65,1.65 0 1,0 -3.3,0M252.3,322.9a1.65,1.65 0 1,0 3.3,0a1.65,1.65 0 1,0 -3.3,0M252.7,321.0a1.65,1.65 0 1,0 3.3,0a1.65,1.65 0 1,0 -3.3,0M253.2,322.0a1.65,1.65 0 1,0 3.3,0a1.65,1.65 0 1,0 -3.3,0M253.6,324.3a1.65,1.65 0 1,0 3.3,0a1.65,1.65 0 1,0 -3.3,0M254.1,325.2a1.65,1.65 0 1,0 3.3,0a1.65,1.65 0 1,0 -3.3,0" fill="#f7ae0a"/><path d="M176.5,330.0 L176.9,330.0 L177.4,330.0 L177.8,330.0 L178.3,330.0 L178.7,330.0 L179.2,324.9 L179.6,324.5 L180.1,324.6 L180.5,319.9 L181.0,316.4 L181.4,319.7 L181.9,318.4 L182.3,312.5 L182.8,313.0 L183.2,315.2 L183.7,310.5 L184.1,307.7 L184.6,305.8 L185.0,312.6 L185.5,311.1 L185.9,307.7 L186.4,308.9 L186.8,309.0 L187.3,307.4 L187.7,313.6 L188.2,311.6 L188.6,309.1 L189.1,308.3 L189.5,313.1 L190.0,313.5 L190.4,318.4 L190.9,319.3 L191.3,320.2 L191.8,318.5 L192.2,320.5 L192.7,324.1 L193.1,325.9 L193.6,330.0 L194.0,330.0 L194.5,330.0 L194.9,329.9 L195.4,329.9 L195.8,329.9 L196.3,329.1 L196.7,329.9 L197.2,325.0 L197.6,324.0 L198.1,324.9 L198.5,317.4 L199.0,317.9 L199.4,313.3 L199.9,316.6 L200.3,309.3 L200.8,314.2 L201.2,313.3 L201.7,312.1 L202.1,305.7 L202.6,306.2 L203.0,308.7 L203.5,303.6 L203.9,305.7 L204.4,305.0 L204.8,307.7 L205.3,304.7 L205.7,305.8 L206.2,301.8 L206.6,303.9 L207.1,301.1 L207.5,302.6 L208.0,297.5 L208.4,298.9 L208.9,294.6 L209.3,293.4 L209.8,290.7 L210.2,287.1 L210.7,285.0 L211.1,280.8 L211.6,276.9 L212.0,272.1 L212.5,267.8 L212.9,263.3 L213.4,258.8 L213.8,253.7 L214.3,248.7 L214.7,243.3 L215.2,238.2 L215.6,232.9 L216.1,227.7 L216.5,222.2 L217.0,216.6 L217.4,211.1 L217.9,205.5 L218.3,200.6 L218.8,197.6 L219.2,194.6 L219.7,191.6 L220.1,188.6 L220.6,185.6 L221.0,183.9 L221.5,182.4 L221.9,181.4 L222.4,178.4 L222.8,178.2 L223.3,177.1 L223.7,175.0 L224.2,177.1 L224.6,175.8 L225.1,173.7 L225.5,174.6 L226.0,173.2 L226.4,173.2 L226.9,173.7 L227.3,173.3 L227.8,173.8 L228.2,174.3 L228.7,175.5 L229.1,175.0 L229.6,175.7 L230.0,178.0 L230.5,177.6 L230.9,180.8 L231.4,181.2 L231.8,182.6 L232.3,184.2 L232.7,186.1 L233.2,189.1 L233.6,192.1 L234.1,195.1 L234.5,198.1 L235.0,201.1 L235.4,206.4 L235.9,212.0 L236.3,217.5 L236.8,223.1 L237.2,228.6 L237.7,233.9 L238.1,239.3 L238.6,244.6 L239.0,249.9 L239.5,255.1 L239.9,260.1 L240.4,264.8 L240.8,269.5 L241.3,274.2 L241.7,278.6 L242.2,282.7 L242.6,286.7 L243.1,289.8 L243.5,294.0 L244.0,295.7 L244.4,298.4 L244.9,300.6 L245.3,304.8 L245.8,306.7 L246.2,305.5 L246.7,307.4 L247.1,310.4 L247.6,309.7 L248.0,307.0 L248.5,308.1 L248.9,307.7 L249.4,307.4 L249.8,309.4 L250.3,306.9 L250.7,312.9 L251.2,309.3 L251.6,309.8 L252.1,310.7 L252.5,311.6 L253.0,312.1 L253.4,308.7 L253.9,308.3 L254.3,309.0 L254.8,305.9 L255.2,309.1 L255.7,311.6 L256.1,314.0 L256.6,312.7 L257.0,311.9 L257.5,311.8 L257.9,307.4 L258.4,310.3 L258.8,310.8 L259.3,313.8 L259.7,309.9 L260.2,312.7 L260.6,314.4 L261.1,317.3 L261.5,318.3 L262.0,317.4 L262.4,314.6 L262.9,320.4 L263.3,320.8 L263.8,316.9 L264.2,314.4 L264.7,314.9 L265.1,311.5 L265.6,315.8 L266.0,317.9 L266.5,314.2 L266.9,316.1 L267.4,317.6 L267.8,313.2 L268.3,320.1 L268.7,318.7 L269.2,316.6 L269.6,317.2" stroke="#1b9e77" stroke-width="1.1" fill="none"/><path d="M177.5,324.9a1.65,1.65 0 1,0 3.3,0a1.65,1.65 0 1,0 -3.3,0M178.0,324.5a1.65,1.65 0 1,0 3.3,0a1.65,1.65 0 1,0 -3.3,0M178.4,324.6a1.65,1.65 0 1,0 3.3,0a1.65,1.65 0 1,0 -3.3,0M178.9,319.9a1.65,1.65 0 1,0 3.3,0a1.65,1.65 0 1,0 -3.3,0M179.3,316.4a1.65,1.65 0 1,0 3.3,0a1.65,1.65 0 1,0 -3.3,0M179.8,319.7a1.65,1.65 0 1,0 3.3,0a1.65,1.65 0 1,0 -3.3,0M180.2,318.4a1.65,1.65 0 1,0 3.3,0a1.65,1.65 0 1,0 -3.3,0M180.7,312.5a1.65,1.65 0 1,0 3.3,0a1.65,1.65 0 1,0 -3.3,0M181.1,313.0a1.65,1.65 0 1,0 3.3,0a1.65,1.65 0 1,0 -3.3,0M181.6,315.2a1.65,1.65 0 1,0 3.3,0a1.65,1.65 0 1,0 -3.3,0M182.0,310.5a1.65,1.65 0 1,0 3.3,0a1.65,1.65 0 1,0 -3.3,0M182.5,307.7a1.65,1.65 0 1,0 3.3,0a1.65,1.65 0 1,0 -3.3,0M182.9,305.8a1.65,1.65 0 1,0 3.3,0a1.65,1.65 0 1,0 -3.3,0M183.4,312.6a1.65,1.65 0 1,0 3.3,0a1.65,1.65 0 1,0 -3.3,0M183.8,311.1a1.65,1.65 0 1,0 3.3,0a1.65,1.65 0 1,0 -3.3,0M184.3,307.7a1.65,1.65 0 1,0 3.3,0a1.65,1.65 0 1,0 -3.3,0M184.7,308.9a1.65,1.65 0 1,0 3.3,0a1.65,1.65 0 1,0 -3.3,0M185.2,309.0a1.65,1.65 0 1,0 3.3,0a1.65,1.65 0 1,0 -3.3,0M185.6,307.4a1.65,1.65 0 1,0 3.3,0a1.65,1.65 0 1,0 -3.3,0M186.1,313.6a1.65,1.65 0 1,0 3.3,0a1.65,1.65 0 1,0 -3.3,0M186.5,311.6a1.65,1.65 0 1,0 3.3,0a1.65,1.65 0 1,0 -3.3,0M187.0,309.1a1.65,1.65 0 1,0 3.3,0a1.65,1.65 0 1,0 -3.3,0M187.4,308.3a1.65,1.65 0 1,0 3.3,0a1.65,1.65 0 1,0 -3.3,0M187.9,313.1a1.65,1.65 0 1,0 3.3,0a1.65,1.65 0 1,0 -3.3,0M188.3,313.5a1.65,1.65 0 1,0 3.3,0a1.65,1.65 0 1,0 -3.3,0M188.8,318.4a1.65,1.65 0 1,0 3.3,0a1.65,1.65 0 1,0 -3.3,0M189.2,319.3a1.65,1.65 0 1,0 3.3,0a1.65,1.65 0 1,0 -3.3,0M189.7,320.2a1.65,1.65 0 1,0 3.3,0a1.65,1.65 0 1,0 -3.3,0M190.1,318.5a1.65,1.65 0 1,0 3.3,0a1.65,1.65 0 1,0 -3.3,0M190.6,320.5a1.65,1.65 0 1,0 3.3,0a1.65,1.65 0 1,0 -3.3,0M191.0,324.1a1.65,1.65 0 1,0 3.3,0a1.65,1.65 0 1,0 -3.3,0M191.5,325.9a1.65,1.65 0 1,0 3.3,0a1.65,1.65 0 1,0 -3.3,0M195.5,325.0a1.65,1.65 0 1,0 3.3,0a1.65,1.65 0 1,0 -3.3,0M196.0,324.0a1.65,1.65 0 1,0 3.3,0a1.65,1.65 0 1,0 -3.3,0M196.4,324.9a1.65,1.65 0 1,0 3.3,0a1.65,1.65 0 1,0 -3.3,0M196.9,317.4a1.65,1.65 0 1,0 3.3,0a1.65,1.65 0 1,0 -3.3,0M197.3,317.9a1.65,1.65 0 1,0 3.3,0a1.65,1.65 0 1,0 -3.3,0M197.8,313.3a1.65,1.65 0 1,0 3.3,0a1.65,1.65 0 1,0 -3.3,0M198.2,316.6a1.65,1.65 0 1,0 3.3,0a1.65,1.65 0 1,0 -3.3,0M198.7,309.3a1.65,1.65 0 1,0 3.3,0a1.65,1.65 0 1,0 -3.3,0M199.1,314.2a1.65,1.65 0 1,0 3.3,0a1.65,1.65 0 1,0 -3.3,0M199.6,313.3a1.65,1.65 0 1,0 3.3,0a1.65,1.65 0 1,0 -3.3,0M200.0,312.1a1.65,1.65 0 1,0 3.3,0a1.65,1.65 0 1,0 -3.3,0M200.5,305.7a1.65,1.65 0 1,0 3.3,0a1.65,1.65 0 1,0 -3.3,0M200.9,306.2a1.65,1.65 0 1,0 3.3,0a1.65,1.65 0 1,0 -3.3,0M201.4,308.7a1.65,1.65 0 1,0 3.3,0a1.65,1.65 0 1,0 -3.3,0M201.8,303.6a1.65,1.65 0 1,0 3.3,0a1.65,1.65 0 1,0 -3.3,0M202.3,305.7a1.65,1.65 0 1,0 3.3,0a1.65,1.65 0 1,0 -3.3,0M202.7,305.0a1.65,1.65 0 1,0 3.3,0a1.65,1.65 0 1,0 -3.3,0M203.2,307.7a1.65,1.65 0 1,0 3.3,0a1.65,1.65 0 1,0 -3.3,0M203.6,304.7a1.65,1.65 0 1,0 3.3,0a1.65,1.65 0 1,0 -3.3,0M204.1,305.8a1.65,1.65 0 1,0 3.3,0a1.65,1.65 0 1,0 -3.3,0M204.5,301.8a1.65,1.65 0 1,0 3.3,0a1.65,1.65 0 1,0 -3.3,0M205.0,303.9a1.65,1.65 0 1,0 3.3,0a1.65,1.65 0 1,0 -3.3,0M205.4,301.1a1.65,1.65 0 1,0 3.3,0a1.65,1.65 0 1,0 -3.3,0M205.9,302.6a1.65,1.65 0 1,0 3.3,0a1.65,1.65 0 1,0 -3.3,0M206.3,297.5a1.65,1.65 0 1,0 3.3,0a1.65,1.65 0 1,0 -3.3,0M206.8,298.9a1.65,1.65 0 1,0 3.3,0a1.65,1.65 0 1,0 -3.3,0M207.2,294.6a1.65,1.65 0 1,0 3.3,0a1.65,1.65 0 1,0 -3.3,0M207.7,293.4a1.65,1.65 0 1,0 3.3,0a1.65,1.65 0 1,0 -3.3,0M208.1,290.7a1.65,1.65 0 1,0 3.3,0a1.65,1.65 0 1,0 -3.3,0M208.6,287.1a1.65,1.65 0 1,0 3.3,0a1.65,1.65 0 1,0 -3.3,0M209.0,285.0a1.65,1.65 0 1,0 3.3,0a1.65,1.65 0 1,0 -3.3,0M209.5,280.8a1.65,1.65 0 1,0 3.3,0a1.65,1.65 0 1,0 -3.3,0M209.9,276.9a1.65,1.65 0 1,0 3.3,0a1.65,1.65 0 1,0 -3.3,0M210.4,272.1a1.65,1.65 0 1,0 3.3,0a1.65,1.65 0 1,0 -3.3,0M210.8,267.8a1.65,1.65 0 1,0 3.3,0a1.65,1.65 0 1,0 -3.3,0M211.3,263.3a1.65,1.65 0 1,0 3.3,0a1.65,1.65 0 1,0 -3.3,0M211.7,258.8a1.65,1.65 0 1,0 3.3,0a1.65,1.65 0 1,0 -3.3,0M212.2,253.7a1.65,1.65 0 1,0 3.3,0a1.65,1.65 0 1,0 -3.3,0M212.6,248.7a1.65,1.65 0 1,0 3.3,0a1.65,1.65 0 1,0 -3.3,0M213.1,243.3a1.65,1.65 0 1,0 3.3,0a1.65,1.65 0 1,0 -3.3,0M213.5,238.2a1.65,1.65 0 1,0 3.3,0a1.65,1.65 0 1,0 -3.3,0M214.0,232.9a1.65,1.65 0 1,0 3.3,0a1.65,1.65 0 1,0 -3.3,0M214.4,227.7a1.65,1.65 0 1,0 3.3,0a1.65,1.65 0 1,0 -3.3,0M214.9,222.2a1.65,1.65 0 1,0 3.3,0a1.65,1.65 0 1,0 -3.3,0M215.3,216.6a1.65,1.65 0 1,0 3.3,0a1.65,1.65 0 1,0 -3.3,0M215.8,211.1a1.65,1.65 0 1,0 3.3,0a1.65,1.65 0 1,0 -3.3,0M216.2,205.5a1.65,1.65 0 1,0 3.3,0a1.65,1.65 0 1,0 -3.3,0M216.7,200.6a1.65,1.65 0 1,0 3.3,0a1.65,1.65 0 1,0 -3.3,0M217.1,197.6a1.65,1.65 0 1,0 3.3,0a1.65,1.65 0 1,0 -3.3,0M217.6,194.6a1.65,1.65 0 1,0 3.3,0a1.65,1.65 0 1,0 -3.3,0M218.0,191.6a1.65,1.65 0 1,0 3.3,0a1.65,1.65 0 1,0 -3.3,0M218.5,188.6a1.65,1.65 0 1,0 3.3,0a1.65,1.65 0 1,0 -3.3,0M218.9,185.6a1.65,1.65 0 1,0 3.3,0a1.65,1.65 0 1,0 -3.3,0M219.4,183.9a1.65,1.65 0 1,0 3.3,0a1.65,1.65 0 1,0 -3.3,0M219.8,182.4a1.65,1.65 0 1,0 3.3,0a1.65,1.65 0 1,0 -3.3,0M220.3,181.4a1.65,1.65 0 1,0 3.3,0a1.65,1.65 0 1,0 -3.3,0M220.7,178.4a1.65,1.65 0 1,0 3.3,0a1.65,1.65 0 1,0 -3.3,0M221.2,178.2a1.65,1.65 0 1,0 3.3,0a1.65,1.65 0 1,0 -3.3,0M221.6,177.1a1.65,1.65 0 1,0 3.3,0a1.65,1.65 0 1,0 -3.3,0M222.1,175.0a1.65,1.65 0 1,0 3.3,0a1.65,1.65 0 1,0 -3.3,0M222.5,177.1a1.65,1.65 0 1,0 3.3,0a1.65,1.65 0 1,0 -3.3,0M223.0,175.8a1.65,1.65 0 1,0 3.3,0a1.65,1.65 0 1,0 -3.3,0M223.4,173.7a1.65,1.65 0 1,0 3.3,0a1.65,1.65 0 1,0 -3.3,0M223.9,174.6a1.65,1.65 0 1,0 3.3,0a1.65,1.65 0 1,0 -3.3,0M224.3,173.2a1.65,1.65 0 1,0 3.3,0a1.65,1.65 0 1,0 -3.3,0M224.8,173.2a1.65,1.65 0 1,0 3.3,0a1.65,1.65 0 1,0 -3.3,0M225.2,173.7a1.65,1.65 0 1,0 3.3,0a1.65,1.65 0 1,0 -3.3,0M225.7,173.3a1.65,1.65 0 1,0 3.3,0a1.65,1.65 0 1,0 -3.3,0M226.1,173.8a1.65,1.65 0 1,0 3.3,0a1.65,1.65 0 1,0 -3.3,0M226.6,174.3a1.65,1.65 0 1,0 3.3,0a1.65,1.65 0 1,0 -3.3,0M227.0,175.5a1.65,1.65 0 1,0 3.3,0a1.65,1.65 0 1,0 -3.3,0M227.5,175.0a1.65,1.65 0 1,0 3.3,0a1.65,1.65 0 1,0 -3.3,0M227.9,175.7a1.65,1.65 0 1,0 3.3,0a1.65,1.65 0 1,0 -3.3,0M228.4,178.0a1.65,1.65 0 1,0 3.3,0a1.65,1.65 0 1,0 -3.3,0M228.8,177.6a1.65,1.65 0 1,0 3.3,0a1.65,1.65 0 1,0 -3.3,0M229.3,180.8a1.65,1.65 0 1,0 3.3,0a1.65,1.65 0 1,0 -3.3,0M229.7,181.2a1.65,1.65 0 1,0 3.3,0a1.65,1.65 0 1,0 -3.3,0M230.2,182.6a1.65,1.65 0 1,0 3.3,0a1.65,1.65 0 1,0 -3.3,0M230.6,184.2a1.65,1.65 0 1,0 3.3,0a1.65,1.65 0 1,0 -3.3,0M231.1,186.1a1.65,1.65 0 1,0 3.3,0a1.65,1.65 0 1,0 -3.3,0M231.5,189.1a1.65,1.65 0 1,0 3.3,0a1.65,1.65 0 1,0 -3.3,0M232.0,192.1a1.65,1.65 0 1,0 3.3,0a1.65,1.65 0 1,0 -3.3,0M232.4,195.1a1.65,1.65 0 1,0 3.3,0a1.65,1.65 0 1,0 -3.3,0M232.9,198.1a1.65,1.65 0 1,0 3.3,0a1.65,1.65 0 1,0 -3.3,0M233.3,201.1a1.65,1.65 0 1,0 3.3,0a1.65,1.65 0 1,0 -3.3,0M233.8,206.4a1.65,1.65 0 1,0 3.3,0a1.65,1.65 0 1,0 -3.3,0M234.2,212.0a1.65,1.65 0 1,0 3.3,0a1.65,1.65 0 1,0 -3.3,0M234.7,217.5a1.65,1.65 0 1,0 3.3,0a1.65,1.65 0 1,0 -3.3,0M235.1,223.1a1.65,1.65 0 1,0 3.3,0a1.65,1.65 0 1,0 -3.3,0M235.6,228.6a1.65,1.65 0 1,0 3.3,0a1.65,1.65 0 1,0 -3.3,0M236.0,233.9a1.65,1.65 0 1,0 3.3,0a1.65,1.65 0 1,0 -3.3,0M236.5,239.3a1.65,1.65 0 1,0 3.3,0a1.65,1.65 0 1,0 -3.3,0M236.9,244.6a1.65,1.65 0 1,0 3.3,0a1.65,1.65 0 1,0 -3.3,0M237.4,249.9a1.65,1.65 0 1,0 3.3,0a1.65,1.65 0 1,0 -3.3,0M237.8,255.1a1.65,1.65 0 1,0 3.3,0a1.65,1.65 0 1,0 -3.3,0M238.3,260.1a1.65,1.65 0 1,0 3.3,0a1.65,1.65 0 1,0 -3.3,0M238.7,264.8a1.65,1.65 0 1,0 3.3,0a1.65,1.65 0 1,0 -3.3,0M239.2,269.5a1.65,1.65 0 1,0 3.3,0a1.65,1.65 0 1,0 -3.3,0M239.6,274.2a1.65,1.65 0 1,0 3.3,0a1.65,1.65 0 1,0 -3.3,0M240.1,278.6a1.65,1.65 0 1,0 3.3,0a1.65,1.65 0 1,0 -3.3,0M240.5,282.7a1.65,1.65 0 1,0 3.3,0a1.65,1.65 0 1,0 -3.3,0M241.0,286.7a1.65,1.65 0 1,0 3.3,0a1.65,1.65 0 1,0 -3.3,0M241.4,289.8a1.65,1.65 0 1,0 3.3,0a1.65,1.65 0 1,0 -3.3,0M241.9,294.0a1.65,1.65 0 1,0 3.3,0a1.65,1.65 0 1,0 -3.3,0M242.3,295.7a1.65,1.65 0 1,0 3.3,0a1.65,1.65 0 1,0 -3.3,0M242.8,298.4a1.65,1.65 0 1,0 3.3,0a1.65,1.65 0 1,0 -3.3,0M243.2,300.6a1.65,1.65 0 1,0 3.3,0a1.65,1.65 0 1,0 -3.3,0M243.7,304.8a1.65,1.65 0 1,0 3.3,0a1.65,1.65 0 1,0 -3.3,0M244.1,306.7a1.65,1.65 0 1,0 3.3,0a1.65,1.65 0 1,0 -3.3,0M244.6,305.5a1.65,1.65 0 1,0 3.3,0a1.65,1.65 0 1,0 -3.3,0M245.0,307.4a1.65,1.65 0 1,0 3.3,0a1.65,1.65 0 1,0 -3.3,0M245.5,310.4a1.65,1.65 0 1,0 3.3,0a1.65,1.65 0 1,0 -3.3,0M245.9,309.7a1.65,1.65 0 1,0 3.3,0a1.65,1.65 0 1,0 -3.3,0M246.4,307.0a1.65,1.65 0 1,0 3.3,0a1.65,1.65 0 1,0 -3.3,0M246.8,308.1a1.65,1.65 0 1,0 3.3,0a1.65,1.65 0 1,0 -3.3,0M247.3,307.7a1.65,1.65 0 1,0 3.3,0a1.65,1.65 0 1,0 -3.3,0M247.7,307.4a1.65,1.65 0 1,0 3.3,0a1.65,1.65 0 1,0 -3.3,0M248.2,309.4a1.65,1.65 0 1,0 3.3,0a1.65,1.65 0 1,0 -3.3,0M248.6,306.9a1.65,1.65 0 1,0 3.3,0a1.65,1.65 0 1,0 -3.3,0M249.1,312.9a1.65,1.65 0 1,0 3.3,0a1.65,1.65 0 1,0 -3.3,0M249.5,309.3a1.65,1.65 0 1,0 3.3,0a1.65,1.65 0 1,0 -3.3,0M250.0,309.8a1.65,1.65 0 1,0 3.3,0a1.65,1.65 0 1,0 -3.3,0M250.4,310.7a1.65,1.65 0 1,0 3.3,0a1.65,1.65 0 1,0 -3.3,0M250.9,311.6a1.65,1.65 0 1,0 3.3,0a1.65,1.65 0 1,0 -3.3,0M251.3,312.1a1.65,1.65 0 1,0 3.3,0a1.65,1.65 0 1,0 -3.3,0M251.8,308.7a1.65,1.65 0 1,0 3.3,0a1.65,1.65 0 1,0 -3.3,0M252.2,308.3a1.65,1.65 0 1,0 3.3,0a1.65,1.65 0 1,0 -3.3,0M252.7,309.0a1.65,1.65 0 1,0 3.3,0a1.65,1.65 0 1,0 -3.3,0M253.1,305.9a1.65,1.65 0 1,0 3.3,0a1.65,1.65 0 1,0 -3.3,0M253.6,309.1a1.65,1.65 0 1,0 3.3,0a1.65,1.65 0 1,0 -3.3,0M254.0,311.6a1.65,1.65 0 1,0 3.3,0a1.65,1.65 0 1,0 -3.3,0M254.5,314.0a1.65,1.65 0 1,0 3.3,0a1.65,1.65 0 1,0 -3.3,0M254.9,312.7a1.65,1.65 0 1,0 3.3,0a1.65,1.65 0 1,0 -3.3,0M255.4,311.9a1.65,1.65 0 1,0 3.3,0a1.65,1.65 0 1,0 -3.3,0M255.8,311.8a1.65,1.65 0 1,0 3.3,0a1.65,1.65 0 1,0 -3.3,0M256.3,307.4a1.65,1.65 0 1,0 3.3,0a1.65,1.65 0 1,0 -3.3,0M256.7,310.3a1.65,1.65 0 1,0 3.3,0a1.65,1.65 0 1,0 -3.3,0M257.2,310.8a1.65,1.65 0 1,0 3.3,0a1.65,1.65 0 1,0 -3.3,0M257.6,313.8a1.65,1.65 0 1,0 3.3,0a1.65,1.65 0 1,0 -3.3,0M258.1,309.9a1.65,1.65 0 1,0 3.3,0a1.65,1.65 0 1,0 -3.3,0M258.5,312.7a1.65,1.65 0 1,0 3.3,0a1.65,1.65 0 1,0 -3.3,0M259.0,314.4a1.65,1.65 0 1,0 3.3,0a1.65,1.65 0 1,0 -3.3,0M259.4,317.3a1.65,1.65 0 1,0 3.3,0a1.65,1.65 0 1,0 -3.3,0M259.9,318.3a1.65,1.65 0 1,0 3.3,0a1.65,1.65 0 1,0 -3.3,0M260.3,317.4a1.65,1.65 0 1,0 3.3,0a1.65,1.65 0 1,0 -3.3,0M260.8,314.6a1.65,1.65 0 1,0 3.3,0a1.65,1.65 0 1,0 -3.3,0M261.2,320.4a1.65,1.65 0 1,0 3.3,0a1.65,1.65 0 1,0 -3.3,0M261.7,320.8a1.65,1.65 0 1,0 3.3,0a1.65,1.65 0 1,0 -3.3,0M262.1,316.9a1.65,1.65 0 1,0 3.3,0a1.65,1.65 0 1,0 -3.3,0M262.6,314.4a1.65,1.65 0 1,0 3.3,0a1.65,1.65 0 1,0 -3.3,0M263.0,314.9a1.65,1.65 0 1,0 3.3,0a1.65,1.65 0 1,0 -3.3,0M263.5,311.5a1.65,1.65 0 1,0 3.3,0a1.65,1.65 0 1,0 -3.3,0M263.9,315.8a1.65,1.65 0 1,0 3.3,0a1.65,1.65 0 1,0 -3.3,0M264.4,317.9a1.65,1.65 0 1,0 3.3,0a1.65,1.65 0 1,0 -3.3,0M264.8,314.2a1.65,1.65 0 1,0 3.3,0a1.65,1.65 0 1,0 -3.3,0M265.3,316.1a1.65,1.65 0 1,0 3.3,0a1.65,1.65 0 1,0 -3.3,0M265.7,317.6a1.65,1.65 0 1,0 3.3,0a1.65,1.65 0 1,0 -3.3,0M266.2,313.2a1.65,1.65 0 1,0 3.3,0a1.65,1.65 0 1,0 -3.3,0M266.6,320.1a1.65,1.65 0 1,0 3.3,0a1.65,1.65 0 1,0 -3.3,0M267.1,318.7a1.65,1.65 0 1,0 3.3,0a1.65,1.65 0 1,0 -3.3,0M267.5,316.6a1.65,1.65 0 1,0 3.3,0a1.65,1.65 0 1,0 -3.3,0M268.0,317.2a1.65,1.65 0 1,0 3.3,0a1.65,1.65 0 1,0 -3.3,0" fill="#1b9e77"/><path d="M195.0,330.0 L195.4,330.0 L195.9,330.0 L196.3,330.0 L196.8,330.0 L197.2,325.2 L197.7,324.2 L198.1,321.8 L198.6,315.7 L199.0,304.1 L199.5,297.1 L199.9,302.8 L200.4,305.3 L200.8,301.7 L201.3,301.2 L201.7,304.7 L202.2,298.0 L202.6,298.4 L203.1,297.4 L203.5,301.8 L204.0,297.4 L204.4,292.1 L204.9,300.9 L205.3,301.4 L205.8,299.8 L206.2,301.2 L206.7,303.9 L207.1,292.8 L207.6,297.3 L208.0,299.8 L208.5,297.1 L208.9,298.4 L209.4,299.8 L209.8,296.8 L210.3,300.3 L210.7,296.5 L211.2,297.3 L211.6,298.1 L212.1,295.9 L212.5,298.8 L213.0,295.7 L213.4,297.5 L213.9,297.9 L214.3,298.1 L214.8,298.3 L215.2,297.4 L215.7,304.3 L216.1,303.6 L216.6,299.1 L217.0,292.8 L217.5,299.9 L217.9,295.8 L218.4,302.8 L218.8,296.1 L219.3,297.2 L219.7,299.0 L220.2,299.8 L220.6,297.1 L221.1,295.1 L221.5,297.5 L222.0,293.6 L222.4,293.9 L222.9,300.6 L223.3,292.6 L223.8,296.4 L224.2,298.2 L224.7,298.7 L225.1,298.7 L225.6,291.0 L226.0,301.5 L226.5,302.1 L226.9,303.2 L227.4,293.9 L227.8,301.3 L228.3,297.0 L228.7,294.4 L229.2,295.6 L229.6,289.6 L230.1,288.3 L230.5,286.4 L231.0,289.5 L231.4,289.3 L231.9,287.1 L232.3,285.7 L232.8,283.2 L233.2,279.9 L233.7,280.3 L234.1,277.0 L234.6,274.5 L235.0,271.5 L235.5,268.4 L235.9,264.5 L236.4,260.0 L236.8,255.3 L237.3,250.3 L237.7,245.1 L238.2,239.8 L238.6,234.5 L239.1,229.1 L239.5,223.6 L240.0,218.0 L240.4,212.5 L240.9,206.9 L241.3,202.8 L241.8,199.8 L242.2,196.8 L242.7,193.8 L243.1,190.8 L243.6,188.1 L244.0,186.6 L244.5,185.0 L244.9,182.6 L245.4,181.2 L245.8,182.2 L246.3,180.6 L246.7,178.6 L247.2,178.9 L247.6,176.6 L248.1,179.0 L248.5,177.0 L249.0,176.9 L249.4,176.6 L249.9,175.4 L250.3,177.4 L250.8,176.8 L251.2,177.1 L251.7,179.2 L252.1,177.9 L252.6,179.3 L253.0,181.5 L253.5,180.7 L253.9,182.4 L254.4,184.8 L254.8,186.2 L255.3,187.8 L255.7,190.1 L256.2,193.1 L256.6,196.1 L257.1,199.1 L257.5,202.1 L258.0,205.7 L258.4,211.2 L258.9,216.8 L259.3,222.3 L259.8,227.9 L260.2,233.3 L260.7,238.6 L261.1,244.0 L261.6,249.3 L262.0,254.5 L262.5,259.8 L262.9,264.5 L263.4,269.2 L263.8,273.9 L264.3,278.5 L264.7,282.7 L265.2,286.7 L265.6,290.6 L266.1,294.3 L266.5,298.0 L267.0,301.4 L267.4,304.7 L267.9,307.7 L268.3,310.6 L268.8,312.8 L269.2,314.8 L269.7,316.6" stroke="#f26a12" stroke-width="1.1" fill="none"/><path d="M195.6,325.2a1.65,1.65 0 1,0 3.3,0a1.65,1.65 0 1,0 -3.3,0M196.0,324.2a1.65,1.65 0 1,0 3.3,0a1.65,1.65 0 1,0 -3.3,0M196.5,321.8a1.65,1.65 0 1,0 3.3,0a1.65,1.65 0 1,0 -3.3,0M196.9,315.7a1.65,1.65 0 1,0 3.3,0a1.65,1.65 0 1,0 -3.3,0M197.4,304.1a1.65,1.65 0 1,0 3.3,0a1.65,1.65 0 1,0 -3.3,0M197.8,297.1a1.65,1.65 0 1,0 3.3,0a1.65,1.65 0 1,0 -3.3,0M198.3,302.8a1.65,1.65 0 1,0 3.3,0a1.65,1.65 0 1,0 -3.3,0M198.7,305.3a1.65,1.65 0 1,0 3.3,0a1.65,1.65 0 1,0 -3.3,0M199.2,301.7a1.65,1.65 0 1,0 3.3,0a1.65,1.65 0 1,0 -3.3,0M199.6,301.2a1.65,1.65 0 1,0 3.3,0a1.65,1.65 0 1,0 -3.3,0M200.1,304.7a1.65,1.65 0 1,0 3.3,0a1.65,1.65 0 1,0 -3.3,0M200.5,298.0a1.65,1.65 0 1,0 3.3,0a1.65,1.65 0 1,0 -3.3,0M201.0,298.4a1.65,1.65 0 1,0 3.3,0a1.65,1.65 0 1,0 -3.3,0M201.4,297.4a1.65,1.65 0 1,0 3.3,0a1.65,1.65 0 1,0 -3.3,0M201.9,301.8a1.65,1.65 0 1,0 3.3,0a1.65,1.65 0 1,0 -3.3,0M202.3,297.4a1.65,1.65 0 1,0 3.3,0a1.65,1.65 0 1,0 -3.3,0M202.8,292.1a1.65,1.65 0 1,0 3.3,0a1.65,1.65 0 1,0 -3.3,0M203.2,300.9a1.65,1.65 0 1,0 3.3,0a1.65,1.65 0 1,0 -3.3,0M203.7,301.4a1.65,1.65 0 1,0 3.3,0a1.65,1.65 0 1,0 -3.3,0M204.1,299.8a1.65,1.65 0 1,0 3.3,0a1.65,1.65 0 1,0 -3.3,0M204.6,301.2a1.65,1.65 0 1,0 3.3,0a1.65,1.65 0 1,0 -3.3,0M205.0,303.9a1.65,1.65 0 1,0 3.3,0a1.65,1.65 0 1,0 -3.3,0M205.5,292.8a1.65,1.65 0 1,0 3.3,0a1.65,1.65 0 1,0 -3.3,0M205.9,297.3a1.65,1.65 0 1,0 3.3,0a1.65,1.65 0 1,0 -3.3,0M206.4,299.8a1.65,1.65 0 1,0 3.3,0a1.65,1.65 0 1,0 -3.3,0M206.8,297.1a1.65,1.65 0 1,0 3.3,0a1.65,1.65 0 1,0 -3.3,0M207.3,298.4a1.65,1.65 0 1,0 3.3,0a1.65,1.65 0 1,0 -3.3,0M207.7,299.8a1.65,1.65 0 1,0 3.3,0a1.65,1.65 0 1,0 -3.3,0M208.2,296.8a1.65,1.65 0 1,0 3.3,0a1.65,1.65 0 1,0 -3.3,0M208.6,300.3a1.65,1.65 0 1,0 3.3,0a1.65,1.65 0 1,0 -3.3,0M209.1,296.5a1.65,1.65 0 1,0 3.3,0a1.65,1.65 0 1,0 -3.3,0M209.5,297.3a1.65,1.65 0 1,0 3.3,0a1.65,1.65 0 1,0 -3.3,0M210.0,298.1a1.65,1.65 0 1,0 3.3,0a1.65,1.65 0 1,0 -3.3,0M210.4,295.9a1.65,1.65 0 1,0 3.3,0a1.65,1.65 0 1,0 -3.3,0M210.9,298.8a1.65,1.65 0 1,0 3.3,0a1.65,1.65 0 1,0 -3.3,0M211.3,295.7a1.65,1.65 0 1,0 3.3,0a1.65,1.65 0 1,0 -3.3,0M211.8,297.5a1.65,1.65 0 1,0 3.3,0a1.65,1.65 0 1,0 -3.3,0M212.2,297.9a1.65,1.65 0 1,0 3.3,0a1.65,1.65 0 1,0 -3.3,0M212.7,298.1a1.65,1.65 0 1,0 3.3,0a1.65,1.65 0 1,0 -3.3,0M213.1,298.3a1.65,1.65 0 1,0 3.3,0a1.65,1.65 0 1,0 -3.3,0M213.6,297.4a1.65,1.65 0 1,0 3.3,0a1.65,1.65 0 1,0 -3.3,0M214.0,304.3a1.65,1.65 0 1,0 3.3,0a1.65,1.65 0 1,0 -3.3,0M214.5,303.6a1.65,1.65 0 1,0 3.3,0a1.65,1.65 0 1,0 -3.3,0M214.9,299.1a1.65,1.65 0 1,0 3.3,0a1.65,1.65 0 1,0 -3.3,0M215.4,292.8a1.65,1.65 0 1,0 3.3,0a1.65,1.65 0 1,0 -3.3,0M215.8,299.9a1.65,1.65 0 1,0 3.3,0a1.65,1.65 0 1,0 -3.3,0M216.3,295.8a1.65,1.65 0 1,0 3.3,0a1.65,1.65 0 1,0 -3.3,0M216.7,302.8a1.65,1.65 0 1,0 3.3,0a1.65,1.65 0 1,0 -3.3,0M217.2,296.1a1.65,1.65 0 1,0 3.3,0a1.65,1.65 0 1,0 -3.3,0M217.6,297.2a1.65,1.65 0 1,0 3.3,0a1.65,1.65 0 1,0 -3.3,0M218.1,299.0a1.65,1.65 0 1,0 3.3,0a1.65,1.65 0 1,0 -3.3,0M218.5,299.8a1.65,1.65 0 1,0 3.3,0a1.65,1.65 0 1,0 -3.3,0M219.0,297.1a1.65,1.65 0 1,0 3.3,0a1.65,1.65 0 1,0 -3.3,0M219.4,295.1a1.65,1.65 0 1,0 3.3,0a1.65,1.65 0 1,0 -3.3,0M219.9,297.5a1.65,1.65 0 1,0 3.3,0a1.65,1.65 0 1,0 -3.3,0M220.3,293.6a1.65,1.65 0 1,0 3.3,0a1.65,1.65 0 1,0 -3.3,0M220.8,293.9a1.65,1.65 0 1,0 3.3,0a1.65,1.65 0 1,0 -3.3,0M221.2,300.6a1.65,1.65 0 1,0 3.3,0a1.65,1.65 0 1,0 -3.3,0M221.7,292.6a1.65,1.65 0 1,0 3.3,0a1.65,1.65 0 1,0 -3.3,0M222.1,296.4a1.65,1.65 0 1,0 3.3,0a1.65,1.65 0 1,0 -3.3,0M222.6,298.2a1.65,1.65 0 1,0 3.3,0a1.65,1.65 0 1,0 -3.3,0M223.0,298.7a1.65,1.65 0 1,0 3.3,0a1.65,1.65 0 1,0 -3.3,0M223.5,298.7a1.65,1.65 0 1,0 3.3,0a1.65,1.65 0 1,0 -3.3,0M223.9,291.0a1.65,1.65 0 1,0 3.3,0a1.65,1.65 0 1,0 -3.3,0M224.4,301.5a1.65,1.65 0 1,0 3.3,0a1.65,1.65 0 1,0 -3.3,0M224.8,302.1a1.65,1.65 0 1,0 3.3,0a1.65,1.65 0 1,0 -3.3,0M225.3,303.2a1.65,1.65 0 1,0 3.3,0a1.65,1.65 0 1,0 -3.3,0M225.7,293.9a1.65,1.65 0 1,0 3.3,0a1.65,1.65 0 1,0 -3.3,0M226.2,301.3a1.65,1.65 0 1,0 3.3,0a1.65,1.65 0 1,0 -3.3,0M226.6,297.0a1.65,1.65 0 1,0 3.3,0a1.65,1.65 0 1,0 -3.3,0M227.1,294.4a1.65,1.65 0 1,0 3.3,0a1.65,1.65 0 1,0 -3.3,0M227.5,295.6a1.65,1.65 0 1,0 3.3,0a1.65,1.65 0 1,0 -3.3,0M228.0,289.6a1.65,1.65 0 1,0 3.3,0a1.65,1.65 0 1,0 -3.3,0M228.4,288.3a1.65,1.65 0 1,0 3.3,0a1.65,1.65 0 1,0 -3.3,0M228.9,286.4a1.65,1.65 0 1,0 3.3,0a1.65,1.65 0 1,0 -3.3,0M229.3,289.5a1.65,1.65 0 1,0 3.3,0a1.65,1.65 0 1,0 -3.3,0M229.8,289.3a1.65,1.65 0 1,0 3.3,0a1.65,1.65 0 1,0 -3.3,0M230.2,287.1a1.65,1.65 0 1,0 3.3,0a1.65,1.65 0 1,0 -3.3,0M230.7,285.7a1.65,1.65 0 1,0 3.3,0a1.65,1.65 0 1,0 -3.3,0M231.1,283.2a1.65,1.65 0 1,0 3.3,0a1.65,1.65 0 1,0 -3.3,0M231.6,279.9a1.65,1.65 0 1,0 3.3,0a1.65,1.65 0 1,0 -3.3,0M232.0,280.3a1.65,1.65 0 1,0 3.3,0a1.65,1.65 0 1,0 -3.3,0M232.5,277.0a1.65,1.65 0 1,0 3.3,0a1.65,1.65 0 1,0 -3.3,0M232.9,274.5a1.65,1.65 0 1,0 3.3,0a1.65,1.65 0 1,0 -3.3,0M233.4,271.5a1.65,1.65 0 1,0 3.3,0a1.65,1.65 0 1,0 -3.3,0M233.8,268.4a1.65,1.65 0 1,0 3.3,0a1.65,1.65 0 1,0 -3.3,0M234.3,264.5a1.65,1.65 0 1,0 3.3,0a1.65,1.65 0 1,0 -3.3,0M234.7,260.0a1.65,1.65 0 1,0 3.3,0a1.65,1.65 0 1,0 -3.3,0M235.2,255.3a1.65,1.65 0 1,0 3.3,0a1.65,1.65 0 1,0 -3.3,0M235.6,250.3a1.65,1.65 0 1,0 3.3,0a1.65,1.65 0 1,0 -3.3,0M236.1,245.1a1.65,1.65 0 1,0 3.3,0a1.65,1.65 0 1,0 -3.3,0M236.5,239.8a1.65,1.65 0 1,0 3.3,0a1.65,1.65 0 1,0 -3.3,0M237.0,234.5a1.65,1.65 0 1,0 3.3,0a1.65,1.65 0 1,0 -3.3,0M237.4,229.1a1.65,1.65 0 1,0 3.3,0a1.65,1.65 0 1,0 -3.3,0M237.9,223.6a1.65,1.65 0 1,0 3.3,0a1.65,1.65 0 1,0 -3.3,0M238.3,218.0a1.65,1.65 0 1,0 3.3,0a1.65,1.65 0 1,0 -3.3,0M238.8,212.5a1.65,1.65 0 1,0 3.3,0a1.65,1.65 0 1,0 -3.3,0M239.2,206.9a1.65,1.65 0 1,0 3.3,0a1.65,1.65 0 1,0 -3.3,0M239.7,202.8a1.65,1.65 0 1,0 3.3,0a1.65,1.65 0 1,0 -3.3,0M240.1,199.8a1.65,1.65 0 1,0 3.3,0a1.65,1.65 0 1,0 -3.3,0M240.6,196.8a1.65,1.65 0 1,0 3.3,0a1.65,1.65 0 1,0 -3.3,0M241.0,193.8a1.65,1.65 0 1,0 3.3,0a1.65,1.65 0 1,0 -3.3,0M241.5,190.8a1.65,1.65 0 1,0 3.3,0a1.65,1.65 0 1,0 -3.3,0M241.9,188.1a1.65,1.65 0 1,0 3.3,0a1.65,1.65 0 1,0 -3.3,0M242.4,186.6a1.65,1.65 0 1,0 3.3,0a1.65,1.65 0 1,0 -3.3,0M242.8,185.0a1.65,1.65 0 1,0 3.3,0a1.65,1.65 0 1,0 -3.3,0M243.3,182.6a1.65,1.65 0 1,0 3.3,0a1.65,1.65 0 1,0 -3.3,0M243.7,181.2a1.65,1.65 0 1,0 3.3,0a1.65,1.65 0 1,0 -3.3,0M244.2,182.2a1.65,1.65 0 1,0 3.3,0a1.65,1.65 0 1,0 -3.3,0M244.6,180.6a1.65,1.65 0 1,0 3.3,0a1.65,1.65 0 1,0 -3.3,0M245.1,178.6a1.65,1.65 0 1,0 3.3,0a1.65,1.65 0 1,0 -3.3,0M245.5,178.9a1.65,1.65 0 1,0 3.3,0a1.65,1.65 0 1,0 -3.3,0M246.0,176.6a1.65,1.65 0 1,0 3.3,0a1.65,1.65 0 1,0 -3.3,0M246.4,179.0a1.65,1.65 0 1,0 3.3,0a1.65,1.65 0 1,0 -3.3,0M246.9,177.0a1.65,1.65 0 1,0 3.3,0a1.65,1.65 0 1,0 -3.3,0M247.3,176.9a1.65,1.65 0 1,0 3.3,0a1.65,1.65 0 1,0 -3.3,0M247.8,176.6a1.65,1.65 0 1,0 3.3,0a1.65,1.65 0 1,0 -3.3,0M248.2,175.4a1.65,1.65 0 1,0 3.3,0a1.65,1.65 0 1,0 -3.3,0M248.7,177.4a1.65,1.65 0 1,0 3.3,0a1.65,1.65 0 1,0 -3.3,0M249.1,176.8a1.65,1.65 0 1,0 3.3,0a1.65,1.65 0 1,0 -3.3,0M249.6,177.1a1.65,1.65 0 1,0 3.3,0a1.65,1.65 0 1,0 -3.3,0M250.0,179.2a1.65,1.65 0 1,0 3.3,0a1.65,1.65 0 1,0 -3.3,0M250.5,177.9a1.65,1.65 0 1,0 3.3,0a1.65,1.65 0 1,0 -3.3,0M250.9,179.3a1.65,1.65 0 1,0 3.3,0a1.65,1.65 0 1,0 -3.3,0M251.4,181.5a1.65,1.65 0 1,0 3.3,0a1.65,1.65 0 1,0 -3.3,0M251.8,180.7a1.65,1.65 0 1,0 3.3,0a1.65,1.65 0 1,0 -3.3,0M252.3,182.4a1.65,1.65 0 1,0 3.3,0a1.65,1.65 0 1,0 -3.3,0M252.7,184.8a1.65,1.65 0 1,0 3.3,0a1.65,1.65 0 1,0 -3.3,0M253.2,186.2a1.65,1.65 0 1,0 3.3,0a1.65,1.65 0 1,0 -3.3,0M253.6,187.8a1.65,1.65 0 1,0 3.3,0a1.65,1.65 0 1,0 -3.3,0M254.1,190.1a1.65,1.65 0 1,0 3.3,0a1.65,1.65 0 1,0 -3.3,0M254.5,193.1a1.65,1.65 0 1,0 3.3,0a1.65,1.65 0 1,0 -3.3,0M255.0,196.1a1.65,1.65 0 1,0 3.3,0a1.65,1.65 0 1,0 -3.3,0M255.4,199.1a1.65,1.65 0 1,0 3.3,0a1.65,1.65 0 1,0 -3.3,0M255.9,202.1a1.65,1.65 0 1,0 3.3,0a1.65,1.65 0 1,0 -3.3,0M256.3,205.7a1.65,1.65 0 1,0 3.3,0a1.65,1.65 0 1,0 -3.3,0M256.8,211.2a1.65,1.65 0 1,0 3.3,0a1.65,1.65 0 1,0 -3.3,0M257.2,216.8a1.65,1.65 0 1,0 3.3,0a1.65,1.65 0 1,0 -3.3,0M257.7,222.3a1.65,1.65 0 1,0 3.3,0a1.65,1.65 0 1,0 -3.3,0M258.1,227.9a1.65,1.65 0 1,0 3.3,0a1.65,1.65 0 1,0 -3.3,0M258.6,233.3a1.65,1.65 0 1,0 3.3,0a1.65,1.65 0 1,0 -3.3,0M259.0,238.6a1.65,1.65 0 1,0 3.3,0a1.65,1.65 0 1,0 -3.3,0M259.5,244.0a1.65,1.65 0 1,0 3.3,0a1.65,1.65 0 1,0 -3.3,0M259.9,249.3a1.65,1.65 0 1,0 3.3,0a1.65,1.65 0 1,0 -3.3,0M260.4,254.5a1.65,1.65 0 1,0 3.3,0a1.65,1.65 0 1,0 -3.3,0M260.8,259.8a1.65,1.65 0 1,0 3.3,0a1.65,1.65 0 1,0 -3.3,0M261.3,264.5a1.65,1.65 0 1,0 3.3,0a1.65,1.65 0 1,0 -3.3,0M261.7,269.2a1.65,1.65 0 1,0 3.3,0a1.65,1.65 0 1,0 -3.3,0M262.2,273.9a1.65,1.65 0 1,0 3.3,0a1.65,1.65 0 1,0 -3.3,0M262.6,278.5a1.65,1.65 0 1,0 3.3,0a1.65,1.65 0 1,0 -3.3,0M263.1,282.7a1.65,1.65 0 1,0 3.3,0a1.65,1.65 0 1,0 -3.3,0M263.5,286.7a1.65,1.65 0 1,0 3.3,0a1.65,1.65 0 1,0 -3.3,0M264.0,290.6a1.65,1.65 0 1,0 3.3,0a1.65,1.65 0 1,0 -3.3,0M264.4,294.3a1.65,1.65 0 1,0 3.3,0a1.65,1.65 0 1,0 -3.3,0M264.9,298.0a1.65,1.65 0 1,0 3.3,0a1.65,1.65 0 1,0 -3.3,0M265.3,301.4a1.65,1.65 0 1,0 3.3,0a1.65,1.65 0 1,0 -3.3,0M265.8,304.7a1.65,1.65 0 1,0 3.3,0a1.65,1.65 0 1,0 -3.3,0M266.2,307.7a1.65,1.65 0 1,0 3.3,0a1.65,1.65 0 1,0 -3.3,0M266.7,310.6a1.65,1.65 0 1,0 3.3,0a1.65,1.65 0 1,0 -3.3,0M267.1,312.8a1.65,1.65 0 1,0 3.3,0a1.65,1.65 0 1,0 -3.3,0M267.6,314.8a1.65,1.65 0 1,0 3.3,0a1.65,1.65 0 1,0 -3.3,0M268.0,316.6a1.65,1.65 0 1,0 3.3,0a1.65,1.65 0 1,0 -3.3,0" fill="#f26a12"/></g><rect x="63.5" y="155.5" width="206.0" height="169.0" fill="none" stroke="#707070" stroke-width="1"/><text x="59.8" y="172.8" font-size="14.5" font-family="Liberation Serif" fill="#1a1a1a" text-anchor="end" textLength="28.2" lengthAdjust="spacingAndGlyphs" >1000</text><text x="59.8" y="220.5" font-size="14.5" font-family="Liberation Serif" fill="#1a1a1a" text-anchor="end" textLength="20.7" lengthAdjust="spacingAndGlyphs" >100</text><text x="59.8" y="268.8" font-size="14.5" font-family="Liberation Serif" fill="#1a1a1a" text-anchor="end" textLength="14.4" lengthAdjust="spacingAndGlyphs" >10</text><text x="59.8" y="316.8" font-size="14.5" font-family="Liberation Serif" fill="#1a1a1a" text-anchor="end" textLength="5.8" lengthAdjust="spacingAndGlyphs" >1</text><text x="86.6" y="340" font-size="14.5" font-family="Liberation Serif" fill="#1a1a1a" text-anchor="middle" textLength="29.2" lengthAdjust="spacingAndGlyphs" >2350</text><text x="132.2" y="340" font-size="14.5" font-family="Liberation Serif" fill="#1a1a1a" text-anchor="middle" textLength="29.2" lengthAdjust="spacingAndGlyphs" >2360</text><text x="177.8" y="340" font-size="14.5" font-family="Liberation Serif" fill="#1a1a1a" text-anchor="middle" textLength="29.2" lengthAdjust="spacingAndGlyphs" >2370</text><text x="223.4" y="340" font-size="14.5" font-family="Liberation Serif" fill="#1a1a1a" text-anchor="middle" textLength="29.2" lengthAdjust="spacingAndGlyphs" >2380</text><text x="269.0" y="340" font-size="14.5" font-family="Liberation Serif" fill="#1a1a1a" text-anchor="middle" textLength="29.2" lengthAdjust="spacingAndGlyphs" >2390</text><text x="166" y="358" font-size="14.5" font-family="Liberation Serif" fill="#1a1a1a" text-anchor="middle" textLength="108" lengthAdjust="spacingAndGlyphs" >wavelength (nm)</text><text x="0" y="0" font-size="15" font-family="Liberation Serif" fill="#1a1a1a" text-anchor="middle" textLength="150.5" lengthAdjust="spacingAndGlyphs" transform="translate(20,237.3) rotate(-90)">Responsivity (mA/W)</text><text x="15.5" y="160" font-size="9.6" font-family="Liberation Serif" fill="#1a1a1a" text-anchor="start" textLength="11.9" lengthAdjust="spacingAndGlyphs" font-weight="bold">(c)</text><rect x="318.5" y="155.5" width="215.0" height="178.0" fill="#fff"/><path d="M326.1,155.5 v1.6 M326.1,333.5 v-1.6 M333.5,155.5 v1.6 M333.5,333.5 v-1.6 M340.8,155.5 v1.6 M340.8,333.5 v-1.6 M348.2,155.5 v2.6 M348.2,333.5 v-2.6 M355.6,155.5 v1.6 M355.6,333.5 v-1.6 M362.9,155.5 v1.6 M362.9,333.5 v-1.6 M370.3,155.5 v1.6 M370.3,333.5 v-1.6 M377.6,155.5 v1.6 M377.6,333.5 v-1.6 M385.0,155.5 v2.6 M385.0,333.5 v-2.6 M392.4,155.5 v1.6 M392.4,333.5 v-1.6 M399.7,155.5 v1.6 M399.7,333.5 v-1.6 M407.1,155.5 v1.6 M407.1,333.5 v-1.6 M414.4,155.5 v1.6 M414.4,333.5 v-1.6 M421.8,155.5 v2.6 M421.8,333.5 v-2.6 M429.2,155.5 v1.6 M429.2,333.5 v-1.6 M436.5,155.5 v1.6 M436.5,333.5 v-1.6 M443.9,155.5 v1.6 M443.9,333.5 v-1.6 M451.2,155.5 v1.6 M451.2,333.5 v-1.6 M458.6,155.5 v2.6 M458.6,333.5 v-2.6 M466.0,155.5 v1.6 M466.0,333.5 v-1.6 M473.3,155.5 v1.6 M473.3,333.5 v-1.6 M480.7,155.5 v1.6 M480.7,333.5 v-1.6 M488.0,155.5 v1.6 M488.0,333.5 v-1.6 M495.4,155.5 v2.6 M495.4,333.5 v-2.6 M502.8,155.5 v1.6 M502.8,333.5 v-1.6 M510.1,155.5 v1.6 M510.1,333.5 v-1.6 M517.5,155.5 v1.6 M517.5,333.5 v-1.6 M524.8,155.5 v1.6 M524.8,333.5 v-1.6 M532.2,155.5 v2.6 M532.2,333.5 v-2.6 M318.5,328.2 h1.6 M533.5,328.2 h-1.6 M318.5,322.1 h1.6 M533.5,322.1 h-1.6 M318.5,315.9 h1.6 M533.5,315.9 h-1.6 M318.5,309.8 h1.6 M533.5,309.8 h-1.6 M318.5,303.6 h2.6 M533.5,303.6 h-2.6 M318.5,297.5 h1.6 M533.5,297.5 h-1.6 M318.5,291.3 h1.6 M533.5,291.3 h-1.6 M318.5,285.2 h1.6 M533.5,285.2 h-1.6 M318.5,279.0 h1.6 M533.5,279.0 h-1.6 M318.5,272.9 h2.6 M533.5,272.9 h-2.6 M318.5,266.7 h1.6 M533.5,266.7 h-1.6 M318.5,260.6 h1.6 M533.5,260.6 h-1.6 M318.5,254.4 h1.6 M533.5,254.4 h-1.6 M318.5,248.3 h1.6 M533.5,248.3 h-1.6 M318.5,242.1 h2.6 M533.5,242.1 h-2.6 M318.5,236.0 h1.6 M533.5,236.0 h-1.6 M318.5,229.8 h1.6 M533.5,229.8 h-1.6 M318.5,223.7 h1.6 M533.5,223.7 h-1.6 M318.5,217.5 h1.6 M533.5,217.5 h-1.6 M318.5,211.4 h2.6 M533.5,211.4 h-2.6 M318.5,205.2 h1.6 M533.5,205.2 h-1.6 M318.5,199.1 h1.6 M533.5,199.1 h-1.6 M318.5,192.9 h1.6 M533.5,192.9 h-1.6 M318.5,186.8 h1.6 M533.5,186.8 h-1.6 M318.5,180.6 h2.6 M533.5,180.6 h-2.6 M318.5,174.5 h1.6 M533.5,174.5 h-1.6 M318.5,168.3 h1.6 M533.5,168.3 h-1.6 M318.5,162.2 h1.6 M533.5,162.2 h-1.6 M318.5,156.0 h1.6 M533.5,156.0 h-1.6" stroke="#b0b0b0" stroke-width="0.6" fill="none"/><defs><clipPath id="cd"><rect x="318.5" y="155.5" width="215.0" height="178.0"/></clipPath></defs><g clip-path="url(#cd)"><path d="M319.6,272.0 L325.4,230.6 L329.4,201.0 L330.0,198.0 L334.0,182.0 L335.6,179.0 L340.4,184.0 L344.6,207.0 L350.0,277.0 L353.5,296.0 L358.5,336.8 L363.8,289.9 L369.1,302.6 L374.0,299.8 L378.7,309.5 L383.0,323.2 L387.1,310.5 L391.4,311.2 L396.4,274.5 L400.7,303.2 L405.5,312.8 L409.7,276.8 L414.0,305.1 L418.3,276.9 L422.7,308.6 L428.0,326.1 L432.3,310.6 L437.7,318.9 L442.9,336.8 L447.3,310.9 L451.5,298.9 L455.6,311.5 L459.6,287.2 L464.6,311.8 L469.7,295.1 L474.4,312.0 L479.4,290.6 L483.5,302.4 L488.5,305.9 L493.7,280.7 L498.2,302.6 L503.0,301.1 L507.3,305.2 L512.6,297.6 L517.9,283.0 L523.2,312.8 L528.0,294.5 L533.0,287.2" stroke="#f7ae0a" stroke-width="1.1" fill="none" stroke-linejoin="round"/><path d="M317.9,272.0a1.7,1.7 0 1,0 3.4,0a1.7,1.7 0 1,0 -3.4,0M323.7,230.6a1.7,1.7 0 1,0 3.4,0a1.7,1.7 0 1,0 -3.4,0M327.7,201.0a1.7,1.7 0 1,0 3.4,0a1.7,1.7 0 1,0 -3.4,0M328.3,198.0a1.7,1.7 0 1,0 3.4,0a1.7,1.7 0 1,0 -3.4,0M332.3,182.0a1.7,1.7 0 1,0 3.4,0a1.7,1.7 0 1,0 -3.4,0M333.9,179.0a1.7,1.7 0 1,0 3.4,0a1.7,1.7 0 1,0 -3.4,0M338.7,184.0a1.7,1.7 0 1,0 3.4,0a1.7,1.7 0 1,0 -3.4,0M342.9,207.0a1.7,1.7 0 1,0 3.4,0a1.7,1.7 0 1,0 -3.4,0M348.3,277.0a1.7,1.7 0 1,0 3.4,0a1.7,1.7 0 1,0 -3.4,0M351.8,296.0a1.7,1.7 0 1,0 3.4,0a1.7,1.7 0 1,0 -3.4,0M356.8,336.8a1.7,1.7 0 1,0 3.4,0a1.7,1.7 0 1,0 -3.4,0M362.1,289.9a1.7,1.7 0 1,0 3.4,0a1.7,1.7 0 1,0 -3.4,0M367.4,302.6a1.7,1.7 0 1,0 3.4,0a1.7,1.7 0 1,0 -3.4,0M372.3,299.8a1.7,1.7 0 1,0 3.4,0a1.7,1.7 0 1,0 -3.4,0M377.0,309.5a1.7,1.7 0 1,0 3.4,0a1.7,1.7 0 1,0 -3.4,0M381.3,323.2a1.7,1.7 0 1,0 3.4,0a1.7,1.7 0 1,0 -3.4,0M385.4,310.5a1.7,1.7 0 1,0 3.4,0a1.7,1.7 0 1,0 -3.4,0M389.7,311.2a1.7,1.7 0 1,0 3.4,0a1.7,1.7 0 1,0 -3.4,0M394.7,274.5a1.7,1.7 0 1,0 3.4,0a1.7,1.7 0 1,0 -3.4,0M399.0,303.2a1.7,1.7 0 1,0 3.4,0a1.7,1.7 0 1,0 -3.4,0M403.8,312.8a1.7,1.7 0 1,0 3.4,0a1.7,1.7 0 1,0 -3.4,0M408.0,276.8a1.7,1.7 0 1,0 3.4,0a1.7,1.7 0 1,0 -3.4,0M412.3,305.1a1.7,1.7 0 1,0 3.4,0a1.7,1.7 0 1,0 -3.4,0M416.6,276.9a1.7,1.7 0 1,0 3.4,0a1.7,1.7 0 1,0 -3.4,0M421.0,308.6a1.7,1.7 0 1,0 3.4,0a1.7,1.7 0 1,0 -3.4,0M426.3,326.1a1.7,1.7 0 1,0 3.4,0a1.7,1.7 0 1,0 -3.4,0M430.6,310.6a1.7,1.7 0 1,0 3.4,0a1.7,1.7 0 1,0 -3.4,0M436.0,318.9a1.7,1.7 0 1,0 3.4,0a1.7,1.7 0 1,0 -3.4,0M441.2,336.8a1.7,1.7 0 1,0 3.4,0a1.7,1.7 0 1,0 -3.4,0M445.6,310.9a1.7,1.7 0 1,0 3.4,0a1.7,1.7 0 1,0 -3.4,0M449.8,298.9a1.7,1.7 0 1,0 3.4,0a1.7,1.7 0 1,0 -3.4,0M453.9,311.5a1.7,1.7 0 1,0 3.4,0a1.7,1.7 0 1,0 -3.4,0M457.9,287.2a1.7,1.7 0 1,0 3.4,0a1.7,1.7 0 1,0 -3.4,0M462.9,311.8a1.7,1.7 0 1,0 3.4,0a1.7,1.7 0 1,0 -3.4,0M468.0,295.1a1.7,1.7 0 1,0 3.4,0a1.7,1.7 0 1,0 -3.4,0M472.7,312.0a1.7,1.7 0 1,0 3.4,0a1.7,1.7 0 1,0 -3.4,0M477.7,290.6a1.7,1.7 0 1,0 3.4,0a1.7,1.7 0 1,0 -3.4,0M481.8,302.4a1.7,1.7 0 1,0 3.4,0a1.7,1.7 0 1,0 -3.4,0M486.8,305.9a1.7,1.7 0 1,0 3.4,0a1.7,1.7 0 1,0 -3.4,0M492.0,280.7a1.7,1.7 0 1,0 3.4,0a1.7,1.7 0 1,0 -3.4,0M496.5,302.6a1.7,1.7 0 1,0 3.4,0a1.7,1.7 0 1,0 -3.4,0M501.3,301.1a1.7,1.7 0 1,0 3.4,0a1.7,1.7 0 1,0 -3.4,0M505.6,305.2a1.7,1.7 0 1,0 3.4,0a1.7,1.7 0 1,0 -3.4,0M510.9,297.6a1.7,1.7 0 1,0 3.4,0a1.7,1.7 0 1,0 -3.4,0M516.2,283.0a1.7,1.7 0 1,0 3.4,0a1.7,1.7 0 1,0 -3.4,0M521.5,312.8a1.7,1.7 0 1,0 3.4,0a1.7,1.7 0 1,0 -3.4,0M526.3,294.5a1.7,1.7 0 1,0 3.4,0a1.7,1.7 0 1,0 -3.4,0M531.3,287.2a1.7,1.7 0 1,0 3.4,0a1.7,1.7 0 1,0 -3.4,0" fill="#f7ae0a"/><path d="M319.1,290.7 L323.1,299.6 L327.6,307.5 L332.5,294.2 L337.8,311.8 L342.5,310.2 L346.8,294.0 L350.9,292.6 L353.0,285.0 L357.4,262.6 L362.0,223.0 L363.0,214.4 L367.0,189.0 L372.4,173.0 L378.4,194.0 L384.0,238.0 L388.0,285.0 L390.3,288.0 L394.4,288.0 L399.0,306.9 L403.3,327.4 L407.9,320.2 L412.5,275.9 L416.6,294.6 L421.3,301.5 L426.3,311.8 L431.6,322.5 L435.8,323.6 L440.4,289.3 L444.8,283.4 L449.4,277.8 L454.8,305.6 L459.4,328.3 L464.1,303.7 L468.5,312.0 L473.0,300.9 L478.4,286.2 L483.1,310.4 L487.6,295.9 L492.7,299.5 L497.9,321.4 L503.0,286.4 L507.9,317.7 L512.5,325.9 L517.4,308.6 L522.5,289.4 L527.5,314.7 L532.4,274.1 L537.2,287.7" stroke="#5cb01e" stroke-width="1.1" fill="none" stroke-linejoin="round"/><path d="M317.4,290.7a1.7,1.7 0 1,0 3.4,0a1.7,1.7 0 1,0 -3.4,0M321.4,299.6a1.7,1.7 0 1,0 3.4,0a1.7,1.7 0 1,0 -3.4,0M325.9,307.5a1.7,1.7 0 1,0 3.4,0a1.7,1.7 0 1,0 -3.4,0M330.8,294.2a1.7,1.7 0 1,0 3.4,0a1.7,1.7 0 1,0 -3.4,0M336.1,311.8a1.7,1.7 0 1,0 3.4,0a1.7,1.7 0 1,0 -3.4,0M340.8,310.2a1.7,1.7 0 1,0 3.4,0a1.7,1.7 0 1,0 -3.4,0M345.1,294.0a1.7,1.7 0 1,0 3.4,0a1.7,1.7 0 1,0 -3.4,0M349.2,292.6a1.7,1.7 0 1,0 3.4,0a1.7,1.7 0 1,0 -3.4,0M351.3,285.0a1.7,1.7 0 1,0 3.4,0a1.7,1.7 0 1,0 -3.4,0M355.7,262.6a1.7,1.7 0 1,0 3.4,0a1.7,1.7 0 1,0 -3.4,0M360.3,223.0a1.7,1.7 0 1,0 3.4,0a1.7,1.7 0 1,0 -3.4,0M361.3,214.4a1.7,1.7 0 1,0 3.4,0a1.7,1.7 0 1,0 -3.4,0M365.3,189.0a1.7,1.7 0 1,0 3.4,0a1.7,1.7 0 1,0 -3.4,0M370.7,173.0a1.7,1.7 0 1,0 3.4,0a1.7,1.7 0 1,0 -3.4,0M376.7,194.0a1.7,1.7 0 1,0 3.4,0a1.7,1.7 0 1,0 -3.4,0M382.3,238.0a1.7,1.7 0 1,0 3.4,0a1.7,1.7 0 1,0 -3.4,0M386.3,285.0a1.7,1.7 0 1,0 3.4,0a1.7,1.7 0 1,0 -3.4,0M388.6,288.0a1.7,1.7 0 1,0 3.4,0a1.7,1.7 0 1,0 -3.4,0M392.7,288.0a1.7,1.7 0 1,0 3.4,0a1.7,1.7 0 1,0 -3.4,0M397.3,306.9a1.7,1.7 0 1,0 3.4,0a1.7,1.7 0 1,0 -3.4,0M401.6,327.4a1.7,1.7 0 1,0 3.4,0a1.7,1.7 0 1,0 -3.4,0M406.2,320.2a1.7,1.7 0 1,0 3.4,0a1.7,1.7 0 1,0 -3.4,0M410.8,275.9a1.7,1.7 0 1,0 3.4,0a1.7,1.7 0 1,0 -3.4,0M414.9,294.6a1.7,1.7 0 1,0 3.4,0a1.7,1.7 0 1,0 -3.4,0M419.6,301.5a1.7,1.7 0 1,0 3.4,0a1.7,1.7 0 1,0 -3.4,0M424.6,311.8a1.7,1.7 0 1,0 3.4,0a1.7,1.7 0 1,0 -3.4,0M429.9,322.5a1.7,1.7 0 1,0 3.4,0a1.7,1.7 0 1,0 -3.4,0M434.1,323.6a1.7,1.7 0 1,0 3.4,0a1.7,1.7 0 1,0 -3.4,0M438.7,289.3a1.7,1.7 0 1,0 3.4,0a1.7,1.7 0 1,0 -3.4,0M443.1,283.4a1.7,1.7 0 1,0 3.4,0a1.7,1.7 0 1,0 -3.4,0M447.7,277.8a1.7,1.7 0 1,0 3.4,0a1.7,1.7 0 1,0 -3.4,0M453.1,305.6a1.7,1.7 0 1,0 3.4,0a1.7,1.7 0 1,0 -3.4,0M457.7,328.3a1.7,1.7 0 1,0 3.4,0a1.7,1.7 0 1,0 -3.4,0M462.4,303.7a1.7,1.7 0 1,0 3.4,0a1.7,1.7 0 1,0 -3.4,0M466.8,312.0a1.7,1.7 0 1,0 3.4,0a1.7,1.7 0 1,0 -3.4,0M471.3,300.9a1.7,1.7 0 1,0 3.4,0a1.7,1.7 0 1,0 -3.4,0M476.7,286.2a1.7,1.7 0 1,0 3.4,0a1.7,1.7 0 1,0 -3.4,0M481.4,310.4a1.7,1.7 0 1,0 3.4,0a1.7,1.7 0 1,0 -3.4,0M485.9,295.9a1.7,1.7 0 1,0 3.4,0a1.7,1.7 0 1,0 -3.4,0M491.0,299.5a1.7,1.7 0 1,0 3.4,0a1.7,1.7 0 1,0 -3.4,0M496.2,321.4a1.7,1.7 0 1,0 3.4,0a1.7,1.7 0 1,0 -3.4,0M501.3,286.4a1.7,1.7 0 1,0 3.4,0a1.7,1.7 0 1,0 -3.4,0M506.2,317.7a1.7,1.7 0 1,0 3.4,0a1.7,1.7 0 1,0 -3.4,0M510.8,325.9a1.7,1.7 0 1,0 3.4,0a1.7,1.7 0 1,0 -3.4,0M515.7,308.6a1.7,1.7 0 1,0 3.4,0a1.7,1.7 0 1,0 -3.4,0M520.8,289.4a1.7,1.7 0 1,0 3.4,0a1.7,1.7 0 1,0 -3.4,0M525.8,314.7a1.7,1.7 0 1,0 3.4,0a1.7,1.7 0 1,0 -3.4,0M530.7,274.1a1.7,1.7 0 1,0 3.4,0a1.7,1.7 0 1,0 -3.4,0M535.5,287.7a1.7,1.7 0 1,0 3.4,0a1.7,1.7 0 1,0 -3.4,0" fill="#5cb01e"/><path d="M318.5,304.2 L323.2,297.1 L328.3,324.1 L332.8,319.7 L337.9,323.6 L342.4,289.7 L347.4,329.3 L352.7,289.0 L357.5,310.1 L361.7,288.2 L366.4,333.9 L371.4,309.8 L375.6,327.9 L380.7,323.7 L385.3,315.6 L388.4,282.0 L394.0,244.6 L395.0,238.6 L400.4,193.0 L403.6,174.4 L406.5,172.0 L410.4,170.6 L415.0,186.4 L416.4,198.0 L420.4,243.0 L424.0,285.0 L427.5,320.2 L431.6,322.6 L435.8,324.6 L440.1,298.0 L445.1,308.3 L449.7,308.5 L454.1,298.3 L458.5,302.9 L462.8,304.1 L467.4,301.9 L471.9,319.9 L476.3,317.7 L481.5,291.0 L485.9,305.4 L490.5,285.4 L495.0,287.8 L499.1,310.2 L503.8,309.6 L508.3,336.6 L513.5,322.8 L518.0,297.6 L522.6,324.2 L526.8,320.5 L532.1,315.8 L537.5,315.7" stroke="#ee2a8e" stroke-width="1.1" fill="none" stroke-linejoin="round"/><path d="M316.8,304.2a1.7,1.7 0 1,0 3.4,0a1.7,1.7 0 1,0 -3.4,0M321.5,297.1a1.7,1.7 0 1,0 3.4,0a1.7,1.7 0 1,0 -3.4,0M326.6,324.1a1.7,1.7 0 1,0 3.4,0a1.7,1.7 0 1,0 -3.4,0M331.1,319.7a1.7,1.7 0 1,0 3.4,0a1.7,1.7 0 1,0 -3.4,0M336.2,323.6a1.7,1.7 0 1,0 3.4,0a1.7,1.7 0 1,0 -3.4,0M340.7,289.7a1.7,1.7 0 1,0 3.4,0a1.7,1.7 0 1,0 -3.4,0M345.7,329.3a1.7,1.7 0 1,0 3.4,0a1.7,1.7 0 1,0 -3.4,0M351.0,289.0a1.7,1.7 0 1,0 3.4,0a1.7,1.7 0 1,0 -3.4,0M355.8,310.1a1.7,1.7 0 1,0 3.4,0a1.7,1.7 0 1,0 -3.4,0M360.0,288.2a1.7,1.7 0 1,0 3.4,0a1.7,1.7 0 1,0 -3.4,0M364.7,333.9a1.7,1.7 0 1,0 3.4,0a1.7,1.7 0 1,0 -3.4,0M369.7,309.8a1.7,1.7 0 1,0 3.4,0a1.7,1.7 0 1,0 -3.4,0M373.9,327.9a1.7,1.7 0 1,0 3.4,0a1.7,1.7 0 1,0 -3.4,0M379.0,323.7a1.7,1.7 0 1,0 3.4,0a1.7,1.7 0 1,0 -3.4,0M383.6,315.6a1.7,1.7 0 1,0 3.4,0a1.7,1.7 0 1,0 -3.4,0M386.7,282.0a1.7,1.7 0 1,0 3.4,0a1.7,1.7 0 1,0 -3.4,0M392.3,244.6a1.7,1.7 0 1,0 3.4,0a1.7,1.7 0 1,0 -3.4,0M393.3,238.6a1.7,1.7 0 1,0 3.4,0a1.7,1.7 0 1,0 -3.4,0M398.7,193.0a1.7,1.7 0 1,0 3.4,0a1.7,1.7 0 1,0 -3.4,0M401.9,174.4a1.7,1.7 0 1,0 3.4,0a1.7,1.7 0 1,0 -3.4,0M404.8,172.0a1.7,1.7 0 1,0 3.4,0a1.7,1.7 0 1,0 -3.4,0M408.7,170.6a1.7,1.7 0 1,0 3.4,0a1.7,1.7 0 1,0 -3.4,0M413.3,186.4a1.7,1.7 0 1,0 3.4,0a1.7,1.7 0 1,0 -3.4,0M414.7,198.0a1.7,1.7 0 1,0 3.4,0a1.7,1.7 0 1,0 -3.4,0M418.7,243.0a1.7,1.7 0 1,0 3.4,0a1.7,1.7 0 1,0 -3.4,0M422.3,285.0a1.7,1.7 0 1,0 3.4,0a1.7,1.7 0 1,0 -3.4,0M425.8,320.2a1.7,1.7 0 1,0 3.4,0a1.7,1.7 0 1,0 -3.4,0M429.9,322.6a1.7,1.7 0 1,0 3.4,0a1.7,1.7 0 1,0 -3.4,0M434.1,324.6a1.7,1.7 0 1,0 3.4,0a1.7,1.7 0 1,0 -3.4,0M438.4,298.0a1.7,1.7 0 1,0 3.4,0a1.7,1.7 0 1,0 -3.4,0M443.4,308.3a1.7,1.7 0 1,0 3.4,0a1.7,1.7 0 1,0 -3.4,0M448.0,308.5a1.7,1.7 0 1,0 3.4,0a1.7,1.7 0 1,0 -3.4,0M452.4,298.3a1.7,1.7 0 1,0 3.4,0a1.7,1.7 0 1,0 -3.4,0M456.8,302.9a1.7,1.7 0 1,0 3.4,0a1.7,1.7 0 1,0 -3.4,0M461.1,304.1a1.7,1.7 0 1,0 3.4,0a1.7,1.7 0 1,0 -3.4,0M465.7,301.9a1.7,1.7 0 1,0 3.4,0a1.7,1.7 0 1,0 -3.4,0M470.2,319.9a1.7,1.7 0 1,0 3.4,0a1.7,1.7 0 1,0 -3.4,0M474.6,317.7a1.7,1.7 0 1,0 3.4,0a1.7,1.7 0 1,0 -3.4,0M479.8,291.0a1.7,1.7 0 1,0 3.4,0a1.7,1.7 0 1,0 -3.4,0M484.2,305.4a1.7,1.7 0 1,0 3.4,0a1.7,1.7 0 1,0 -3.4,0M488.8,285.4a1.7,1.7 0 1,0 3.4,0a1.7,1.7 0 1,0 -3.4,0M493.3,287.8a1.7,1.7 0 1,0 3.4,0a1.7,1.7 0 1,0 -3.4,0M497.4,310.2a1.7,1.7 0 1,0 3.4,0a1.7,1.7 0 1,0 -3.4,0M502.1,309.6a1.7,1.7 0 1,0 3.4,0a1.7,1.7 0 1,0 -3.4,0M506.6,336.6a1.7,1.7 0 1,0 3.4,0a1.7,1.7 0 1,0 -3.4,0M511.8,322.8a1.7,1.7 0 1,0 3.4,0a1.7,1.7 0 1,0 -3.4,0M516.3,297.6a1.7,1.7 0 1,0 3.4,0a1.7,1.7 0 1,0 -3.4,0M520.9,324.2a1.7,1.7 0 1,0 3.4,0a1.7,1.7 0 1,0 -3.4,0M525.1,320.5a1.7,1.7 0 1,0 3.4,0a1.7,1.7 0 1,0 -3.4,0M530.4,315.8a1.7,1.7 0 1,0 3.4,0a1.7,1.7 0 1,0 -3.4,0M535.8,315.7a1.7,1.7 0 1,0 3.4,0a1.7,1.7 0 1,0 -3.4,0" fill="#ee2a8e"/><path d="M316.5,313.7 L320.7,323.3 L324.9,313.3 L329.7,294.8 L334.3,314.1 L338.7,315.2 L343.2,274.1 L348.5,289.1 L352.9,315.3 L358.3,320.1 L362.7,305.1 L368.1,317.0 L372.8,304.8 L376.9,316.5 L381.3,316.0 L386.4,304.4 L391.2,307.5 L395.6,282.8 L399.9,315.2 L404.3,281.6 L408.7,274.1 L413.5,325.5 L418.4,302.2 L423.4,287.8 L425.5,285.0 L427.1,265.3 L432.4,221.7 L437.4,189.4 L443.4,173.6 L447.6,176.6 L450.6,199.0 L453.7,221.7 L454.4,226.0 L459.0,282.0 L462.1,289.3 L466.5,310.5 L471.2,288.8 L475.7,306.0 L479.7,324.3 L484.1,335.8 L489.3,296.8 L494.1,281.0 L498.7,303.2 L503.5,310.6 L508.2,324.8 L513.5,316.1 L518.7,296.1 L522.9,313.1 L527.0,279.9 L532.2,310.6 L536.6,319.6" stroke="#7b70bd" stroke-width="1.1" fill="none" stroke-linejoin="round"/><path d="M314.8,313.7a1.7,1.7 0 1,0 3.4,0a1.7,1.7 0 1,0 -3.4,0M319.0,323.3a1.7,1.7 0 1,0 3.4,0a1.7,1.7 0 1,0 -3.4,0M323.2,313.3a1.7,1.7 0 1,0 3.4,0a1.7,1.7 0 1,0 -3.4,0M328.0,294.8a1.7,1.7 0 1,0 3.4,0a1.7,1.7 0 1,0 -3.4,0M332.6,314.1a1.7,1.7 0 1,0 3.4,0a1.7,1.7 0 1,0 -3.4,0M337.0,315.2a1.7,1.7 0 1,0 3.4,0a1.7,1.7 0 1,0 -3.4,0M341.5,274.1a1.7,1.7 0 1,0 3.4,0a1.7,1.7 0 1,0 -3.4,0M346.8,289.1a1.7,1.7 0 1,0 3.4,0a1.7,1.7 0 1,0 -3.4,0M351.2,315.3a1.7,1.7 0 1,0 3.4,0a1.7,1.7 0 1,0 -3.4,0M356.6,320.1a1.7,1.7 0 1,0 3.4,0a1.7,1.7 0 1,0 -3.4,0M361.0,305.1a1.7,1.7 0 1,0 3.4,0a1.7,1.7 0 1,0 -3.4,0M366.4,317.0a1.7,1.7 0 1,0 3.4,0a1.7,1.7 0 1,0 -3.4,0M371.1,304.8a1.7,1.7 0 1,0 3.4,0a1.7,1.7 0 1,0 -3.4,0M375.2,316.5a1.7,1.7 0 1,0 3.4,0a1.7,1.7 0 1,0 -3.4,0M379.6,316.0a1.7,1.7 0 1,0 3.4,0a1.7,1.7 0 1,0 -3.4,0M384.7,304.4a1.7,1.7 0 1,0 3.4,0a1.7,1.7 0 1,0 -3.4,0M389.5,307.5a1.7,1.7 0 1,0 3.4,0a1.7,1.7 0 1,0 -3.4,0M393.9,282.8a1.7,1.7 0 1,0 3.4,0a1.7,1.7 0 1,0 -3.4,0M398.2,315.2a1.7,1.7 0 1,0 3.4,0a1.7,1.7 0 1,0 -3.4,0M402.6,281.6a1.7,1.7 0 1,0 3.4,0a1.7,1.7 0 1,0 -3.4,0M407.0,274.1a1.7,1.7 0 1,0 3.4,0a1.7,1.7 0 1,0 -3.4,0M411.8,325.5a1.7,1.7 0 1,0 3.4,0a1.7,1.7 0 1,0 -3.4,0M416.7,302.2a1.7,1.7 0 1,0 3.4,0a1.7,1.7 0 1,0 -3.4,0M421.7,287.8a1.7,1.7 0 1,0 3.4,0a1.7,1.7 0 1,0 -3.4,0M423.8,285.0a1.7,1.7 0 1,0 3.4,0a1.7,1.7 0 1,0 -3.4,0M425.4,265.3a1.7,1.7 0 1,0 3.4,0a1.7,1.7 0 1,0 -3.4,0M430.7,221.7a1.7,1.7 0 1,0 3.4,0a1.7,1.7 0 1,0 -3.4,0M435.7,189.4a1.7,1.7 0 1,0 3.4,0a1.7,1.7 0 1,0 -3.4,0M441.7,173.6a1.7,1.7 0 1,0 3.4,0a1.7,1.7 0 1,0 -3.4,0M445.9,176.6a1.7,1.7 0 1,0 3.4,0a1.7,1.7 0 1,0 -3.4,0M448.9,199.0a1.7,1.7 0 1,0 3.4,0a1.7,1.7 0 1,0 -3.4,0M452.0,221.7a1.7,1.7 0 1,0 3.4,0a1.7,1.7 0 1,0 -3.4,0M452.7,226.0a1.7,1.7 0 1,0 3.4,0a1.7,1.7 0 1,0 -3.4,0M457.3,282.0a1.7,1.7 0 1,0 3.4,0a1.7,1.7 0 1,0 -3.4,0M460.4,289.3a1.7,1.7 0 1,0 3.4,0a1.7,1.7 0 1,0 -3.4,0M464.8,310.5a1.7,1.7 0 1,0 3.4,0a1.7,1.7 0 1,0 -3.4,0M469.5,288.8a1.7,1.7 0 1,0 3.4,0a1.7,1.7 0 1,0 -3.4,0M474.0,306.0a1.7,1.7 0 1,0 3.4,0a1.7,1.7 0 1,0 -3.4,0M478.0,324.3a1.7,1.7 0 1,0 3.4,0a1.7,1.7 0 1,0 -3.4,0M482.4,335.8a1.7,1.7 0 1,0 3.4,0a1.7,1.7 0 1,0 -3.4,0M487.6,296.8a1.7,1.7 0 1,0 3.4,0a1.7,1.7 0 1,0 -3.4,0M492.4,281.0a1.7,1.7 0 1,0 3.4,0a1.7,1.7 0 1,0 -3.4,0M497.0,303.2a1.7,1.7 0 1,0 3.4,0a1.7,1.7 0 1,0 -3.4,0M501.8,310.6a1.7,1.7 0 1,0 3.4,0a1.7,1.7 0 1,0 -3.4,0M506.5,324.8a1.7,1.7 0 1,0 3.4,0a1.7,1.7 0 1,0 -3.4,0M511.8,316.1a1.7,1.7 0 1,0 3.4,0a1.7,1.7 0 1,0 -3.4,0M517.0,296.1a1.7,1.7 0 1,0 3.4,0a1.7,1.7 0 1,0 -3.4,0M521.2,313.1a1.7,1.7 0 1,0 3.4,0a1.7,1.7 0 1,0 -3.4,0M525.3,279.9a1.7,1.7 0 1,0 3.4,0a1.7,1.7 0 1,0 -3.4,0M530.5,310.6a1.7,1.7 0 1,0 3.4,0a1.7,1.7 0 1,0 -3.4,0M534.9,319.6a1.7,1.7 0 1,0 3.4,0a1.7,1.7 0 1,0 -3.4,0" fill="#7b70bd"/><path d="M319.2,295.4 L324.0,292.8 L328.7,309.4 L333.5,298.3 L338.7,296.1 L343.8,301.2 L348.9,307.1 L353.9,308.2 L359.3,283.5 L363.4,305.7 L368.5,301.5 L373.9,285.4 L378.9,297.6 L384.2,296.6 L388.4,316.7 L392.6,314.8 L397.5,298.9 L402.0,303.6 L406.1,288.1 L411.1,298.9 L416.4,295.5 L420.8,294.2 L425.6,336.8 L430.2,303.3 L434.2,308.1 L439.1,313.1 L443.8,290.2 L448.7,315.0 L453.1,315.7 L458.1,308.9 L461.2,290.0 L467.1,219.6 L471.0,189.6 L475.0,170.0 L476.0,167.0 L482.0,169.4 L482.6,174.6 L486.6,192.0 L492.0,248.3 L496.3,290.0 L498.6,304.1 L503.6,291.9 L507.9,310.2 L512.0,325.5 L516.9,299.3 L521.7,301.5 L526.1,293.9 L530.5,316.8 L535.6,283.1" stroke="#f26a12" stroke-width="1.1" fill="none" stroke-linejoin="round"/><path d="M317.5,295.4a1.7,1.7 0 1,0 3.4,0a1.7,1.7 0 1,0 -3.4,0M322.3,292.8a1.7,1.7 0 1,0 3.4,0a1.7,1.7 0 1,0 -3.4,0M327.0,309.4a1.7,1.7 0 1,0 3.4,0a1.7,1.7 0 1,0 -3.4,0M331.8,298.3a1.7,1.7 0 1,0 3.4,0a1.7,1.7 0 1,0 -3.4,0M337.0,296.1a1.7,1.7 0 1,0 3.4,0a1.7,1.7 0 1,0 -3.4,0M342.1,301.2a1.7,1.7 0 1,0 3.4,0a1.7,1.7 0 1,0 -3.4,0M347.2,307.1a1.7,1.7 0 1,0 3.4,0a1.7,1.7 0 1,0 -3.4,0M352.2,308.2a1.7,1.7 0 1,0 3.4,0a1.7,1.7 0 1,0 -3.4,0M357.6,283.5a1.7,1.7 0 1,0 3.4,0a1.7,1.7 0 1,0 -3.4,0M361.7,305.7a1.7,1.7 0 1,0 3.4,0a1.7,1.7 0 1,0 -3.4,0M366.8,301.5a1.7,1.7 0 1,0 3.4,0a1.7,1.7 0 1,0 -3.4,0M372.2,285.4a1.7,1.7 0 1,0 3.4,0a1.7,1.7 0 1,0 -3.4,0M377.2,297.6a1.7,1.7 0 1,0 3.4,0a1.7,1.7 0 1,0 -3.4,0M382.5,296.6a1.7,1.7 0 1,0 3.4,0a1.7,1.7 0 1,0 -3.4,0M386.7,316.7a1.7,1.7 0 1,0 3.4,0a1.7,1.7 0 1,0 -3.4,0M390.9,314.8a1.7,1.7 0 1,0 3.4,0a1.7,1.7 0 1,0 -3.4,0M395.8,298.9a1.7,1.7 0 1,0 3.4,0a1.7,1.7 0 1,0 -3.4,0M400.3,303.6a1.7,1.7 0 1,0 3.4,0a1.7,1.7 0 1,0 -3.4,0M404.4,288.1a1.7,1.7 0 1,0 3.4,0a1.7,1.7 0 1,0 -3.4,0M409.4,298.9a1.7,1.7 0 1,0 3.4,0a1.7,1.7 0 1,0 -3.4,0M414.7,295.5a1.7,1.7 0 1,0 3.4,0a1.7,1.7 0 1,0 -3.4,0M419.1,294.2a1.7,1.7 0 1,0 3.4,0a1.7,1.7 0 1,0 -3.4,0M423.9,336.8a1.7,1.7 0 1,0 3.4,0a1.7,1.7 0 1,0 -3.4,0M428.5,303.3a1.7,1.7 0 1,0 3.4,0a1.7,1.7 0 1,0 -3.4,0M432.5,308.1a1.7,1.7 0 1,0 3.4,0a1.7,1.7 0 1,0 -3.4,0M437.4,313.1a1.7,1.7 0 1,0 3.4,0a1.7,1.7 0 1,0 -3.4,0M442.1,290.2a1.7,1.7 0 1,0 3.4,0a1.7,1.7 0 1,0 -3.4,0M447.0,315.0a1.7,1.7 0 1,0 3.4,0a1.7,1.7 0 1,0 -3.4,0M451.4,315.7a1.7,1.7 0 1,0 3.4,0a1.7,1.7 0 1,0 -3.4,0M456.4,308.9a1.7,1.7 0 1,0 3.4,0a1.7,1.7 0 1,0 -3.4,0M459.5,290.0a1.7,1.7 0 1,0 3.4,0a1.7,1.7 0 1,0 -3.4,0M465.4,219.6a1.7,1.7 0 1,0 3.4,0a1.7,1.7 0 1,0 -3.4,0M469.3,189.6a1.7,1.7 0 1,0 3.4,0a1.7,1.7 0 1,0 -3.4,0M473.3,170.0a1.7,1.7 0 1,0 3.4,0a1.7,1.7 0 1,0 -3.4,0M474.3,167.0a1.7,1.7 0 1,0 3.4,0a1.7,1.7 0 1,0 -3.4,0M480.3,169.4a1.7,1.7 0 1,0 3.4,0a1.7,1.7 0 1,0 -3.4,0M480.9,174.6a1.7,1.7 0 1,0 3.4,0a1.7,1.7 0 1,0 -3.4,0M484.9,192.0a1.7,1.7 0 1,0 3.4,0a1.7,1.7 0 1,0 -3.4,0M490.3,248.3a1.7,1.7 0 1,0 3.4,0a1.7,1.7 0 1,0 -3.4,0M494.6,290.0a1.7,1.7 0 1,0 3.4,0a1.7,1.7 0 1,0 -3.4,0M496.9,304.1a1.7,1.7 0 1,0 3.4,0a1.7,1.7 0 1,0 -3.4,0M501.9,291.9a1.7,1.7 0 1,0 3.4,0a1.7,1.7 0 1,0 -3.4,0M506.2,310.2a1.7,1.7 0 1,0 3.4,0a1.7,1.7 0 1,0 -3.4,0M510.3,325.5a1.7,1.7 0 1,0 3.4,0a1.7,1.7 0 1,0 -3.4,0M515.2,299.3a1.7,1.7 0 1,0 3.4,0a1.7,1.7 0 1,0 -3.4,0M520.0,301.5a1.7,1.7 0 1,0 3.4,0a1.7,1.7 0 1,0 -3.4,0M524.4,293.9a1.7,1.7 0 1,0 3.4,0a1.7,1.7 0 1,0 -3.4,0M528.8,316.8a1.7,1.7 0 1,0 3.4,0a1.7,1.7 0 1,0 -3.4,0M533.9,283.1a1.7,1.7 0 1,0 3.4,0a1.7,1.7 0 1,0 -3.4,0" fill="#f26a12"/><path d="M317.0,301.3 L322.3,309.7 L326.4,314.6 L331.8,318.8 L336.0,328.0 L340.9,311.8 L345.3,297.2 L350.2,313.6 L354.4,294.1 L359.6,320.7 L364.2,325.9 L369.4,324.3 L374.2,307.5 L379.2,310.5 L383.2,301.5 L387.5,276.7 L392.2,298.2 L397.3,289.5 L402.5,305.4 L407.4,319.7 L411.5,298.6 L415.7,298.0 L420.3,293.9 L425.5,299.2 L429.9,296.6 L434.1,307.8 L438.8,295.4 L442.8,293.4 L448.2,311.6 L453.1,312.8 L458.4,319.6 L462.6,311.2 L467.6,315.7 L472.6,300.5 L476.6,297.3 L480.9,292.8 L486.3,298.7 L490.8,311.5 L496.0,292.0 L498.4,268.5 L503.3,218.5 L509.0,177.6 L513.0,175.4 L514.6,176.6 L515.6,180.4 L520.0,195.6 L525.0,244.0 L529.3,269.6 L531.0,280.0 L534.5,290.7" stroke="#1b9e77" stroke-width="1.1" fill="none" stroke-linejoin="round"/><path d="M315.3,301.3a1.7,1.7 0 1,0 3.4,0a1.7,1.7 0 1,0 -3.4,0M320.6,309.7a1.7,1.7 0 1,0 3.4,0a1.7,1.7 0 1,0 -3.4,0M324.7,314.6a1.7,1.7 0 1,0 3.4,0a1.7,1.7 0 1,0 -3.4,0M330.1,318.8a1.7,1.7 0 1,0 3.4,0a1.7,1.7 0 1,0 -3.4,0M334.3,328.0a1.7,1.7 0 1,0 3.4,0a1.7,1.7 0 1,0 -3.4,0M339.2,311.8a1.7,1.7 0 1,0 3.4,0a1.7,1.7 0 1,0 -3.4,0M343.6,297.2a1.7,1.7 0 1,0 3.4,0a1.7,1.7 0 1,0 -3.4,0M348.5,313.6a1.7,1.7 0 1,0 3.4,0a1.7,1.7 0 1,0 -3.4,0M352.7,294.1a1.7,1.7 0 1,0 3.4,0a1.7,1.7 0 1,0 -3.4,0M357.9,320.7a1.7,1.7 0 1,0 3.4,0a1.7,1.7 0 1,0 -3.4,0M362.5,325.9a1.7,1.7 0 1,0 3.4,0a1.7,1.7 0 1,0 -3.4,0M367.7,324.3a1.7,1.7 0 1,0 3.4,0a1.7,1.7 0 1,0 -3.4,0M372.5,307.5a1.7,1.7 0 1,0 3.4,0a1.7,1.7 0 1,0 -3.4,0M377.5,310.5a1.7,1.7 0 1,0 3.4,0a1.7,1.7 0 1,0 -3.4,0M381.5,301.5a1.7,1.7 0 1,0 3.4,0a1.7,1.7 0 1,0 -3.4,0M385.8,276.7a1.7,1.7 0 1,0 3.4,0a1.7,1.7 0 1,0 -3.4,0M390.5,298.2a1.7,1.7 0 1,0 3.4,0a1.7,1.7 0 1,0 -3.4,0M395.6,289.5a1.7,1.7 0 1,0 3.4,0a1.7,1.7 0 1,0 -3.4,0M400.8,305.4a1.7,1.7 0 1,0 3.4,0a1.7,1.7 0 1,0 -3.4,0M405.7,319.7a1.7,1.7 0 1,0 3.4,0a1.7,1.7 0 1,0 -3.4,0M409.8,298.6a1.7,1.7 0 1,0 3.4,0a1.7,1.7 0 1,0 -3.4,0M414.0,298.0a1.7,1.7 0 1,0 3.4,0a1.7,1.7 0 1,0 -3.4,0M418.6,293.9a1.7,1.7 0 1,0 3.4,0a1.7,1.7 0 1,0 -3.4,0M423.8,299.2a1.7,1.7 0 1,0 3.4,0a1.7,1.7 0 1,0 -3.4,0M428.2,296.6a1.7,1.7 0 1,0 3.4,0a1.7,1.7 0 1,0 -3.4,0M432.4,307.8a1.7,1.7 0 1,0 3.4,0a1.7,1.7 0 1,0 -3.4,0M437.1,295.4a1.7,1.7 0 1,0 3.4,0a1.7,1.7 0 1,0 -3.4,0M441.1,293.4a1.7,1.7 0 1,0 3.4,0a1.7,1.7 0 1,0 -3.4,0M446.5,311.6a1.7,1.7 0 1,0 3.4,0a1.7,1.7 0 1,0 -3.4,0M451.4,312.8a1.7,1.7 0 1,0 3.4,0a1.7,1.7 0 1,0 -3.4,0M456.7,319.6a1.7,1.7 0 1,0 3.4,0a1.7,1.7 0 1,0 -3.4,0M460.9,311.2a1.7,1.7 0 1,0 3.4,0a1.7,1.7 0 1,0 -3.4,0M465.9,315.7a1.7,1.7 0 1,0 3.4,0a1.7,1.7 0 1,0 -3.4,0M470.9,300.5a1.7,1.7 0 1,0 3.4,0a1.7,1.7 0 1,0 -3.4,0M474.9,297.3a1.7,1.7 0 1,0 3.4,0a1.7,1.7 0 1,0 -3.4,0M479.2,292.8a1.7,1.7 0 1,0 3.4,0a1.7,1.7 0 1,0 -3.4,0M484.6,298.7a1.7,1.7 0 1,0 3.4,0a1.7,1.7 0 1,0 -3.4,0M489.1,311.5a1.7,1.7 0 1,0 3.4,0a1.7,1.7 0 1,0 -3.4,0M494.3,292.0a1.7,1.7 0 1,0 3.4,0a1.7,1.7 0 1,0 -3.4,0M496.7,268.5a1.7,1.7 0 1,0 3.4,0a1.7,1.7 0 1,0 -3.4,0M501.6,218.5a1.7,1.7 0 1,0 3.4,0a1.7,1.7 0 1,0 -3.4,0M507.3,177.6a1.7,1.7 0 1,0 3.4,0a1.7,1.7 0 1,0 -3.4,0M511.3,175.4a1.7,1.7 0 1,0 3.4,0a1.7,1.7 0 1,0 -3.4,0M512.9,176.6a1.7,1.7 0 1,0 3.4,0a1.7,1.7 0 1,0 -3.4,0M513.9,180.4a1.7,1.7 0 1,0 3.4,0a1.7,1.7 0 1,0 -3.4,0M518.3,195.6a1.7,1.7 0 1,0 3.4,0a1.7,1.7 0 1,0 -3.4,0M523.3,244.0a1.7,1.7 0 1,0 3.4,0a1.7,1.7 0 1,0 -3.4,0M527.6,269.6a1.7,1.7 0 1,0 3.4,0a1.7,1.7 0 1,0 -3.4,0M529.3,280.0a1.7,1.7 0 1,0 3.4,0a1.7,1.7 0 1,0 -3.4,0M532.8,290.7a1.7,1.7 0 1,0 3.4,0a1.7,1.7 0 1,0 -3.4,0" fill="#1b9e77"/></g><rect x="318.5" y="155.5" width="215.0" height="178.0" fill="none" stroke="#707070" stroke-width="1"/><path d="M392,271.8 H533" stroke="#8a8a8a" stroke-width="1.3" stroke-dasharray="3,3"/><path d="M409.4,178 V268" stroke="#111" stroke-width="1.1"/><path d="M409.4,173.4 l-2.2,5.5 h4.4 z M409.4,272.2 l-2.2,-5.5 h4.4 z" fill="#111"/><path d="M386.5,172.5 L408.8,209" stroke="#707070" stroke-width="0.6"/><text x="370.4" y="171.5" font-size="16.3" font-family="Liberation Serif" fill="#1a1a1a" text-anchor="start" textLength="33.8" lengthAdjust="spacingAndGlyphs" >16dB</text><text x="314.4" y="185.6" font-size="14.5" font-family="Liberation Serif" fill="#1a1a1a" text-anchor="end" textLength="15.6" lengthAdjust="spacingAndGlyphs" >20</text><text x="314.4" y="216.4" font-size="14.5" font-family="Liberation Serif" fill="#1a1a1a" text-anchor="end" textLength="15.6" lengthAdjust="spacingAndGlyphs" >15</text><text x="314.4" y="247.1" font-size="14.5" font-family="Liberation Serif" fill="#1a1a1a" text-anchor="end" textLength="15.6" lengthAdjust="spacingAndGlyphs" >10</text><text x="314.4" y="277.9" font-size="14.5" font-family="Liberation Serif" fill="#1a1a1a" text-anchor="end" textLength="7.8" lengthAdjust="spacingAndGlyphs" >5</text><text x="314.4" y="308.6" font-size="14.5" font-family="Liberation Serif" fill="#1a1a1a" text-anchor="end" textLength="7.8" lengthAdjust="spacingAndGlyphs" >0</text><text x="314.4" y="339.4" font-size="14.5" font-family="Liberation Serif" fill="#1a1a1a" text-anchor="end" textLength="18.6" lengthAdjust="spacingAndGlyphs" >−5</text><text x="348.2" y="347.9" font-size="15" font-family="Liberation Serif" fill="#1a1a1a" text-anchor="middle" textLength="31.1" lengthAdjust="spacingAndGlyphs" >3750</text><text x="385.0" y="347.9" font-size="15" font-family="Liberation Serif" fill="#1a1a1a" text-anchor="middle" textLength="31.1" lengthAdjust="spacingAndGlyphs" >3760</text><text x="421.8" y="347.9" font-size="15" font-family="Liberation Serif" fill="#1a1a1a" text-anchor="middle" textLength="31.1" lengthAdjust="spacingAndGlyphs" >3770</text><text x="458.6" y="347.9" font-size="15" font-family="Liberation Serif" fill="#1a1a1a" text-anchor="middle" textLength="31.1" lengthAdjust="spacingAndGlyphs" >3780</text><text x="495.4" y="347.9" font-size="15" font-family="Liberation Serif" fill="#1a1a1a" text-anchor="middle" textLength="31.1" lengthAdjust="spacingAndGlyphs" >3790</text><text x="532.2" y="347.9" font-size="15" font-family="Liberation Serif" fill="#1a1a1a" text-anchor="middle" textLength="31.1" lengthAdjust="spacingAndGlyphs" >3800</text><text x="425.6" y="366.5" font-size="15" font-family="Liberation Serif" fill="#1a1a1a" text-anchor="middle" textLength="112" lengthAdjust="spacingAndGlyphs" >wavelength (nm)</text><text x="0" y="0" font-size="12.8" font-family="Liberation Serif" fill="#1a1a1a" text-anchor="middle" textLength="152" lengthAdjust="spacingAndGlyphs" transform="translate(285.6,232) rotate(-90)">normalized signal (dB)</text><text x="297.6" y="160.2" font-size="11" font-family="Liberation Serif" fill="#1a1a1a" text-anchor="start" textLength="12.4" lengthAdjust="spacingAndGlyphs" >(d)</text></svg></body></html>
